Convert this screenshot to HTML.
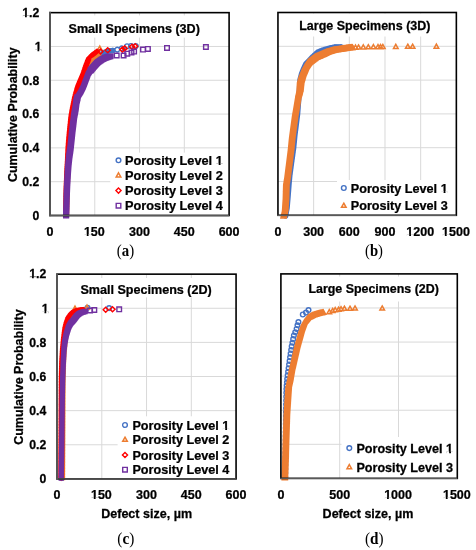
<!DOCTYPE html><html><head><meta charset="utf-8"><style>html,body{margin:0;padding:0;background:#fff;width:476px;height:550px;overflow:hidden}</style></head><body><svg width="476" height="550" viewBox="0 0 476 550" style="display:block;will-change:transform">
<rect width="476" height="550" fill="#fff"/>
<line x1="50.00" y1="181.69" x2="229.10" y2="181.69" stroke="#D9D9D9" stroke-width="1"/>
<line x1="50.00" y1="147.88" x2="229.10" y2="147.88" stroke="#D9D9D9" stroke-width="1"/>
<line x1="50.00" y1="114.08" x2="229.10" y2="114.08" stroke="#D9D9D9" stroke-width="1"/>
<line x1="50.00" y1="80.27" x2="229.10" y2="80.27" stroke="#D9D9D9" stroke-width="1"/>
<line x1="50.00" y1="46.46" x2="229.10" y2="46.46" stroke="#D9D9D9" stroke-width="1"/>
<line x1="94.78" y1="12.65" x2="94.78" y2="215.50" stroke="#D9D9D9" stroke-width="1"/>
<line x1="139.55" y1="12.65" x2="139.55" y2="215.50" stroke="#D9D9D9" stroke-width="1"/>
<line x1="184.32" y1="12.65" x2="184.32" y2="215.50" stroke="#D9D9D9" stroke-width="1"/>
<line x1="277.95" y1="181.50" x2="456.35" y2="181.50" stroke="#D9D9D9" stroke-width="1"/>
<line x1="277.95" y1="147.70" x2="456.35" y2="147.70" stroke="#D9D9D9" stroke-width="1"/>
<line x1="277.95" y1="113.90" x2="456.35" y2="113.90" stroke="#D9D9D9" stroke-width="1"/>
<line x1="277.95" y1="80.10" x2="456.35" y2="80.10" stroke="#D9D9D9" stroke-width="1"/>
<line x1="277.95" y1="46.30" x2="456.35" y2="46.30" stroke="#D9D9D9" stroke-width="1"/>
<line x1="313.63" y1="12.50" x2="313.63" y2="215.30" stroke="#D9D9D9" stroke-width="1"/>
<line x1="349.31" y1="12.50" x2="349.31" y2="215.30" stroke="#D9D9D9" stroke-width="1"/>
<line x1="384.99" y1="12.50" x2="384.99" y2="215.30" stroke="#D9D9D9" stroke-width="1"/>
<line x1="420.67" y1="12.50" x2="420.67" y2="215.30" stroke="#D9D9D9" stroke-width="1"/>
<line x1="57.05" y1="444.77" x2="236.07" y2="444.77" stroke="#D9D9D9" stroke-width="1"/>
<line x1="57.05" y1="410.65" x2="236.07" y2="410.65" stroke="#D9D9D9" stroke-width="1"/>
<line x1="57.05" y1="376.52" x2="236.07" y2="376.52" stroke="#D9D9D9" stroke-width="1"/>
<line x1="57.05" y1="342.40" x2="236.07" y2="342.40" stroke="#D9D9D9" stroke-width="1"/>
<line x1="57.05" y1="308.27" x2="236.07" y2="308.27" stroke="#D9D9D9" stroke-width="1"/>
<line x1="101.80" y1="274.15" x2="101.80" y2="478.90" stroke="#D9D9D9" stroke-width="1"/>
<line x1="146.56" y1="274.15" x2="146.56" y2="478.90" stroke="#D9D9D9" stroke-width="1"/>
<line x1="191.31" y1="274.15" x2="191.31" y2="478.90" stroke="#D9D9D9" stroke-width="1"/>
<line x1="280.90" y1="444.32" x2="457.30" y2="444.32" stroke="#D9D9D9" stroke-width="1"/>
<line x1="280.90" y1="410.23" x2="457.30" y2="410.23" stroke="#D9D9D9" stroke-width="1"/>
<line x1="280.90" y1="376.15" x2="457.30" y2="376.15" stroke="#D9D9D9" stroke-width="1"/>
<line x1="280.90" y1="342.07" x2="457.30" y2="342.07" stroke="#D9D9D9" stroke-width="1"/>
<line x1="280.90" y1="307.98" x2="457.30" y2="307.98" stroke="#D9D9D9" stroke-width="1"/>
<line x1="339.70" y1="273.90" x2="339.70" y2="478.40" stroke="#D9D9D9" stroke-width="1"/>
<line x1="398.50" y1="273.90" x2="398.50" y2="478.40" stroke="#D9D9D9" stroke-width="1"/>
<rect x="63" y="15.4" width="145" height="22.2" fill="#fff"/>
<rect x="293" y="13.5" width="143" height="23.0" fill="#fff"/>
<rect x="75" y="278.0" width="143" height="19.4" fill="#fff"/>
<rect x="303" y="276.5" width="141" height="25.0" fill="#fff"/>
<rect x="110.3" y="152.6" width="118.80" height="62.90" fill="#fff"/>
<rect x="337" y="180" width="119.35" height="35.30" fill="#fff"/>
<rect x="117.6" y="416.3" width="118.47" height="62.60" fill="#fff"/>
<rect x="341.5" y="437" width="115.80" height="41.40" fill="#fff"/>
<path d="M64.00 215.00a2.00 2.00 0 1 0 4.00 0a2.00 2.00 0 1 0 -4.00 0zM64.02 214.31a2.00 2.00 0 1 0 4.00 0a2.00 2.00 0 1 0 -4.00 0zM64.04 213.61a2.00 2.00 0 1 0 4.00 0a2.00 2.00 0 1 0 -4.00 0zM64.06 212.92a2.00 2.00 0 1 0 4.00 0a2.00 2.00 0 1 0 -4.00 0zM64.08 212.22a2.00 2.00 0 1 0 4.00 0a2.00 2.00 0 1 0 -4.00 0zM64.10 211.53a2.00 2.00 0 1 0 4.00 0a2.00 2.00 0 1 0 -4.00 0zM64.12 210.84a2.00 2.00 0 1 0 4.00 0a2.00 2.00 0 1 0 -4.00 0zM64.15 210.14a2.00 2.00 0 1 0 4.00 0a2.00 2.00 0 1 0 -4.00 0zM64.17 209.45a2.00 2.00 0 1 0 4.00 0a2.00 2.00 0 1 0 -4.00 0zM64.19 208.76a2.00 2.00 0 1 0 4.00 0a2.00 2.00 0 1 0 -4.00 0zM64.21 208.06a2.00 2.00 0 1 0 4.00 0a2.00 2.00 0 1 0 -4.00 0zM64.23 207.37a2.00 2.00 0 1 0 4.00 0a2.00 2.00 0 1 0 -4.00 0zM64.25 206.67a2.00 2.00 0 1 0 4.00 0a2.00 2.00 0 1 0 -4.00 0zM64.27 205.98a2.00 2.00 0 1 0 4.00 0a2.00 2.00 0 1 0 -4.00 0zM64.29 205.29a2.00 2.00 0 1 0 4.00 0a2.00 2.00 0 1 0 -4.00 0zM64.31 204.59a2.00 2.00 0 1 0 4.00 0a2.00 2.00 0 1 0 -4.00 0zM64.33 203.90a2.00 2.00 0 1 0 4.00 0a2.00 2.00 0 1 0 -4.00 0zM64.35 203.20a2.00 2.00 0 1 0 4.00 0a2.00 2.00 0 1 0 -4.00 0zM64.37 202.51a2.00 2.00 0 1 0 4.00 0a2.00 2.00 0 1 0 -4.00 0zM64.39 201.82a2.00 2.00 0 1 0 4.00 0a2.00 2.00 0 1 0 -4.00 0zM64.41 201.12a2.00 2.00 0 1 0 4.00 0a2.00 2.00 0 1 0 -4.00 0zM64.43 200.43a2.00 2.00 0 1 0 4.00 0a2.00 2.00 0 1 0 -4.00 0zM64.45 199.73a2.00 2.00 0 1 0 4.00 0a2.00 2.00 0 1 0 -4.00 0zM64.47 199.04a2.00 2.00 0 1 0 4.00 0a2.00 2.00 0 1 0 -4.00 0zM64.49 198.35a2.00 2.00 0 1 0 4.00 0a2.00 2.00 0 1 0 -4.00 0zM64.51 197.65a2.00 2.00 0 1 0 4.00 0a2.00 2.00 0 1 0 -4.00 0zM64.53 196.96a2.00 2.00 0 1 0 4.00 0a2.00 2.00 0 1 0 -4.00 0zM64.55 196.27a2.00 2.00 0 1 0 4.00 0a2.00 2.00 0 1 0 -4.00 0zM64.57 195.57a2.00 2.00 0 1 0 4.00 0a2.00 2.00 0 1 0 -4.00 0zM64.59 194.88a2.00 2.00 0 1 0 4.00 0a2.00 2.00 0 1 0 -4.00 0zM64.61 194.18a2.00 2.00 0 1 0 4.00 0a2.00 2.00 0 1 0 -4.00 0zM64.64 193.49a2.00 2.00 0 1 0 4.00 0a2.00 2.00 0 1 0 -4.00 0zM64.66 192.80a2.00 2.00 0 1 0 4.00 0a2.00 2.00 0 1 0 -4.00 0zM64.68 192.10a2.00 2.00 0 1 0 4.00 0a2.00 2.00 0 1 0 -4.00 0zM64.70 191.41a2.00 2.00 0 1 0 4.00 0a2.00 2.00 0 1 0 -4.00 0zM64.72 190.71a2.00 2.00 0 1 0 4.00 0a2.00 2.00 0 1 0 -4.00 0zM64.74 190.02a2.00 2.00 0 1 0 4.00 0a2.00 2.00 0 1 0 -4.00 0zM64.76 189.33a2.00 2.00 0 1 0 4.00 0a2.00 2.00 0 1 0 -4.00 0zM64.78 188.63a2.00 2.00 0 1 0 4.00 0a2.00 2.00 0 1 0 -4.00 0zM64.80 187.94a2.00 2.00 0 1 0 4.00 0a2.00 2.00 0 1 0 -4.00 0zM64.82 187.24a2.00 2.00 0 1 0 4.00 0a2.00 2.00 0 1 0 -4.00 0zM64.84 186.55a2.00 2.00 0 1 0 4.00 0a2.00 2.00 0 1 0 -4.00 0zM64.86 185.86a2.00 2.00 0 1 0 4.00 0a2.00 2.00 0 1 0 -4.00 0zM64.88 185.16a2.00 2.00 0 1 0 4.00 0a2.00 2.00 0 1 0 -4.00 0zM64.90 184.47a2.00 2.00 0 1 0 4.00 0a2.00 2.00 0 1 0 -4.00 0zM64.92 183.78a2.00 2.00 0 1 0 4.00 0a2.00 2.00 0 1 0 -4.00 0zM64.94 183.08a2.00 2.00 0 1 0 4.00 0a2.00 2.00 0 1 0 -4.00 0zM64.96 182.39a2.00 2.00 0 1 0 4.00 0a2.00 2.00 0 1 0 -4.00 0zM64.98 181.69a2.00 2.00 0 1 0 4.00 0a2.00 2.00 0 1 0 -4.00 0zM65.00 181.00a2.00 2.00 0 1 0 4.00 0a2.00 2.00 0 1 0 -4.00 0zM65.03 180.32a2.00 2.00 0 1 0 4.00 0a2.00 2.00 0 1 0 -4.00 0zM65.07 179.65a2.00 2.00 0 1 0 4.00 0a2.00 2.00 0 1 0 -4.00 0zM65.10 178.97a2.00 2.00 0 1 0 4.00 0a2.00 2.00 0 1 0 -4.00 0zM65.13 178.29a2.00 2.00 0 1 0 4.00 0a2.00 2.00 0 1 0 -4.00 0zM65.16 177.61a2.00 2.00 0 1 0 4.00 0a2.00 2.00 0 1 0 -4.00 0zM65.20 176.94a2.00 2.00 0 1 0 4.00 0a2.00 2.00 0 1 0 -4.00 0zM65.23 176.26a2.00 2.00 0 1 0 4.00 0a2.00 2.00 0 1 0 -4.00 0zM65.26 175.58a2.00 2.00 0 1 0 4.00 0a2.00 2.00 0 1 0 -4.00 0zM65.29 174.90a2.00 2.00 0 1 0 4.00 0a2.00 2.00 0 1 0 -4.00 0zM65.33 174.23a2.00 2.00 0 1 0 4.00 0a2.00 2.00 0 1 0 -4.00 0zM65.36 173.55a2.00 2.00 0 1 0 4.00 0a2.00 2.00 0 1 0 -4.00 0zM65.39 172.87a2.00 2.00 0 1 0 4.00 0a2.00 2.00 0 1 0 -4.00 0zM65.42 172.19a2.00 2.00 0 1 0 4.00 0a2.00 2.00 0 1 0 -4.00 0zM65.45 171.52a2.00 2.00 0 1 0 4.00 0a2.00 2.00 0 1 0 -4.00 0zM65.49 170.84a2.00 2.00 0 1 0 4.00 0a2.00 2.00 0 1 0 -4.00 0zM65.52 170.16a2.00 2.00 0 1 0 4.00 0a2.00 2.00 0 1 0 -4.00 0zM65.55 169.48a2.00 2.00 0 1 0 4.00 0a2.00 2.00 0 1 0 -4.00 0zM65.58 168.81a2.00 2.00 0 1 0 4.00 0a2.00 2.00 0 1 0 -4.00 0zM65.62 168.13a2.00 2.00 0 1 0 4.00 0a2.00 2.00 0 1 0 -4.00 0zM65.65 167.45a2.00 2.00 0 1 0 4.00 0a2.00 2.00 0 1 0 -4.00 0zM65.68 166.77a2.00 2.00 0 1 0 4.00 0a2.00 2.00 0 1 0 -4.00 0zM65.71 166.10a2.00 2.00 0 1 0 4.00 0a2.00 2.00 0 1 0 -4.00 0zM65.74 165.42a2.00 2.00 0 1 0 4.00 0a2.00 2.00 0 1 0 -4.00 0zM65.78 164.74a2.00 2.00 0 1 0 4.00 0a2.00 2.00 0 1 0 -4.00 0zM65.81 164.06a2.00 2.00 0 1 0 4.00 0a2.00 2.00 0 1 0 -4.00 0zM65.84 163.39a2.00 2.00 0 1 0 4.00 0a2.00 2.00 0 1 0 -4.00 0zM65.87 162.71a2.00 2.00 0 1 0 4.00 0a2.00 2.00 0 1 0 -4.00 0zM65.91 162.03a2.00 2.00 0 1 0 4.00 0a2.00 2.00 0 1 0 -4.00 0zM65.94 161.35a2.00 2.00 0 1 0 4.00 0a2.00 2.00 0 1 0 -4.00 0zM65.97 160.68a2.00 2.00 0 1 0 4.00 0a2.00 2.00 0 1 0 -4.00 0zM66.00 160.00a2.00 2.00 0 1 0 4.00 0a2.00 2.00 0 1 0 -4.00 0zM66.07 159.32a2.00 2.00 0 1 0 4.00 0a2.00 2.00 0 1 0 -4.00 0zM66.13 158.63a2.00 2.00 0 1 0 4.00 0a2.00 2.00 0 1 0 -4.00 0zM66.19 157.95a2.00 2.00 0 1 0 4.00 0a2.00 2.00 0 1 0 -4.00 0zM66.26 157.26a2.00 2.00 0 1 0 4.00 0a2.00 2.00 0 1 0 -4.00 0zM66.32 156.58a2.00 2.00 0 1 0 4.00 0a2.00 2.00 0 1 0 -4.00 0zM66.38 155.89a2.00 2.00 0 1 0 4.00 0a2.00 2.00 0 1 0 -4.00 0zM66.44 155.21a2.00 2.00 0 1 0 4.00 0a2.00 2.00 0 1 0 -4.00 0zM66.51 154.53a2.00 2.00 0 1 0 4.00 0a2.00 2.00 0 1 0 -4.00 0zM66.57 153.84a2.00 2.00 0 1 0 4.00 0a2.00 2.00 0 1 0 -4.00 0zM66.63 153.16a2.00 2.00 0 1 0 4.00 0a2.00 2.00 0 1 0 -4.00 0zM66.70 152.47a2.00 2.00 0 1 0 4.00 0a2.00 2.00 0 1 0 -4.00 0zM66.76 151.79a2.00 2.00 0 1 0 4.00 0a2.00 2.00 0 1 0 -4.00 0zM66.82 151.11a2.00 2.00 0 1 0 4.00 0a2.00 2.00 0 1 0 -4.00 0zM66.89 150.42a2.00 2.00 0 1 0 4.00 0a2.00 2.00 0 1 0 -4.00 0zM66.95 149.74a2.00 2.00 0 1 0 4.00 0a2.00 2.00 0 1 0 -4.00 0zM67.01 149.05a2.00 2.00 0 1 0 4.00 0a2.00 2.00 0 1 0 -4.00 0zM67.08 148.37a2.00 2.00 0 1 0 4.00 0a2.00 2.00 0 1 0 -4.00 0zM67.14 147.68a2.00 2.00 0 1 0 4.00 0a2.00 2.00 0 1 0 -4.00 0zM67.20 147.00a2.00 2.00 0 1 0 4.00 0a2.00 2.00 0 1 0 -4.00 0zM67.25 146.31a2.00 2.00 0 1 0 4.00 0a2.00 2.00 0 1 0 -4.00 0zM67.30 145.61a2.00 2.00 0 1 0 4.00 0a2.00 2.00 0 1 0 -4.00 0zM67.35 144.92a2.00 2.00 0 1 0 4.00 0a2.00 2.00 0 1 0 -4.00 0zM67.40 144.22a2.00 2.00 0 1 0 4.00 0a2.00 2.00 0 1 0 -4.00 0zM67.45 143.53a2.00 2.00 0 1 0 4.00 0a2.00 2.00 0 1 0 -4.00 0zM67.50 142.83a2.00 2.00 0 1 0 4.00 0a2.00 2.00 0 1 0 -4.00 0zM67.55 142.14a2.00 2.00 0 1 0 4.00 0a2.00 2.00 0 1 0 -4.00 0zM67.60 141.44a2.00 2.00 0 1 0 4.00 0a2.00 2.00 0 1 0 -4.00 0zM67.65 140.75a2.00 2.00 0 1 0 4.00 0a2.00 2.00 0 1 0 -4.00 0zM67.70 140.06a2.00 2.00 0 1 0 4.00 0a2.00 2.00 0 1 0 -4.00 0zM67.75 139.36a2.00 2.00 0 1 0 4.00 0a2.00 2.00 0 1 0 -4.00 0zM67.80 138.67a2.00 2.00 0 1 0 4.00 0a2.00 2.00 0 1 0 -4.00 0zM67.85 137.97a2.00 2.00 0 1 0 4.00 0a2.00 2.00 0 1 0 -4.00 0zM67.90 137.28a2.00 2.00 0 1 0 4.00 0a2.00 2.00 0 1 0 -4.00 0zM67.95 136.58a2.00 2.00 0 1 0 4.00 0a2.00 2.00 0 1 0 -4.00 0zM68.00 135.89a2.00 2.00 0 1 0 4.00 0a2.00 2.00 0 1 0 -4.00 0zM68.05 135.19a2.00 2.00 0 1 0 4.00 0a2.00 2.00 0 1 0 -4.00 0zM68.10 134.50a2.00 2.00 0 1 0 4.00 0a2.00 2.00 0 1 0 -4.00 0zM68.15 133.81a2.00 2.00 0 1 0 4.00 0a2.00 2.00 0 1 0 -4.00 0zM68.20 133.11a2.00 2.00 0 1 0 4.00 0a2.00 2.00 0 1 0 -4.00 0zM68.25 132.42a2.00 2.00 0 1 0 4.00 0a2.00 2.00 0 1 0 -4.00 0zM68.30 131.72a2.00 2.00 0 1 0 4.00 0a2.00 2.00 0 1 0 -4.00 0zM68.35 131.03a2.00 2.00 0 1 0 4.00 0a2.00 2.00 0 1 0 -4.00 0zM68.40 130.33a2.00 2.00 0 1 0 4.00 0a2.00 2.00 0 1 0 -4.00 0zM68.45 129.64a2.00 2.00 0 1 0 4.00 0a2.00 2.00 0 1 0 -4.00 0zM68.50 128.94a2.00 2.00 0 1 0 4.00 0a2.00 2.00 0 1 0 -4.00 0zM68.55 128.25a2.00 2.00 0 1 0 4.00 0a2.00 2.00 0 1 0 -4.00 0zM68.60 127.56a2.00 2.00 0 1 0 4.00 0a2.00 2.00 0 1 0 -4.00 0zM68.65 126.86a2.00 2.00 0 1 0 4.00 0a2.00 2.00 0 1 0 -4.00 0zM68.70 126.17a2.00 2.00 0 1 0 4.00 0a2.00 2.00 0 1 0 -4.00 0zM68.75 125.47a2.00 2.00 0 1 0 4.00 0a2.00 2.00 0 1 0 -4.00 0zM68.80 124.78a2.00 2.00 0 1 0 4.00 0a2.00 2.00 0 1 0 -4.00 0zM68.85 124.08a2.00 2.00 0 1 0 4.00 0a2.00 2.00 0 1 0 -4.00 0zM68.90 123.39a2.00 2.00 0 1 0 4.00 0a2.00 2.00 0 1 0 -4.00 0zM68.95 122.69a2.00 2.00 0 1 0 4.00 0a2.00 2.00 0 1 0 -4.00 0zM69.00 122.00a2.00 2.00 0 1 0 4.00 0a2.00 2.00 0 1 0 -4.00 0zM69.11 121.32a2.00 2.00 0 1 0 4.00 0a2.00 2.00 0 1 0 -4.00 0zM69.21 120.63a2.00 2.00 0 1 0 4.00 0a2.00 2.00 0 1 0 -4.00 0zM69.32 119.95a2.00 2.00 0 1 0 4.00 0a2.00 2.00 0 1 0 -4.00 0zM69.42 119.26a2.00 2.00 0 1 0 4.00 0a2.00 2.00 0 1 0 -4.00 0zM69.53 118.58a2.00 2.00 0 1 0 4.00 0a2.00 2.00 0 1 0 -4.00 0zM69.63 117.89a2.00 2.00 0 1 0 4.00 0a2.00 2.00 0 1 0 -4.00 0zM69.74 117.21a2.00 2.00 0 1 0 4.00 0a2.00 2.00 0 1 0 -4.00 0zM69.84 116.53a2.00 2.00 0 1 0 4.00 0a2.00 2.00 0 1 0 -4.00 0zM69.95 115.84a2.00 2.00 0 1 0 4.00 0a2.00 2.00 0 1 0 -4.00 0zM70.06 115.16a2.00 2.00 0 1 0 4.00 0a2.00 2.00 0 1 0 -4.00 0zM70.16 114.47a2.00 2.00 0 1 0 4.00 0a2.00 2.00 0 1 0 -4.00 0zM70.27 113.79a2.00 2.00 0 1 0 4.00 0a2.00 2.00 0 1 0 -4.00 0zM70.37 113.11a2.00 2.00 0 1 0 4.00 0a2.00 2.00 0 1 0 -4.00 0zM70.48 112.42a2.00 2.00 0 1 0 4.00 0a2.00 2.00 0 1 0 -4.00 0zM70.58 111.74a2.00 2.00 0 1 0 4.00 0a2.00 2.00 0 1 0 -4.00 0zM70.69 111.05a2.00 2.00 0 1 0 4.00 0a2.00 2.00 0 1 0 -4.00 0zM70.79 110.37a2.00 2.00 0 1 0 4.00 0a2.00 2.00 0 1 0 -4.00 0zM70.90 109.68a2.00 2.00 0 1 0 4.00 0a2.00 2.00 0 1 0 -4.00 0zM71.00 109.00a2.00 2.00 0 1 0 4.00 0a2.00 2.00 0 1 0 -4.00 0zM71.21 108.32a2.00 2.00 0 1 0 4.00 0a2.00 2.00 0 1 0 -4.00 0zM71.41 107.64a2.00 2.00 0 1 0 4.00 0a2.00 2.00 0 1 0 -4.00 0zM71.62 106.95a2.00 2.00 0 1 0 4.00 0a2.00 2.00 0 1 0 -4.00 0zM71.82 106.27a2.00 2.00 0 1 0 4.00 0a2.00 2.00 0 1 0 -4.00 0zM72.03 105.59a2.00 2.00 0 1 0 4.00 0a2.00 2.00 0 1 0 -4.00 0zM72.23 104.91a2.00 2.00 0 1 0 4.00 0a2.00 2.00 0 1 0 -4.00 0zM72.43 104.23a2.00 2.00 0 1 0 4.00 0a2.00 2.00 0 1 0 -4.00 0zM72.64 103.55a2.00 2.00 0 1 0 4.00 0a2.00 2.00 0 1 0 -4.00 0zM72.84 102.86a2.00 2.00 0 1 0 4.00 0a2.00 2.00 0 1 0 -4.00 0zM73.05 102.18a2.00 2.00 0 1 0 4.00 0a2.00 2.00 0 1 0 -4.00 0zM73.25 101.50a2.00 2.00 0 1 0 4.00 0a2.00 2.00 0 1 0 -4.00 0zM73.46 100.82a2.00 2.00 0 1 0 4.00 0a2.00 2.00 0 1 0 -4.00 0zM73.66 100.14a2.00 2.00 0 1 0 4.00 0a2.00 2.00 0 1 0 -4.00 0zM73.87 99.45a2.00 2.00 0 1 0 4.00 0a2.00 2.00 0 1 0 -4.00 0zM74.07 98.77a2.00 2.00 0 1 0 4.00 0a2.00 2.00 0 1 0 -4.00 0zM74.28 98.09a2.00 2.00 0 1 0 4.00 0a2.00 2.00 0 1 0 -4.00 0zM74.48 97.41a2.00 2.00 0 1 0 4.00 0a2.00 2.00 0 1 0 -4.00 0zM74.68 96.73a2.00 2.00 0 1 0 4.00 0a2.00 2.00 0 1 0 -4.00 0zM74.89 96.05a2.00 2.00 0 1 0 4.00 0a2.00 2.00 0 1 0 -4.00 0zM75.09 95.36a2.00 2.00 0 1 0 4.00 0a2.00 2.00 0 1 0 -4.00 0zM75.30 94.68a2.00 2.00 0 1 0 4.00 0a2.00 2.00 0 1 0 -4.00 0zM75.50 94.00a2.00 2.00 0 1 0 4.00 0a2.00 2.00 0 1 0 -4.00 0zM75.77 93.31a2.00 2.00 0 1 0 4.00 0a2.00 2.00 0 1 0 -4.00 0zM76.04 92.62a2.00 2.00 0 1 0 4.00 0a2.00 2.00 0 1 0 -4.00 0zM76.31 91.92a2.00 2.00 0 1 0 4.00 0a2.00 2.00 0 1 0 -4.00 0zM76.58 91.23a2.00 2.00 0 1 0 4.00 0a2.00 2.00 0 1 0 -4.00 0zM76.85 90.54a2.00 2.00 0 1 0 4.00 0a2.00 2.00 0 1 0 -4.00 0zM77.12 89.85a2.00 2.00 0 1 0 4.00 0a2.00 2.00 0 1 0 -4.00 0zM77.39 89.15a2.00 2.00 0 1 0 4.00 0a2.00 2.00 0 1 0 -4.00 0zM77.66 88.46a2.00 2.00 0 1 0 4.00 0a2.00 2.00 0 1 0 -4.00 0zM77.93 87.77a2.00 2.00 0 1 0 4.00 0a2.00 2.00 0 1 0 -4.00 0zM78.19 87.08a2.00 2.00 0 1 0 4.00 0a2.00 2.00 0 1 0 -4.00 0zM78.46 86.38a2.00 2.00 0 1 0 4.00 0a2.00 2.00 0 1 0 -4.00 0zM78.73 85.69a2.00 2.00 0 1 0 4.00 0a2.00 2.00 0 1 0 -4.00 0zM79.00 85.00a2.00 2.00 0 1 0 4.00 0a2.00 2.00 0 1 0 -4.00 0zM79.29 84.33a2.00 2.00 0 1 0 4.00 0a2.00 2.00 0 1 0 -4.00 0zM79.59 83.67a2.00 2.00 0 1 0 4.00 0a2.00 2.00 0 1 0 -4.00 0zM79.88 83.00a2.00 2.00 0 1 0 4.00 0a2.00 2.00 0 1 0 -4.00 0zM80.17 82.33a2.00 2.00 0 1 0 4.00 0a2.00 2.00 0 1 0 -4.00 0zM80.46 81.67a2.00 2.00 0 1 0 4.00 0a2.00 2.00 0 1 0 -4.00 0zM80.75 81.00a2.00 2.00 0 1 0 4.00 0a2.00 2.00 0 1 0 -4.00 0zM81.04 80.33a2.00 2.00 0 1 0 4.00 0a2.00 2.00 0 1 0 -4.00 0zM81.34 79.67a2.00 2.00 0 1 0 4.00 0a2.00 2.00 0 1 0 -4.00 0zM81.63 79.00a2.00 2.00 0 1 0 4.00 0a2.00 2.00 0 1 0 -4.00 0zM81.92 78.33a2.00 2.00 0 1 0 4.00 0a2.00 2.00 0 1 0 -4.00 0zM82.21 77.67a2.00 2.00 0 1 0 4.00 0a2.00 2.00 0 1 0 -4.00 0zM82.50 77.00a2.00 2.00 0 1 0 4.00 0a2.00 2.00 0 1 0 -4.00 0zM82.85 76.35a2.00 2.00 0 1 0 4.00 0a2.00 2.00 0 1 0 -4.00 0zM83.20 75.70a2.00 2.00 0 1 0 4.00 0a2.00 2.00 0 1 0 -4.00 0zM83.55 75.05a2.00 2.00 0 1 0 4.00 0a2.00 2.00 0 1 0 -4.00 0zM83.90 74.40a2.00 2.00 0 1 0 4.00 0a2.00 2.00 0 1 0 -4.00 0zM84.25 73.75a2.00 2.00 0 1 0 4.00 0a2.00 2.00 0 1 0 -4.00 0zM84.60 73.10a2.00 2.00 0 1 0 4.00 0a2.00 2.00 0 1 0 -4.00 0zM84.95 72.45a2.00 2.00 0 1 0 4.00 0a2.00 2.00 0 1 0 -4.00 0zM85.30 71.80a2.00 2.00 0 1 0 4.00 0a2.00 2.00 0 1 0 -4.00 0zM85.65 71.15a2.00 2.00 0 1 0 4.00 0a2.00 2.00 0 1 0 -4.00 0zM86.00 70.50a2.00 2.00 0 1 0 4.00 0a2.00 2.00 0 1 0 -4.00 0zM86.40 69.85a2.00 2.00 0 1 0 4.00 0a2.00 2.00 0 1 0 -4.00 0zM86.80 69.20a2.00 2.00 0 1 0 4.00 0a2.00 2.00 0 1 0 -4.00 0zM87.20 68.55a2.00 2.00 0 1 0 4.00 0a2.00 2.00 0 1 0 -4.00 0zM87.60 67.90a2.00 2.00 0 1 0 4.00 0a2.00 2.00 0 1 0 -4.00 0zM88.00 67.25a2.00 2.00 0 1 0 4.00 0a2.00 2.00 0 1 0 -4.00 0zM88.40 66.60a2.00 2.00 0 1 0 4.00 0a2.00 2.00 0 1 0 -4.00 0zM88.80 65.95a2.00 2.00 0 1 0 4.00 0a2.00 2.00 0 1 0 -4.00 0zM89.20 65.30a2.00 2.00 0 1 0 4.00 0a2.00 2.00 0 1 0 -4.00 0zM89.60 64.65a2.00 2.00 0 1 0 4.00 0a2.00 2.00 0 1 0 -4.00 0zM90.00 64.00a2.00 2.00 0 1 0 4.00 0a2.00 2.00 0 1 0 -4.00 0zM90.50 63.31a2.00 2.00 0 1 0 4.00 0a2.00 2.00 0 1 0 -4.00 0zM91.00 62.62a2.00 2.00 0 1 0 4.00 0a2.00 2.00 0 1 0 -4.00 0zM91.50 61.94a2.00 2.00 0 1 0 4.00 0a2.00 2.00 0 1 0 -4.00 0zM92.00 61.25a2.00 2.00 0 1 0 4.00 0a2.00 2.00 0 1 0 -4.00 0zM92.50 60.56a2.00 2.00 0 1 0 4.00 0a2.00 2.00 0 1 0 -4.00 0zM93.00 59.88a2.00 2.00 0 1 0 4.00 0a2.00 2.00 0 1 0 -4.00 0zM93.50 59.19a2.00 2.00 0 1 0 4.00 0a2.00 2.00 0 1 0 -4.00 0zM94.00 58.50a2.00 2.00 0 1 0 4.00 0a2.00 2.00 0 1 0 -4.00 0zM94.67 57.92a2.00 2.00 0 1 0 4.00 0a2.00 2.00 0 1 0 -4.00 0zM95.34 57.33a2.00 2.00 0 1 0 4.00 0a2.00 2.00 0 1 0 -4.00 0zM96.00 56.75a2.00 2.00 0 1 0 4.00 0a2.00 2.00 0 1 0 -4.00 0zM96.67 56.17a2.00 2.00 0 1 0 4.00 0a2.00 2.00 0 1 0 -4.00 0zM97.34 55.58a2.00 2.00 0 1 0 4.00 0a2.00 2.00 0 1 0 -4.00 0zM98.00 55.00a2.00 2.00 0 1 0 4.00 0a2.00 2.00 0 1 0 -4.00 0zM98.67 54.58a2.00 2.00 0 1 0 4.00 0a2.00 2.00 0 1 0 -4.00 0zM99.34 54.17a2.00 2.00 0 1 0 4.00 0a2.00 2.00 0 1 0 -4.00 0zM100.00 53.75a2.00 2.00 0 1 0 4.00 0a2.00 2.00 0 1 0 -4.00 0zM100.67 53.33a2.00 2.00 0 1 0 4.00 0a2.00 2.00 0 1 0 -4.00 0zM101.34 52.92a2.00 2.00 0 1 0 4.00 0a2.00 2.00 0 1 0 -4.00 0zM102.00 52.50a2.00 2.00 0 1 0 4.00 0a2.00 2.00 0 1 0 -4.00 0zM102.63 52.29a2.00 2.00 0 1 0 4.00 0a2.00 2.00 0 1 0 -4.00 0zM103.25 52.08a2.00 2.00 0 1 0 4.00 0a2.00 2.00 0 1 0 -4.00 0zM103.88 51.86a2.00 2.00 0 1 0 4.00 0a2.00 2.00 0 1 0 -4.00 0zM104.50 51.65a2.00 2.00 0 1 0 4.00 0a2.00 2.00 0 1 0 -4.00 0zM105.13 51.44a2.00 2.00 0 1 0 4.00 0a2.00 2.00 0 1 0 -4.00 0zM105.75 51.22a2.00 2.00 0 1 0 4.00 0a2.00 2.00 0 1 0 -4.00 0zM106.38 51.01a2.00 2.00 0 1 0 4.00 0a2.00 2.00 0 1 0 -4.00 0zM107.00 50.80a2.00 2.00 0 1 0 4.00 0a2.00 2.00 0 1 0 -4.00 0zM107.67 50.75a2.00 2.00 0 1 0 4.00 0a2.00 2.00 0 1 0 -4.00 0zM108.34 50.70a2.00 2.00 0 1 0 4.00 0a2.00 2.00 0 1 0 -4.00 0zM109.00 50.65a2.00 2.00 0 1 0 4.00 0a2.00 2.00 0 1 0 -4.00 0zM109.67 50.60a2.00 2.00 0 1 0 4.00 0a2.00 2.00 0 1 0 -4.00 0zM110.34 50.55a2.00 2.00 0 1 0 4.00 0a2.00 2.00 0 1 0 -4.00 0zM111.00 50.50a2.00 2.00 0 1 0 4.00 0a2.00 2.00 0 1 0 -4.00 0zM114.95 49.60a2.35 2.35 0 1 0 4.70 0a2.35 2.35 0 1 0 -4.70 0zM119.35 48.30a2.35 2.35 0 1 0 4.70 0a2.35 2.35 0 1 0 -4.70 0zM124.65 46.20a2.35 2.35 0 1 0 4.70 0a2.35 2.35 0 1 0 -4.70 0zM128.65 46.00a2.35 2.35 0 1 0 4.70 0a2.35 2.35 0 1 0 -4.70 0zM133.45 46.00a2.35 2.35 0 1 0 4.70 0a2.35 2.35 0 1 0 -4.70 0z" fill="none" stroke="#4472C4" stroke-width="1.4" stroke-linejoin="miter"/>
<path d="M66.00 212.89l1.95 3.52h-3.91zM66.02 212.19l1.95 3.52h-3.91zM66.04 211.50l1.95 3.52h-3.91zM66.06 210.81l1.95 3.52h-3.91zM66.08 210.11l1.95 3.52h-3.91zM66.10 209.42l1.95 3.52h-3.91zM66.12 208.73l1.95 3.52h-3.91zM66.14 208.03l1.95 3.52h-3.91zM66.16 207.34l1.95 3.52h-3.91zM66.18 206.64l1.95 3.52h-3.91zM66.20 205.95l1.95 3.52h-3.91zM66.22 205.26l1.95 3.52h-3.91zM66.24 204.56l1.95 3.52h-3.91zM66.27 203.87l1.95 3.52h-3.91zM66.29 203.17l1.95 3.52h-3.91zM66.31 202.48l1.95 3.52h-3.91zM66.33 201.79l1.95 3.52h-3.91zM66.35 201.09l1.95 3.52h-3.91zM66.37 200.40l1.95 3.52h-3.91zM66.39 199.70l1.95 3.52h-3.91zM66.41 199.01l1.95 3.52h-3.91zM66.43 198.32l1.95 3.52h-3.91zM66.45 197.62l1.95 3.52h-3.91zM66.47 196.93l1.95 3.52h-3.91zM66.49 196.24l1.95 3.52h-3.91zM66.51 195.54l1.95 3.52h-3.91zM66.53 194.85l1.95 3.52h-3.91zM66.55 194.15l1.95 3.52h-3.91zM66.57 193.46l1.95 3.52h-3.91zM66.59 192.77l1.95 3.52h-3.91zM66.61 192.07l1.95 3.52h-3.91zM66.63 191.38l1.95 3.52h-3.91zM66.65 190.68l1.95 3.52h-3.91zM66.67 189.99l1.95 3.52h-3.91zM66.69 189.30l1.95 3.52h-3.91zM66.71 188.60l1.95 3.52h-3.91zM66.73 187.91l1.95 3.52h-3.91zM66.76 187.22l1.95 3.52h-3.91zM66.78 186.52l1.95 3.52h-3.91zM66.80 185.83l1.95 3.52h-3.91zM66.82 185.13l1.95 3.52h-3.91zM66.84 184.44l1.95 3.52h-3.91zM66.86 183.75l1.95 3.52h-3.91zM66.88 183.05l1.95 3.52h-3.91zM66.90 182.36l1.95 3.52h-3.91zM66.92 181.66l1.95 3.52h-3.91zM66.94 180.97l1.95 3.52h-3.91zM66.96 180.28l1.95 3.52h-3.91zM66.98 179.58l1.95 3.52h-3.91zM67.00 178.89l1.95 3.52h-3.91zM67.03 178.21l1.95 3.52h-3.91zM67.06 177.53l1.95 3.52h-3.91zM67.10 176.86l1.95 3.52h-3.91zM67.13 176.18l1.95 3.52h-3.91zM67.16 175.50l1.95 3.52h-3.91zM67.19 174.82l1.95 3.52h-3.91zM67.23 174.15l1.95 3.52h-3.91zM67.26 173.47l1.95 3.52h-3.91zM67.29 172.79l1.95 3.52h-3.91zM67.32 172.11l1.95 3.52h-3.91zM67.35 171.44l1.95 3.52h-3.91zM67.39 170.76l1.95 3.52h-3.91zM67.42 170.08l1.95 3.52h-3.91zM67.45 169.40l1.95 3.52h-3.91zM67.48 168.73l1.95 3.52h-3.91zM67.52 168.05l1.95 3.52h-3.91zM67.55 167.37l1.95 3.52h-3.91zM67.58 166.70l1.95 3.52h-3.91zM67.61 166.02l1.95 3.52h-3.91zM67.65 165.34l1.95 3.52h-3.91zM67.68 164.66l1.95 3.52h-3.91zM67.71 163.99l1.95 3.52h-3.91zM67.74 163.31l1.95 3.52h-3.91zM67.77 162.63l1.95 3.52h-3.91zM67.81 161.95l1.95 3.52h-3.91zM67.84 161.28l1.95 3.52h-3.91zM67.87 160.60l1.95 3.52h-3.91zM67.90 159.92l1.95 3.52h-3.91zM67.94 159.24l1.95 3.52h-3.91zM67.97 158.57l1.95 3.52h-3.91zM68.00 157.89l1.95 3.52h-3.91zM68.06 157.20l1.95 3.52h-3.91zM68.13 156.52l1.95 3.52h-3.91zM68.19 155.84l1.95 3.52h-3.91zM68.25 155.15l1.95 3.52h-3.91zM68.32 154.47l1.95 3.52h-3.91zM68.38 153.78l1.95 3.52h-3.91zM68.44 153.10l1.95 3.52h-3.91zM68.51 152.41l1.95 3.52h-3.91zM68.57 151.73l1.95 3.52h-3.91zM68.63 151.05l1.95 3.52h-3.91zM68.69 150.36l1.95 3.52h-3.91zM68.76 149.68l1.95 3.52h-3.91zM68.82 148.99l1.95 3.52h-3.91zM68.88 148.31l1.95 3.52h-3.91zM68.95 147.63l1.95 3.52h-3.91zM69.01 146.94l1.95 3.52h-3.91zM69.07 146.26l1.95 3.52h-3.91zM69.14 145.57l1.95 3.52h-3.91zM69.20 144.89l1.95 3.52h-3.91zM69.25 144.19l1.95 3.52h-3.91zM69.30 143.50l1.95 3.52h-3.91zM69.35 142.81l1.95 3.52h-3.91zM69.40 142.11l1.95 3.52h-3.91zM69.45 141.42l1.95 3.52h-3.91zM69.50 140.72l1.95 3.52h-3.91zM69.55 140.03l1.95 3.52h-3.91zM69.60 139.33l1.95 3.52h-3.91zM69.65 138.64l1.95 3.52h-3.91zM69.70 137.94l1.95 3.52h-3.91zM69.75 137.25l1.95 3.52h-3.91zM69.80 136.56l1.95 3.52h-3.91zM69.85 135.86l1.95 3.52h-3.91zM69.90 135.17l1.95 3.52h-3.91zM69.95 134.47l1.95 3.52h-3.91zM70.00 133.78l1.95 3.52h-3.91zM70.05 133.08l1.95 3.52h-3.91zM70.10 132.39l1.95 3.52h-3.91zM70.15 131.69l1.95 3.52h-3.91zM70.20 131.00l1.95 3.52h-3.91zM70.25 130.31l1.95 3.52h-3.91zM70.30 129.61l1.95 3.52h-3.91zM70.35 128.92l1.95 3.52h-3.91zM70.40 128.22l1.95 3.52h-3.91zM70.45 127.53l1.95 3.52h-3.91zM70.50 126.83l1.95 3.52h-3.91zM70.55 126.14l1.95 3.52h-3.91zM70.60 125.44l1.95 3.52h-3.91zM70.65 124.75l1.95 3.52h-3.91zM70.70 124.06l1.95 3.52h-3.91zM70.75 123.36l1.95 3.52h-3.91zM70.80 122.67l1.95 3.52h-3.91zM70.85 121.97l1.95 3.52h-3.91zM70.90 121.28l1.95 3.52h-3.91zM70.95 120.58l1.95 3.52h-3.91zM71.00 119.89l1.95 3.52h-3.91zM71.11 119.20l1.95 3.52h-3.91zM71.21 118.52l1.95 3.52h-3.91zM71.32 117.84l1.95 3.52h-3.91zM71.42 117.15l1.95 3.52h-3.91zM71.53 116.47l1.95 3.52h-3.91zM71.63 115.78l1.95 3.52h-3.91zM71.74 115.10l1.95 3.52h-3.91zM71.84 114.41l1.95 3.52h-3.91zM71.95 113.73l1.95 3.52h-3.91zM72.05 113.05l1.95 3.52h-3.91zM72.16 112.36l1.95 3.52h-3.91zM72.26 111.68l1.95 3.52h-3.91zM72.37 110.99l1.95 3.52h-3.91zM72.47 110.31l1.95 3.52h-3.91zM72.58 109.63l1.95 3.52h-3.91zM72.68 108.94l1.95 3.52h-3.91zM72.79 108.26l1.95 3.52h-3.91zM72.89 107.57l1.95 3.52h-3.91zM73.00 106.89l1.95 3.52h-3.91zM73.20 106.21l1.95 3.52h-3.91zM73.41 105.52l1.95 3.52h-3.91zM73.61 104.84l1.95 3.52h-3.91zM73.82 104.16l1.95 3.52h-3.91zM74.02 103.48l1.95 3.52h-3.91zM74.23 102.80l1.95 3.52h-3.91zM74.43 102.12l1.95 3.52h-3.91zM74.64 101.43l1.95 3.52h-3.91zM74.84 100.75l1.95 3.52h-3.91zM75.05 100.07l1.95 3.52h-3.91zM75.25 99.39l1.95 3.52h-3.91zM75.45 98.71l1.95 3.52h-3.91zM75.66 98.02l1.95 3.52h-3.91zM75.86 97.34l1.95 3.52h-3.91zM76.07 96.66l1.95 3.52h-3.91zM76.27 95.98l1.95 3.52h-3.91zM76.48 95.30l1.95 3.52h-3.91zM76.68 94.62l1.95 3.52h-3.91zM76.89 93.93l1.95 3.52h-3.91zM77.09 93.25l1.95 3.52h-3.91zM77.30 92.57l1.95 3.52h-3.91zM77.50 91.89l1.95 3.52h-3.91zM77.73 91.20l1.95 3.52h-3.91zM77.96 90.50l1.95 3.52h-3.91zM78.19 89.81l1.95 3.52h-3.91zM78.42 89.12l1.95 3.52h-3.91zM78.65 88.43l1.95 3.52h-3.91zM78.88 87.73l1.95 3.52h-3.91zM79.12 87.04l1.95 3.52h-3.91zM79.35 86.35l1.95 3.52h-3.91zM79.58 85.66l1.95 3.52h-3.91zM79.81 84.97l1.95 3.52h-3.91zM80.04 84.27l1.95 3.52h-3.91zM80.27 83.58l1.95 3.52h-3.91zM80.50 82.89l1.95 3.52h-3.91zM80.75 82.22l1.95 3.52h-3.91zM81.00 81.56l1.95 3.52h-3.91zM81.25 80.89l1.95 3.52h-3.91zM81.50 80.22l1.95 3.52h-3.91zM81.75 79.56l1.95 3.52h-3.91zM82.00 78.89l1.95 3.52h-3.91zM82.25 78.22l1.95 3.52h-3.91zM82.50 77.56l1.95 3.52h-3.91zM82.75 76.89l1.95 3.52h-3.91zM83.00 76.22l1.95 3.52h-3.91zM83.25 75.56l1.95 3.52h-3.91zM83.50 74.89l1.95 3.52h-3.91zM83.83 74.22l1.95 3.52h-3.91zM84.17 73.56l1.95 3.52h-3.91zM84.50 72.89l1.95 3.52h-3.91zM84.83 72.22l1.95 3.52h-3.91zM85.17 71.56l1.95 3.52h-3.91zM85.50 70.89l1.95 3.52h-3.91zM85.83 70.22l1.95 3.52h-3.91zM86.17 69.56l1.95 3.52h-3.91zM86.50 68.89l1.95 3.52h-3.91zM86.89 68.22l1.95 3.52h-3.91zM87.28 67.56l1.95 3.52h-3.91zM87.67 66.89l1.95 3.52h-3.91zM88.06 66.22l1.95 3.52h-3.91zM88.44 65.56l1.95 3.52h-3.91zM88.83 64.89l1.95 3.52h-3.91zM89.22 64.22l1.95 3.52h-3.91zM89.61 63.56l1.95 3.52h-3.91zM90.00 62.89l1.95 3.52h-3.91zM90.44 62.26l1.95 3.52h-3.91zM90.88 61.64l1.95 3.52h-3.91zM91.31 61.01l1.95 3.52h-3.91zM91.75 60.39l1.95 3.52h-3.91zM92.19 59.76l1.95 3.52h-3.91zM92.62 59.14l1.95 3.52h-3.91zM93.06 58.51l1.95 3.52h-3.91zM93.50 57.89l1.95 3.52h-3.91zM94.08 57.22l1.95 3.52h-3.91zM94.67 56.56l1.95 3.52h-3.91zM95.25 55.89l1.95 3.52h-3.91zM95.83 55.22l1.95 3.52h-3.91zM96.42 54.56l1.95 3.52h-3.91zM97.00 53.89l1.95 3.52h-3.91zM97.50 53.26l1.95 3.52h-3.91zM98.00 52.64l1.95 3.52h-3.91zM98.50 52.01l1.95 3.52h-3.91zM99.00 51.39l1.95 3.52h-3.91zM99.80 46.12l2.30 4.14h-4.60z" fill="none" stroke="#ED7D31" stroke-width="1.5" stroke-linejoin="miter"/>
<path d="M66.10 212.83l2.17 2.17l-2.17 2.17l-2.17 -2.17zM66.11 212.24l2.17 2.17l-2.17 2.17l-2.17 -2.17zM66.12 211.66l2.17 2.17l-2.17 2.17l-2.17 -2.17zM66.13 211.07l2.17 2.17l-2.17 2.17l-2.17 -2.17zM66.14 210.48l2.17 2.17l-2.17 2.17l-2.17 -2.17zM66.14 209.89l2.17 2.17l-2.17 2.17l-2.17 -2.17zM66.15 209.30l2.17 2.17l-2.17 2.17l-2.17 -2.17zM66.16 208.71l2.17 2.17l-2.17 2.17l-2.17 -2.17zM66.17 208.13l2.17 2.17l-2.17 2.17l-2.17 -2.17zM66.18 207.54l2.17 2.17l-2.17 2.17l-2.17 -2.17zM66.19 206.95l2.17 2.17l-2.17 2.17l-2.17 -2.17zM66.20 206.36l2.17 2.17l-2.17 2.17l-2.17 -2.17zM66.21 205.77l2.17 2.17l-2.17 2.17l-2.17 -2.17zM66.21 205.19l2.17 2.17l-2.17 2.17l-2.17 -2.17zM66.22 204.60l2.17 2.17l-2.17 2.17l-2.17 -2.17zM66.23 204.01l2.17 2.17l-2.17 2.17l-2.17 -2.17zM66.24 203.42l2.17 2.17l-2.17 2.17l-2.17 -2.17zM66.25 202.83l2.17 2.17l-2.17 2.17l-2.17 -2.17zM66.26 202.24l2.17 2.17l-2.17 2.17l-2.17 -2.17zM66.27 201.66l2.17 2.17l-2.17 2.17l-2.17 -2.17zM66.28 201.07l2.17 2.17l-2.17 2.17l-2.17 -2.17zM66.29 200.48l2.17 2.17l-2.17 2.17l-2.17 -2.17zM66.29 199.89l2.17 2.17l-2.17 2.17l-2.17 -2.17zM66.30 199.30l2.17 2.17l-2.17 2.17l-2.17 -2.17zM66.31 198.71l2.17 2.17l-2.17 2.17l-2.17 -2.17zM66.32 198.13l2.17 2.17l-2.17 2.17l-2.17 -2.17zM66.33 197.54l2.17 2.17l-2.17 2.17l-2.17 -2.17zM66.34 196.95l2.17 2.17l-2.17 2.17l-2.17 -2.17zM66.35 196.36l2.17 2.17l-2.17 2.17l-2.17 -2.17zM66.36 195.77l2.17 2.17l-2.17 2.17l-2.17 -2.17zM66.36 195.19l2.17 2.17l-2.17 2.17l-2.17 -2.17zM66.37 194.60l2.17 2.17l-2.17 2.17l-2.17 -2.17zM66.38 194.01l2.17 2.17l-2.17 2.17l-2.17 -2.17zM66.39 193.42l2.17 2.17l-2.17 2.17l-2.17 -2.17zM66.40 192.83l2.17 2.17l-2.17 2.17l-2.17 -2.17zM66.42 192.24l2.17 2.17l-2.17 2.17l-2.17 -2.17zM66.44 191.65l2.17 2.17l-2.17 2.17l-2.17 -2.17zM66.45 191.06l2.17 2.17l-2.17 2.17l-2.17 -2.17zM66.47 190.47l2.17 2.17l-2.17 2.17l-2.17 -2.17zM66.49 189.88l2.17 2.17l-2.17 2.17l-2.17 -2.17zM66.51 189.29l2.17 2.17l-2.17 2.17l-2.17 -2.17zM66.53 188.70l2.17 2.17l-2.17 2.17l-2.17 -2.17zM66.55 188.11l2.17 2.17l-2.17 2.17l-2.17 -2.17zM66.56 187.51l2.17 2.17l-2.17 2.17l-2.17 -2.17zM66.58 186.92l2.17 2.17l-2.17 2.17l-2.17 -2.17zM66.60 186.33l2.17 2.17l-2.17 2.17l-2.17 -2.17zM66.62 185.74l2.17 2.17l-2.17 2.17l-2.17 -2.17zM66.64 185.15l2.17 2.17l-2.17 2.17l-2.17 -2.17zM66.65 184.56l2.17 2.17l-2.17 2.17l-2.17 -2.17zM66.67 183.97l2.17 2.17l-2.17 2.17l-2.17 -2.17zM66.69 183.38l2.17 2.17l-2.17 2.17l-2.17 -2.17zM66.71 182.79l2.17 2.17l-2.17 2.17l-2.17 -2.17zM66.73 182.20l2.17 2.17l-2.17 2.17l-2.17 -2.17zM66.75 181.61l2.17 2.17l-2.17 2.17l-2.17 -2.17zM66.76 181.01l2.17 2.17l-2.17 2.17l-2.17 -2.17zM66.78 180.42l2.17 2.17l-2.17 2.17l-2.17 -2.17zM66.80 179.83l2.17 2.17l-2.17 2.17l-2.17 -2.17zM66.83 179.23l2.17 2.17l-2.17 2.17l-2.17 -2.17zM66.86 178.63l2.17 2.17l-2.17 2.17l-2.17 -2.17zM66.89 178.03l2.17 2.17l-2.17 2.17l-2.17 -2.17zM66.92 177.43l2.17 2.17l-2.17 2.17l-2.17 -2.17zM66.95 176.83l2.17 2.17l-2.17 2.17l-2.17 -2.17zM66.98 176.23l2.17 2.17l-2.17 2.17l-2.17 -2.17zM67.01 175.63l2.17 2.17l-2.17 2.17l-2.17 -2.17zM67.04 175.03l2.17 2.17l-2.17 2.17l-2.17 -2.17zM67.07 174.43l2.17 2.17l-2.17 2.17l-2.17 -2.17zM67.10 173.83l2.17 2.17l-2.17 2.17l-2.17 -2.17zM67.13 173.23l2.17 2.17l-2.17 2.17l-2.17 -2.17zM67.16 172.63l2.17 2.17l-2.17 2.17l-2.17 -2.17zM67.19 172.03l2.17 2.17l-2.17 2.17l-2.17 -2.17zM67.22 171.43l2.17 2.17l-2.17 2.17l-2.17 -2.17zM67.25 170.83l2.17 2.17l-2.17 2.17l-2.17 -2.17zM67.28 170.23l2.17 2.17l-2.17 2.17l-2.17 -2.17zM67.31 169.63l2.17 2.17l-2.17 2.17l-2.17 -2.17zM67.34 169.03l2.17 2.17l-2.17 2.17l-2.17 -2.17zM67.37 168.43l2.17 2.17l-2.17 2.17l-2.17 -2.17zM67.40 167.83l2.17 2.17l-2.17 2.17l-2.17 -2.17zM67.43 167.25l2.17 2.17l-2.17 2.17l-2.17 -2.17zM67.46 166.67l2.17 2.17l-2.17 2.17l-2.17 -2.17zM67.49 166.08l2.17 2.17l-2.17 2.17l-2.17 -2.17zM67.52 165.50l2.17 2.17l-2.17 2.17l-2.17 -2.17zM67.55 164.92l2.17 2.17l-2.17 2.17l-2.17 -2.17zM67.57 164.33l2.17 2.17l-2.17 2.17l-2.17 -2.17zM67.60 163.75l2.17 2.17l-2.17 2.17l-2.17 -2.17zM67.63 163.17l2.17 2.17l-2.17 2.17l-2.17 -2.17zM67.66 162.58l2.17 2.17l-2.17 2.17l-2.17 -2.17zM67.69 162.00l2.17 2.17l-2.17 2.17l-2.17 -2.17zM67.72 161.42l2.17 2.17l-2.17 2.17l-2.17 -2.17zM67.75 160.83l2.17 2.17l-2.17 2.17l-2.17 -2.17zM67.78 160.25l2.17 2.17l-2.17 2.17l-2.17 -2.17zM67.81 159.67l2.17 2.17l-2.17 2.17l-2.17 -2.17zM67.84 159.08l2.17 2.17l-2.17 2.17l-2.17 -2.17zM67.87 158.50l2.17 2.17l-2.17 2.17l-2.17 -2.17zM67.90 157.92l2.17 2.17l-2.17 2.17l-2.17 -2.17zM67.92 157.33l2.17 2.17l-2.17 2.17l-2.17 -2.17zM67.95 156.75l2.17 2.17l-2.17 2.17l-2.17 -2.17zM67.98 156.17l2.17 2.17l-2.17 2.17l-2.17 -2.17zM68.01 155.58l2.17 2.17l-2.17 2.17l-2.17 -2.17zM68.04 155.00l2.17 2.17l-2.17 2.17l-2.17 -2.17zM68.07 154.42l2.17 2.17l-2.17 2.17l-2.17 -2.17zM68.10 153.83l2.17 2.17l-2.17 2.17l-2.17 -2.17zM68.12 153.26l2.17 2.17l-2.17 2.17l-2.17 -2.17zM68.14 152.69l2.17 2.17l-2.17 2.17l-2.17 -2.17zM68.16 152.12l2.17 2.17l-2.17 2.17l-2.17 -2.17zM68.19 151.55l2.17 2.17l-2.17 2.17l-2.17 -2.17zM68.21 150.98l2.17 2.17l-2.17 2.17l-2.17 -2.17zM68.23 150.40l2.17 2.17l-2.17 2.17l-2.17 -2.17zM68.25 149.83l2.17 2.17l-2.17 2.17l-2.17 -2.17zM68.27 149.26l2.17 2.17l-2.17 2.17l-2.17 -2.17zM68.29 148.69l2.17 2.17l-2.17 2.17l-2.17 -2.17zM68.31 148.12l2.17 2.17l-2.17 2.17l-2.17 -2.17zM68.34 147.55l2.17 2.17l-2.17 2.17l-2.17 -2.17zM68.36 146.98l2.17 2.17l-2.17 2.17l-2.17 -2.17zM68.38 146.40l2.17 2.17l-2.17 2.17l-2.17 -2.17zM68.40 145.83l2.17 2.17l-2.17 2.17l-2.17 -2.17zM68.45 145.23l2.17 2.17l-2.17 2.17l-2.17 -2.17zM68.49 144.63l2.17 2.17l-2.17 2.17l-2.17 -2.17zM68.54 144.03l2.17 2.17l-2.17 2.17l-2.17 -2.17zM68.59 143.43l2.17 2.17l-2.17 2.17l-2.17 -2.17zM68.64 142.83l2.17 2.17l-2.17 2.17l-2.17 -2.17zM68.68 142.23l2.17 2.17l-2.17 2.17l-2.17 -2.17zM68.73 141.63l2.17 2.17l-2.17 2.17l-2.17 -2.17zM68.78 141.03l2.17 2.17l-2.17 2.17l-2.17 -2.17zM68.82 140.43l2.17 2.17l-2.17 2.17l-2.17 -2.17zM68.87 139.83l2.17 2.17l-2.17 2.17l-2.17 -2.17zM68.92 139.23l2.17 2.17l-2.17 2.17l-2.17 -2.17zM68.96 138.63l2.17 2.17l-2.17 2.17l-2.17 -2.17zM69.01 138.03l2.17 2.17l-2.17 2.17l-2.17 -2.17zM69.06 137.43l2.17 2.17l-2.17 2.17l-2.17 -2.17zM69.11 136.83l2.17 2.17l-2.17 2.17l-2.17 -2.17zM69.15 136.23l2.17 2.17l-2.17 2.17l-2.17 -2.17zM69.20 135.63l2.17 2.17l-2.17 2.17l-2.17 -2.17zM69.25 135.08l2.17 2.17l-2.17 2.17l-2.17 -2.17zM69.31 134.52l2.17 2.17l-2.17 2.17l-2.17 -2.17zM69.36 133.97l2.17 2.17l-2.17 2.17l-2.17 -2.17zM69.42 133.42l2.17 2.17l-2.17 2.17l-2.17 -2.17zM69.47 132.86l2.17 2.17l-2.17 2.17l-2.17 -2.17zM69.52 132.31l2.17 2.17l-2.17 2.17l-2.17 -2.17zM69.58 131.76l2.17 2.17l-2.17 2.17l-2.17 -2.17zM69.63 131.20l2.17 2.17l-2.17 2.17l-2.17 -2.17zM69.68 130.65l2.17 2.17l-2.17 2.17l-2.17 -2.17zM69.74 130.09l2.17 2.17l-2.17 2.17l-2.17 -2.17zM69.79 129.54l2.17 2.17l-2.17 2.17l-2.17 -2.17zM69.85 128.99l2.17 2.17l-2.17 2.17l-2.17 -2.17zM69.90 128.43l2.17 2.17l-2.17 2.17l-2.17 -2.17zM69.96 127.85l2.17 2.17l-2.17 2.17l-2.17 -2.17zM70.02 127.26l2.17 2.17l-2.17 2.17l-2.17 -2.17zM70.08 126.68l2.17 2.17l-2.17 2.17l-2.17 -2.17zM70.14 126.10l2.17 2.17l-2.17 2.17l-2.17 -2.17zM70.20 125.51l2.17 2.17l-2.17 2.17l-2.17 -2.17zM70.26 124.93l2.17 2.17l-2.17 2.17l-2.17 -2.17zM70.32 124.34l2.17 2.17l-2.17 2.17l-2.17 -2.17zM70.38 123.76l2.17 2.17l-2.17 2.17l-2.17 -2.17zM70.44 123.18l2.17 2.17l-2.17 2.17l-2.17 -2.17zM70.50 122.59l2.17 2.17l-2.17 2.17l-2.17 -2.17zM70.56 122.01l2.17 2.17l-2.17 2.17l-2.17 -2.17zM70.62 121.42l2.17 2.17l-2.17 2.17l-2.17 -2.17zM70.68 120.84l2.17 2.17l-2.17 2.17l-2.17 -2.17zM70.74 120.26l2.17 2.17l-2.17 2.17l-2.17 -2.17zM70.80 119.67l2.17 2.17l-2.17 2.17l-2.17 -2.17zM70.86 119.09l2.17 2.17l-2.17 2.17l-2.17 -2.17zM70.92 118.50l2.17 2.17l-2.17 2.17l-2.17 -2.17zM70.98 117.92l2.17 2.17l-2.17 2.17l-2.17 -2.17zM71.04 117.34l2.17 2.17l-2.17 2.17l-2.17 -2.17zM71.10 116.75l2.17 2.17l-2.17 2.17l-2.17 -2.17zM71.16 116.17l2.17 2.17l-2.17 2.17l-2.17 -2.17zM71.22 115.58l2.17 2.17l-2.17 2.17l-2.17 -2.17zM71.28 115.00l2.17 2.17l-2.17 2.17l-2.17 -2.17zM71.34 114.42l2.17 2.17l-2.17 2.17l-2.17 -2.17zM71.40 113.83l2.17 2.17l-2.17 2.17l-2.17 -2.17zM71.50 113.26l2.17 2.17l-2.17 2.17l-2.17 -2.17zM71.60 112.69l2.17 2.17l-2.17 2.17l-2.17 -2.17zM71.70 112.12l2.17 2.17l-2.17 2.17l-2.17 -2.17zM71.80 111.55l2.17 2.17l-2.17 2.17l-2.17 -2.17zM71.90 110.98l2.17 2.17l-2.17 2.17l-2.17 -2.17zM72.00 110.40l2.17 2.17l-2.17 2.17l-2.17 -2.17zM72.10 109.83l2.17 2.17l-2.17 2.17l-2.17 -2.17zM72.20 109.26l2.17 2.17l-2.17 2.17l-2.17 -2.17zM72.30 108.69l2.17 2.17l-2.17 2.17l-2.17 -2.17zM72.40 108.12l2.17 2.17l-2.17 2.17l-2.17 -2.17zM72.50 107.55l2.17 2.17l-2.17 2.17l-2.17 -2.17zM72.60 106.98l2.17 2.17l-2.17 2.17l-2.17 -2.17zM72.70 106.40l2.17 2.17l-2.17 2.17l-2.17 -2.17zM72.80 105.83l2.17 2.17l-2.17 2.17l-2.17 -2.17zM72.92 105.27l2.17 2.17l-2.17 2.17l-2.17 -2.17zM73.04 104.71l2.17 2.17l-2.17 2.17l-2.17 -2.17zM73.15 104.14l2.17 2.17l-2.17 2.17l-2.17 -2.17zM73.27 103.58l2.17 2.17l-2.17 2.17l-2.17 -2.17zM73.39 103.01l2.17 2.17l-2.17 2.17l-2.17 -2.17zM73.51 102.45l2.17 2.17l-2.17 2.17l-2.17 -2.17zM73.63 101.89l2.17 2.17l-2.17 2.17l-2.17 -2.17zM73.75 101.32l2.17 2.17l-2.17 2.17l-2.17 -2.17zM73.86 100.76l2.17 2.17l-2.17 2.17l-2.17 -2.17zM73.98 100.20l2.17 2.17l-2.17 2.17l-2.17 -2.17zM74.10 99.63l2.17 2.17l-2.17 2.17l-2.17 -2.17zM74.21 99.07l2.17 2.17l-2.17 2.17l-2.17 -2.17zM74.32 98.51l2.17 2.17l-2.17 2.17l-2.17 -2.17zM74.44 97.94l2.17 2.17l-2.17 2.17l-2.17 -2.17zM74.55 97.38l2.17 2.17l-2.17 2.17l-2.17 -2.17zM74.66 96.82l2.17 2.17l-2.17 2.17l-2.17 -2.17zM74.78 96.26l2.17 2.17l-2.17 2.17l-2.17 -2.17zM74.89 95.69l2.17 2.17l-2.17 2.17l-2.17 -2.17zM75.00 95.13l2.17 2.17l-2.17 2.17l-2.17 -2.17zM75.14 94.58l2.17 2.17l-2.17 2.17l-2.17 -2.17zM75.29 94.02l2.17 2.17l-2.17 2.17l-2.17 -2.17zM75.43 93.47l2.17 2.17l-2.17 2.17l-2.17 -2.17zM75.58 92.91l2.17 2.17l-2.17 2.17l-2.17 -2.17zM75.72 92.35l2.17 2.17l-2.17 2.17l-2.17 -2.17zM75.87 91.80l2.17 2.17l-2.17 2.17l-2.17 -2.17zM76.01 91.24l2.17 2.17l-2.17 2.17l-2.17 -2.17zM76.16 90.69l2.17 2.17l-2.17 2.17l-2.17 -2.17zM76.30 90.13l2.17 2.17l-2.17 2.17l-2.17 -2.17zM76.46 89.56l2.17 2.17l-2.17 2.17l-2.17 -2.17zM76.63 88.99l2.17 2.17l-2.17 2.17l-2.17 -2.17zM76.79 88.41l2.17 2.17l-2.17 2.17l-2.17 -2.17zM76.95 87.84l2.17 2.17l-2.17 2.17l-2.17 -2.17zM77.12 87.27l2.17 2.17l-2.17 2.17l-2.17 -2.17zM77.28 86.70l2.17 2.17l-2.17 2.17l-2.17 -2.17zM77.45 86.12l2.17 2.17l-2.17 2.17l-2.17 -2.17zM77.61 85.55l2.17 2.17l-2.17 2.17l-2.17 -2.17zM77.77 84.98l2.17 2.17l-2.17 2.17l-2.17 -2.17zM77.94 84.41l2.17 2.17l-2.17 2.17l-2.17 -2.17zM78.10 83.83l2.17 2.17l-2.17 2.17l-2.17 -2.17zM78.35 83.23l2.17 2.17l-2.17 2.17l-2.17 -2.17zM78.60 82.63l2.17 2.17l-2.17 2.17l-2.17 -2.17zM78.85 82.03l2.17 2.17l-2.17 2.17l-2.17 -2.17zM79.10 81.43l2.17 2.17l-2.17 2.17l-2.17 -2.17zM79.35 80.83l2.17 2.17l-2.17 2.17l-2.17 -2.17zM79.60 80.23l2.17 2.17l-2.17 2.17l-2.17 -2.17zM79.85 79.63l2.17 2.17l-2.17 2.17l-2.17 -2.17zM80.10 79.03l2.17 2.17l-2.17 2.17l-2.17 -2.17zM80.35 78.43l2.17 2.17l-2.17 2.17l-2.17 -2.17zM80.60 77.83l2.17 2.17l-2.17 2.17l-2.17 -2.17zM80.85 77.27l2.17 2.17l-2.17 2.17l-2.17 -2.17zM81.09 76.71l2.17 2.17l-2.17 2.17l-2.17 -2.17zM81.34 76.14l2.17 2.17l-2.17 2.17l-2.17 -2.17zM81.58 75.58l2.17 2.17l-2.17 2.17l-2.17 -2.17zM81.83 75.01l2.17 2.17l-2.17 2.17l-2.17 -2.17zM82.07 74.45l2.17 2.17l-2.17 2.17l-2.17 -2.17zM82.32 73.89l2.17 2.17l-2.17 2.17l-2.17 -2.17zM82.56 73.32l2.17 2.17l-2.17 2.17l-2.17 -2.17zM82.81 72.76l2.17 2.17l-2.17 2.17l-2.17 -2.17zM83.05 72.20l2.17 2.17l-2.17 2.17l-2.17 -2.17zM83.30 71.63l2.17 2.17l-2.17 2.17l-2.17 -2.17zM83.50 71.04l2.17 2.17l-2.17 2.17l-2.17 -2.17zM83.70 70.44l2.17 2.17l-2.17 2.17l-2.17 -2.17zM83.90 69.85l2.17 2.17l-2.17 2.17l-2.17 -2.17zM84.10 69.26l2.17 2.17l-2.17 2.17l-2.17 -2.17zM84.30 68.66l2.17 2.17l-2.17 2.17l-2.17 -2.17zM84.50 68.07l2.17 2.17l-2.17 2.17l-2.17 -2.17zM84.70 67.48l2.17 2.17l-2.17 2.17l-2.17 -2.17zM84.90 66.88l2.17 2.17l-2.17 2.17l-2.17 -2.17zM85.10 66.29l2.17 2.17l-2.17 2.17l-2.17 -2.17zM85.30 65.69l2.17 2.17l-2.17 2.17l-2.17 -2.17zM85.50 65.10l2.17 2.17l-2.17 2.17l-2.17 -2.17zM85.70 64.51l2.17 2.17l-2.17 2.17l-2.17 -2.17zM85.90 63.91l2.17 2.17l-2.17 2.17l-2.17 -2.17zM86.10 63.32l2.17 2.17l-2.17 2.17l-2.17 -2.17zM86.30 62.73l2.17 2.17l-2.17 2.17l-2.17 -2.17zM86.50 62.13l2.17 2.17l-2.17 2.17l-2.17 -2.17zM86.73 61.56l2.17 2.17l-2.17 2.17l-2.17 -2.17zM86.95 60.99l2.17 2.17l-2.17 2.17l-2.17 -2.17zM87.18 60.41l2.17 2.17l-2.17 2.17l-2.17 -2.17zM87.41 59.84l2.17 2.17l-2.17 2.17l-2.17 -2.17zM87.64 59.27l2.17 2.17l-2.17 2.17l-2.17 -2.17zM87.86 58.70l2.17 2.17l-2.17 2.17l-2.17 -2.17zM88.09 58.12l2.17 2.17l-2.17 2.17l-2.17 -2.17zM88.32 57.55l2.17 2.17l-2.17 2.17l-2.17 -2.17zM88.55 56.98l2.17 2.17l-2.17 2.17l-2.17 -2.17zM88.77 56.41l2.17 2.17l-2.17 2.17l-2.17 -2.17zM89.00 55.83l2.17 2.17l-2.17 2.17l-2.17 -2.17zM89.52 55.33l2.17 2.17l-2.17 2.17l-2.17 -2.17zM90.04 54.83l2.17 2.17l-2.17 2.17l-2.17 -2.17zM90.56 54.33l2.17 2.17l-2.17 2.17l-2.17 -2.17zM91.08 53.83l2.17 2.17l-2.17 2.17l-2.17 -2.17zM91.60 53.33l2.17 2.17l-2.17 2.17l-2.17 -2.17zM92.10 52.97l2.17 2.17l-2.17 2.17l-2.17 -2.17zM92.60 52.61l2.17 2.17l-2.17 2.17l-2.17 -2.17zM93.10 52.25l2.17 2.17l-2.17 2.17l-2.17 -2.17zM93.60 51.89l2.17 2.17l-2.17 2.17l-2.17 -2.17zM94.10 51.53l2.17 2.17l-2.17 2.17l-2.17 -2.17zM94.70 51.07l2.17 2.17l-2.17 2.17l-2.17 -2.17zM95.30 50.61l2.17 2.17l-2.17 2.17l-2.17 -2.17zM95.90 50.15l2.17 2.17l-2.17 2.17l-2.17 -2.17zM96.50 49.69l2.17 2.17l-2.17 2.17l-2.17 -2.17zM97.10 49.23l2.17 2.17l-2.17 2.17l-2.17 -2.17zM100.50 48.95l2.55 2.55l-2.55 2.55l-2.55 -2.55zM107.70 47.65l2.55 2.55l-2.55 2.55l-2.55 -2.55zM122.40 47.05l2.55 2.55l-2.55 2.55l-2.55 -2.55zM124.70 45.85l2.55 2.55l-2.55 2.55l-2.55 -2.55zM132.00 44.25l2.55 2.55l-2.55 2.55l-2.55 -2.55zM135.20 43.75l2.55 2.55l-2.55 2.55l-2.55 -2.55z" fill="none" stroke="#FF0000" stroke-width="1.4" stroke-linejoin="miter"/>
<path d="M63.68 213.09h4.83v4.83h-4.83zM63.71 212.50h4.83v4.83h-4.83zM63.73 211.91h4.83v4.83h-4.83zM63.75 211.33h4.83v4.83h-4.83zM63.77 210.74h4.83v4.83h-4.83zM63.79 210.16h4.83v4.83h-4.83zM63.81 209.57h4.83v4.83h-4.83zM63.84 208.99h4.83v4.83h-4.83zM63.86 208.40h4.83v4.83h-4.83zM63.88 207.81h4.83v4.83h-4.83zM63.90 207.23h4.83v4.83h-4.83zM63.92 206.64h4.83v4.83h-4.83zM63.94 206.06h4.83v4.83h-4.83zM63.96 205.47h4.83v4.83h-4.83zM63.99 204.89h4.83v4.83h-4.83zM64.00 204.29h4.83v4.83h-4.83zM64.02 203.69h4.83v4.83h-4.83zM64.03 203.09h4.83v4.83h-4.83zM64.05 202.49h4.83v4.83h-4.83zM64.06 201.89h4.83v4.83h-4.83zM64.08 201.29h4.83v4.83h-4.83zM64.09 200.69h4.83v4.83h-4.83zM64.11 200.09h4.83v4.83h-4.83zM64.12 199.49h4.83v4.83h-4.83zM64.14 198.89h4.83v4.83h-4.83zM64.15 198.29h4.83v4.83h-4.83zM64.16 197.69h4.83v4.83h-4.83zM64.18 197.09h4.83v4.83h-4.83zM64.19 196.49h4.83v4.83h-4.83zM64.21 195.89h4.83v4.83h-4.83zM64.22 195.29h4.83v4.83h-4.83zM64.24 194.69h4.83v4.83h-4.83zM64.25 194.09h4.83v4.83h-4.83zM64.27 193.49h4.83v4.83h-4.83zM64.28 192.89h4.83v4.83h-4.83zM64.31 192.31h4.83v4.83h-4.83zM64.33 191.73h4.83v4.83h-4.83zM64.36 191.15h4.83v4.83h-4.83zM64.38 190.58h4.83v4.83h-4.83zM64.41 190.00h4.83v4.83h-4.83zM64.44 189.42h4.83v4.83h-4.83zM64.46 188.84h4.83v4.83h-4.83zM64.48 188.27h4.83v4.83h-4.83zM64.51 187.69h4.83v4.83h-4.83zM64.53 187.11h4.83v4.83h-4.83zM64.56 186.53h4.83v4.83h-4.83zM64.58 185.96h4.83v4.83h-4.83zM64.61 185.38h4.83v4.83h-4.83zM64.63 184.80h4.83v4.83h-4.83zM64.66 184.23h4.83v4.83h-4.83zM64.68 183.65h4.83v4.83h-4.83zM64.71 183.07h4.83v4.83h-4.83zM64.73 182.49h4.83v4.83h-4.83zM64.76 181.92h4.83v4.83h-4.83zM64.78 181.34h4.83v4.83h-4.83zM64.81 180.76h4.83v4.83h-4.83zM64.83 180.19h4.83v4.83h-4.83zM64.87 179.59h4.83v4.83h-4.83zM64.90 178.99h4.83v4.83h-4.83zM64.94 178.38h4.83v4.83h-4.83zM64.97 177.78h4.83v4.83h-4.83zM65.01 177.19h4.83v4.83h-4.83zM65.05 176.59h4.83v4.83h-4.83zM65.08 175.99h4.83v4.83h-4.83zM65.11 175.38h4.83v4.83h-4.83zM65.15 174.78h4.83v4.83h-4.83zM65.18 174.19h4.83v4.83h-4.83zM65.22 173.59h4.83v4.83h-4.83zM65.25 172.99h4.83v4.83h-4.83zM65.29 172.38h4.83v4.83h-4.83zM65.32 171.78h4.83v4.83h-4.83zM65.36 171.19h4.83v4.83h-4.83zM65.39 170.59h4.83v4.83h-4.83zM65.43 169.99h4.83v4.83h-4.83zM65.46 169.38h4.83v4.83h-4.83zM65.50 168.78h4.83v4.83h-4.83zM65.53 168.19h4.83v4.83h-4.83zM65.58 167.62h4.83v4.83h-4.83zM65.62 167.06h4.83v4.83h-4.83zM65.66 166.50h4.83v4.83h-4.83zM65.70 165.94h4.83v4.83h-4.83zM65.75 165.38h4.83v4.83h-4.83zM65.79 164.82h4.83v4.83h-4.83zM65.83 164.25h4.83v4.83h-4.83zM65.87 163.69h4.83v4.83h-4.83zM65.92 163.13h4.83v4.83h-4.83zM65.96 162.57h4.83v4.83h-4.83zM66.00 162.01h4.83v4.83h-4.83zM66.04 161.45h4.83v4.83h-4.83zM66.08 160.89h4.83v4.83h-4.83zM66.15 160.32h4.83v4.83h-4.83zM66.21 159.76h4.83v4.83h-4.83zM66.27 159.20h4.83v4.83h-4.83zM66.33 158.64h4.83v4.83h-4.83zM66.39 158.08h4.83v4.83h-4.83zM66.45 157.52h4.83v4.83h-4.83zM66.52 156.95h4.83v4.83h-4.83zM66.58 156.39h4.83v4.83h-4.83zM66.64 155.83h4.83v4.83h-4.83zM66.70 155.27h4.83v4.83h-4.83zM66.76 154.71h4.83v4.83h-4.83zM66.82 154.15h4.83v4.83h-4.83zM66.88 153.59h4.83v4.83h-4.83zM66.97 153.01h4.83v4.83h-4.83zM67.06 152.44h4.83v4.83h-4.83zM67.14 151.87h4.83v4.83h-4.83zM67.23 151.30h4.83v4.83h-4.83zM67.31 150.73h4.83v4.83h-4.83zM67.40 150.16h4.83v4.83h-4.83zM67.48 149.59h4.83v4.83h-4.83zM67.57 149.01h4.83v4.83h-4.83zM67.66 148.44h4.83v4.83h-4.83zM67.74 147.87h4.83v4.83h-4.83zM67.83 147.30h4.83v4.83h-4.83zM67.91 146.73h4.83v4.83h-4.83zM68.00 146.16h4.83v4.83h-4.83zM68.08 145.59h4.83v4.83h-4.83zM68.15 144.99h4.83v4.83h-4.83zM68.21 144.39h4.83v4.83h-4.83zM68.28 143.78h4.83v4.83h-4.83zM68.34 143.19h4.83v4.83h-4.83zM68.41 142.59h4.83v4.83h-4.83zM68.47 141.99h4.83v4.83h-4.83zM68.54 141.39h4.83v4.83h-4.83zM68.60 140.79h4.83v4.83h-4.83zM68.67 140.19h4.83v4.83h-4.83zM68.73 139.59h4.83v4.83h-4.83zM68.80 138.99h4.83v4.83h-4.83zM68.86 138.39h4.83v4.83h-4.83zM68.93 137.79h4.83v4.83h-4.83zM68.99 137.19h4.83v4.83h-4.83zM69.06 136.59h4.83v4.83h-4.83zM69.12 135.99h4.83v4.83h-4.83zM69.18 135.39h4.83v4.83h-4.83zM69.24 134.83h4.83v4.83h-4.83zM69.30 134.28h4.83v4.83h-4.83zM69.36 133.72h4.83v4.83h-4.83zM69.42 133.17h4.83v4.83h-4.83zM69.47 132.62h4.83v4.83h-4.83zM69.53 132.06h4.83v4.83h-4.83zM69.59 131.51h4.83v4.83h-4.83zM69.65 130.95h4.83v4.83h-4.83zM69.70 130.40h4.83v4.83h-4.83zM69.76 129.85h4.83v4.83h-4.83zM69.82 129.29h4.83v4.83h-4.83zM69.88 128.74h4.83v4.83h-4.83zM69.93 128.19h4.83v4.83h-4.83zM70.00 127.62h4.83v4.83h-4.83zM70.07 127.06h4.83v4.83h-4.83zM70.14 126.50h4.83v4.83h-4.83zM70.21 125.94h4.83v4.83h-4.83zM70.28 125.38h4.83v4.83h-4.83zM70.35 124.82h4.83v4.83h-4.83zM70.42 124.25h4.83v4.83h-4.83zM70.49 123.69h4.83v4.83h-4.83zM70.56 123.13h4.83v4.83h-4.83zM70.63 122.57h4.83v4.83h-4.83zM70.70 122.01h4.83v4.83h-4.83zM70.77 121.45h4.83v4.83h-4.83zM70.83 120.88h4.83v4.83h-4.83zM70.90 120.32h4.83v4.83h-4.83zM70.97 119.76h4.83v4.83h-4.83zM71.03 119.20h4.83v4.83h-4.83zM71.10 118.64h4.83v4.83h-4.83zM71.16 118.08h4.83v4.83h-4.83zM71.23 117.52h4.83v4.83h-4.83zM71.29 116.95h4.83v4.83h-4.83zM71.36 116.39h4.83v4.83h-4.83zM71.42 115.83h4.83v4.83h-4.83zM71.49 115.27h4.83v4.83h-4.83zM71.55 114.71h4.83v4.83h-4.83zM71.62 114.15h4.83v4.83h-4.83zM71.68 113.58h4.83v4.83h-4.83zM71.79 113.02h4.83v4.83h-4.83zM71.90 112.46h4.83v4.83h-4.83zM72.01 111.89h4.83v4.83h-4.83zM72.11 111.33h4.83v4.83h-4.83zM72.22 110.76h4.83v4.83h-4.83zM72.33 110.20h4.83v4.83h-4.83zM72.43 109.63h4.83v4.83h-4.83zM72.54 109.07h4.83v4.83h-4.83zM72.65 108.51h4.83v4.83h-4.83zM72.76 107.94h4.83v4.83h-4.83zM72.86 107.38h4.83v4.83h-4.83zM72.97 106.81h4.83v4.83h-4.83zM73.08 106.25h4.83v4.83h-4.83zM73.18 105.68h4.83v4.83h-4.83zM73.26 105.11h4.83v4.83h-4.83zM73.33 104.54h4.83v4.83h-4.83zM73.40 103.97h4.83v4.83h-4.83zM73.48 103.39h4.83v4.83h-4.83zM73.55 102.82h4.83v4.83h-4.83zM73.62 102.25h4.83v4.83h-4.83zM73.69 101.68h4.83v4.83h-4.83zM73.77 101.10h4.83v4.83h-4.83zM73.84 100.53h4.83v4.83h-4.83zM73.91 99.96h4.83v4.83h-4.83zM73.98 99.38h4.83v4.83h-4.83zM74.12 98.82h4.83v4.83h-4.83zM74.26 98.26h4.83v4.83h-4.83zM74.40 97.70h4.83v4.83h-4.83zM74.53 97.13h4.83v4.83h-4.83zM74.67 96.57h4.83v4.83h-4.83zM74.81 96.01h4.83v4.83h-4.83zM74.95 95.45h4.83v4.83h-4.83zM75.08 94.88h4.83v4.83h-4.83z" fill="none" stroke="#7030A0" stroke-width="1.4" stroke-linejoin="miter"/>
<path d="M75.66 95.46h3.68v3.68h-3.68zM75.98 94.96h3.68v3.68h-3.68zM76.30 94.46h3.68v3.68h-3.68zM76.62 93.96h3.68v3.68h-3.68zM76.94 93.46h3.68v3.68h-3.68zM77.26 92.96h3.68v3.68h-3.68zM77.58 92.46h3.68v3.68h-3.68zM77.90 91.96h3.68v3.68h-3.68zM78.22 91.46h3.68v3.68h-3.68zM78.54 90.96h3.68v3.68h-3.68zM78.86 90.46h3.68v3.68h-3.68zM79.11 89.96h3.68v3.68h-3.68zM79.36 89.46h3.68v3.68h-3.68zM79.61 88.96h3.68v3.68h-3.68zM79.86 88.46h3.68v3.68h-3.68zM80.11 87.96h3.68v3.68h-3.68zM80.36 87.46h3.68v3.68h-3.68zM80.61 86.96h3.68v3.68h-3.68zM80.86 86.46h3.68v3.68h-3.68zM81.11 85.96h3.68v3.68h-3.68zM81.36 85.46h3.68v3.68h-3.68zM81.55 84.97h3.68v3.68h-3.68zM81.73 84.47h3.68v3.68h-3.68zM81.92 83.98h3.68v3.68h-3.68zM82.10 83.49h3.68v3.68h-3.68zM82.29 83.00h3.68v3.68h-3.68zM82.47 82.50h3.68v3.68h-3.68zM82.66 82.01h3.68v3.68h-3.68zM82.85 81.52h3.68v3.68h-3.68zM83.03 81.02h3.68v3.68h-3.68zM83.22 80.53h3.68v3.68h-3.68zM83.40 80.04h3.68v3.68h-3.68zM83.59 79.55h3.68v3.68h-3.68zM83.77 79.05h3.68v3.68h-3.68zM83.96 78.56h3.68v3.68h-3.68zM84.14 78.09h3.68v3.68h-3.68zM84.32 77.62h3.68v3.68h-3.68zM84.50 77.15h3.68v3.68h-3.68zM84.67 76.67h3.68v3.68h-3.68zM84.85 76.20h3.68v3.68h-3.68zM85.03 75.73h3.68v3.68h-3.68zM85.21 75.26h3.68v3.68h-3.68zM85.39 74.79h3.68v3.68h-3.68zM85.57 74.32h3.68v3.68h-3.68zM85.75 73.85h3.68v3.68h-3.68zM85.92 73.37h3.68v3.68h-3.68zM86.10 72.90h3.68v3.68h-3.68zM86.28 72.43h3.68v3.68h-3.68zM86.46 71.96h3.68v3.68h-3.68zM86.77 71.50h3.68v3.68h-3.68zM87.09 71.05h3.68v3.68h-3.68zM87.40 70.59h3.68v3.68h-3.68zM87.72 70.13h3.68v3.68h-3.68zM88.03 69.67h3.68v3.68h-3.68zM88.35 69.22h3.68v3.68h-3.68zM88.66 68.76h3.68v3.68h-3.68z" fill="none" stroke="#7030A0" stroke-width="1.4" stroke-linejoin="miter"/>
<path d="M88.20 68.30h4.60v4.60h-4.60zM88.56 67.86h4.60v4.60h-4.60zM88.91 67.41h4.60v4.60h-4.60zM89.27 66.97h4.60v4.60h-4.60zM89.63 66.53h4.60v4.60h-4.60zM89.99 66.09h4.60v4.60h-4.60zM90.34 65.64h4.60v4.60h-4.60zM90.70 65.20h4.60v4.60h-4.60zM91.15 64.70h4.60v4.60h-4.60zM91.60 64.20h4.60v4.60h-4.60zM92.05 63.70h4.60v4.60h-4.60zM92.50 63.20h4.60v4.60h-4.60zM92.95 62.70h4.60v4.60h-4.60zM93.40 62.20h4.60v4.60h-4.60zM93.85 61.70h4.60v4.60h-4.60zM94.30 61.20h4.60v4.60h-4.60zM94.75 60.70h4.60v4.60h-4.60zM95.20 60.20h4.60v4.60h-4.60zM95.68 59.87h4.60v4.60h-4.60zM96.16 59.53h4.60v4.60h-4.60zM96.63 59.20h4.60v4.60h-4.60zM97.11 58.87h4.60v4.60h-4.60zM97.59 58.53h4.60v4.60h-4.60zM98.07 58.20h4.60v4.60h-4.60zM98.54 57.87h4.60v4.60h-4.60zM99.02 57.53h4.60v4.60h-4.60zM99.50 57.20h4.60v4.60h-4.60zM100.00 56.97h4.60v4.60h-4.60zM100.50 56.73h4.60v4.60h-4.60zM101.00 56.50h4.60v4.60h-4.60zM101.50 56.27h4.60v4.60h-4.60zM102.00 56.03h4.60v4.60h-4.60zM102.50 55.80h4.60v4.60h-4.60zM103.00 55.57h4.60v4.60h-4.60zM103.50 55.33h4.60v4.60h-4.60zM104.00 55.10h4.60v4.60h-4.60zM104.47 54.97h4.60v4.60h-4.60zM104.93 54.83h4.60v4.60h-4.60zM105.40 54.70h4.60v4.60h-4.60zM105.87 54.57h4.60v4.60h-4.60zM106.33 54.43h4.60v4.60h-4.60zM106.80 54.30h4.60v4.60h-4.60zM107.27 54.17h4.60v4.60h-4.60zM107.73 54.03h4.60v4.60h-4.60zM108.20 53.90h4.60v4.60h-4.60zM114.40 53.20h4.60v4.60h-4.60zM121.30 53.20h4.60v4.60h-4.60zM125.00 51.40h4.60v4.60h-4.60zM129.20 50.30h4.60v4.60h-4.60zM131.80 49.30h4.60v4.60h-4.60zM140.70 47.30h4.60v4.60h-4.60zM145.60 46.60h4.60v4.60h-4.60zM164.70 45.60h4.60v4.60h-4.60zM203.60 44.70h4.60v4.60h-4.60z" fill="none" stroke="#7030A0" stroke-width="1.4" stroke-linejoin="miter"/>
<path d="M283.60 216.00a2.00 2.00 0 1 0 4.00 0a2.00 2.00 0 1 0 -4.00 0zM283.70 215.50a2.00 2.00 0 1 0 4.00 0a2.00 2.00 0 1 0 -4.00 0zM283.79 215.00a2.00 2.00 0 1 0 4.00 0a2.00 2.00 0 1 0 -4.00 0zM283.88 214.50a2.00 2.00 0 1 0 4.00 0a2.00 2.00 0 1 0 -4.00 0zM283.98 214.00a2.00 2.00 0 1 0 4.00 0a2.00 2.00 0 1 0 -4.00 0zM284.07 213.50a2.00 2.00 0 1 0 4.00 0a2.00 2.00 0 1 0 -4.00 0zM284.17 213.00a2.00 2.00 0 1 0 4.00 0a2.00 2.00 0 1 0 -4.00 0zM284.26 212.50a2.00 2.00 0 1 0 4.00 0a2.00 2.00 0 1 0 -4.00 0zM284.35 212.00a2.00 2.00 0 1 0 4.00 0a2.00 2.00 0 1 0 -4.00 0zM284.45 211.50a2.00 2.00 0 1 0 4.00 0a2.00 2.00 0 1 0 -4.00 0zM284.54 211.00a2.00 2.00 0 1 0 4.00 0a2.00 2.00 0 1 0 -4.00 0zM284.63 210.50a2.00 2.00 0 1 0 4.00 0a2.00 2.00 0 1 0 -4.00 0zM284.73 210.00a2.00 2.00 0 1 0 4.00 0a2.00 2.00 0 1 0 -4.00 0zM284.82 209.50a2.00 2.00 0 1 0 4.00 0a2.00 2.00 0 1 0 -4.00 0zM284.92 209.00a2.00 2.00 0 1 0 4.00 0a2.00 2.00 0 1 0 -4.00 0zM285.01 208.50a2.00 2.00 0 1 0 4.00 0a2.00 2.00 0 1 0 -4.00 0zM285.10 208.00a2.00 2.00 0 1 0 4.00 0a2.00 2.00 0 1 0 -4.00 0zM285.15 207.50a2.00 2.00 0 1 0 4.00 0a2.00 2.00 0 1 0 -4.00 0zM285.19 207.00a2.00 2.00 0 1 0 4.00 0a2.00 2.00 0 1 0 -4.00 0zM285.23 206.50a2.00 2.00 0 1 0 4.00 0a2.00 2.00 0 1 0 -4.00 0zM285.28 206.00a2.00 2.00 0 1 0 4.00 0a2.00 2.00 0 1 0 -4.00 0zM285.32 205.50a2.00 2.00 0 1 0 4.00 0a2.00 2.00 0 1 0 -4.00 0zM285.36 205.00a2.00 2.00 0 1 0 4.00 0a2.00 2.00 0 1 0 -4.00 0zM285.41 204.50a2.00 2.00 0 1 0 4.00 0a2.00 2.00 0 1 0 -4.00 0zM285.45 204.00a2.00 2.00 0 1 0 4.00 0a2.00 2.00 0 1 0 -4.00 0zM285.49 203.50a2.00 2.00 0 1 0 4.00 0a2.00 2.00 0 1 0 -4.00 0zM285.54 203.00a2.00 2.00 0 1 0 4.00 0a2.00 2.00 0 1 0 -4.00 0zM285.58 202.50a2.00 2.00 0 1 0 4.00 0a2.00 2.00 0 1 0 -4.00 0zM285.62 202.00a2.00 2.00 0 1 0 4.00 0a2.00 2.00 0 1 0 -4.00 0zM285.67 201.50a2.00 2.00 0 1 0 4.00 0a2.00 2.00 0 1 0 -4.00 0zM285.71 201.00a2.00 2.00 0 1 0 4.00 0a2.00 2.00 0 1 0 -4.00 0zM285.75 200.50a2.00 2.00 0 1 0 4.00 0a2.00 2.00 0 1 0 -4.00 0zM285.80 200.00a2.00 2.00 0 1 0 4.00 0a2.00 2.00 0 1 0 -4.00 0zM285.84 199.50a2.00 2.00 0 1 0 4.00 0a2.00 2.00 0 1 0 -4.00 0zM285.89 199.00a2.00 2.00 0 1 0 4.00 0a2.00 2.00 0 1 0 -4.00 0zM285.93 198.50a2.00 2.00 0 1 0 4.00 0a2.00 2.00 0 1 0 -4.00 0zM285.97 198.00a2.00 2.00 0 1 0 4.00 0a2.00 2.00 0 1 0 -4.00 0zM286.02 197.50a2.00 2.00 0 1 0 4.00 0a2.00 2.00 0 1 0 -4.00 0zM286.06 197.00a2.00 2.00 0 1 0 4.00 0a2.00 2.00 0 1 0 -4.00 0zM286.10 196.50a2.00 2.00 0 1 0 4.00 0a2.00 2.00 0 1 0 -4.00 0zM286.14 196.01a2.00 2.00 0 1 0 4.00 0a2.00 2.00 0 1 0 -4.00 0zM286.18 195.53a2.00 2.00 0 1 0 4.00 0a2.00 2.00 0 1 0 -4.00 0zM286.22 195.04a2.00 2.00 0 1 0 4.00 0a2.00 2.00 0 1 0 -4.00 0zM286.25 194.56a2.00 2.00 0 1 0 4.00 0a2.00 2.00 0 1 0 -4.00 0zM286.29 194.07a2.00 2.00 0 1 0 4.00 0a2.00 2.00 0 1 0 -4.00 0zM286.33 193.58a2.00 2.00 0 1 0 4.00 0a2.00 2.00 0 1 0 -4.00 0zM286.37 193.10a2.00 2.00 0 1 0 4.00 0a2.00 2.00 0 1 0 -4.00 0zM286.41 192.61a2.00 2.00 0 1 0 4.00 0a2.00 2.00 0 1 0 -4.00 0zM286.44 192.12a2.00 2.00 0 1 0 4.00 0a2.00 2.00 0 1 0 -4.00 0zM286.48 191.64a2.00 2.00 0 1 0 4.00 0a2.00 2.00 0 1 0 -4.00 0zM286.52 191.15a2.00 2.00 0 1 0 4.00 0a2.00 2.00 0 1 0 -4.00 0zM286.56 190.67a2.00 2.00 0 1 0 4.00 0a2.00 2.00 0 1 0 -4.00 0zM286.60 190.18a2.00 2.00 0 1 0 4.00 0a2.00 2.00 0 1 0 -4.00 0zM286.63 189.69a2.00 2.00 0 1 0 4.00 0a2.00 2.00 0 1 0 -4.00 0zM286.67 189.21a2.00 2.00 0 1 0 4.00 0a2.00 2.00 0 1 0 -4.00 0zM286.71 188.72a2.00 2.00 0 1 0 4.00 0a2.00 2.00 0 1 0 -4.00 0zM286.75 188.23a2.00 2.00 0 1 0 4.00 0a2.00 2.00 0 1 0 -4.00 0zM286.79 187.75a2.00 2.00 0 1 0 4.00 0a2.00 2.00 0 1 0 -4.00 0zM286.82 187.26a2.00 2.00 0 1 0 4.00 0a2.00 2.00 0 1 0 -4.00 0zM286.86 186.78a2.00 2.00 0 1 0 4.00 0a2.00 2.00 0 1 0 -4.00 0zM286.90 186.29a2.00 2.00 0 1 0 4.00 0a2.00 2.00 0 1 0 -4.00 0zM286.94 185.80a2.00 2.00 0 1 0 4.00 0a2.00 2.00 0 1 0 -4.00 0zM286.97 185.32a2.00 2.00 0 1 0 4.00 0a2.00 2.00 0 1 0 -4.00 0zM287.01 184.83a2.00 2.00 0 1 0 4.00 0a2.00 2.00 0 1 0 -4.00 0zM287.05 184.34a2.00 2.00 0 1 0 4.00 0a2.00 2.00 0 1 0 -4.00 0zM287.09 183.86a2.00 2.00 0 1 0 4.00 0a2.00 2.00 0 1 0 -4.00 0zM287.13 183.37a2.00 2.00 0 1 0 4.00 0a2.00 2.00 0 1 0 -4.00 0zM287.16 182.89a2.00 2.00 0 1 0 4.00 0a2.00 2.00 0 1 0 -4.00 0zM287.20 182.40a2.00 2.00 0 1 0 4.00 0a2.00 2.00 0 1 0 -4.00 0zM287.25 181.91a2.00 2.00 0 1 0 4.00 0a2.00 2.00 0 1 0 -4.00 0zM287.29 181.42a2.00 2.00 0 1 0 4.00 0a2.00 2.00 0 1 0 -4.00 0zM287.34 180.92a2.00 2.00 0 1 0 4.00 0a2.00 2.00 0 1 0 -4.00 0zM287.39 180.43a2.00 2.00 0 1 0 4.00 0a2.00 2.00 0 1 0 -4.00 0zM287.43 179.94a2.00 2.00 0 1 0 4.00 0a2.00 2.00 0 1 0 -4.00 0zM287.48 179.45a2.00 2.00 0 1 0 4.00 0a2.00 2.00 0 1 0 -4.00 0zM287.53 178.95a2.00 2.00 0 1 0 4.00 0a2.00 2.00 0 1 0 -4.00 0zM287.57 178.46a2.00 2.00 0 1 0 4.00 0a2.00 2.00 0 1 0 -4.00 0zM287.62 177.97a2.00 2.00 0 1 0 4.00 0a2.00 2.00 0 1 0 -4.00 0zM287.66 177.48a2.00 2.00 0 1 0 4.00 0a2.00 2.00 0 1 0 -4.00 0zM287.71 176.98a2.00 2.00 0 1 0 4.00 0a2.00 2.00 0 1 0 -4.00 0zM287.76 176.49a2.00 2.00 0 1 0 4.00 0a2.00 2.00 0 1 0 -4.00 0zM287.80 176.00a2.00 2.00 0 1 0 4.00 0a2.00 2.00 0 1 0 -4.00 0zM287.87 175.50a2.00 2.00 0 1 0 4.00 0a2.00 2.00 0 1 0 -4.00 0zM287.94 175.01a2.00 2.00 0 1 0 4.00 0a2.00 2.00 0 1 0 -4.00 0zM288.01 174.51a2.00 2.00 0 1 0 4.00 0a2.00 2.00 0 1 0 -4.00 0zM288.08 174.01a2.00 2.00 0 1 0 4.00 0a2.00 2.00 0 1 0 -4.00 0zM288.14 173.52a2.00 2.00 0 1 0 4.00 0a2.00 2.00 0 1 0 -4.00 0zM288.21 173.02a2.00 2.00 0 1 0 4.00 0a2.00 2.00 0 1 0 -4.00 0zM288.28 172.52a2.00 2.00 0 1 0 4.00 0a2.00 2.00 0 1 0 -4.00 0zM288.35 172.03a2.00 2.00 0 1 0 4.00 0a2.00 2.00 0 1 0 -4.00 0zM288.42 171.53a2.00 2.00 0 1 0 4.00 0a2.00 2.00 0 1 0 -4.00 0zM288.49 171.04a2.00 2.00 0 1 0 4.00 0a2.00 2.00 0 1 0 -4.00 0zM288.56 170.54a2.00 2.00 0 1 0 4.00 0a2.00 2.00 0 1 0 -4.00 0zM288.62 170.04a2.00 2.00 0 1 0 4.00 0a2.00 2.00 0 1 0 -4.00 0zM288.69 169.55a2.00 2.00 0 1 0 4.00 0a2.00 2.00 0 1 0 -4.00 0zM288.76 169.05a2.00 2.00 0 1 0 4.00 0a2.00 2.00 0 1 0 -4.00 0zM288.83 168.55a2.00 2.00 0 1 0 4.00 0a2.00 2.00 0 1 0 -4.00 0zM288.90 168.06a2.00 2.00 0 1 0 4.00 0a2.00 2.00 0 1 0 -4.00 0zM288.97 167.56a2.00 2.00 0 1 0 4.00 0a2.00 2.00 0 1 0 -4.00 0zM289.03 167.06a2.00 2.00 0 1 0 4.00 0a2.00 2.00 0 1 0 -4.00 0zM289.10 166.57a2.00 2.00 0 1 0 4.00 0a2.00 2.00 0 1 0 -4.00 0zM289.17 166.07a2.00 2.00 0 1 0 4.00 0a2.00 2.00 0 1 0 -4.00 0zM289.24 165.57a2.00 2.00 0 1 0 4.00 0a2.00 2.00 0 1 0 -4.00 0zM289.31 165.08a2.00 2.00 0 1 0 4.00 0a2.00 2.00 0 1 0 -4.00 0zM289.38 164.58a2.00 2.00 0 1 0 4.00 0a2.00 2.00 0 1 0 -4.00 0zM289.44 164.08a2.00 2.00 0 1 0 4.00 0a2.00 2.00 0 1 0 -4.00 0zM289.51 163.59a2.00 2.00 0 1 0 4.00 0a2.00 2.00 0 1 0 -4.00 0zM289.58 163.09a2.00 2.00 0 1 0 4.00 0a2.00 2.00 0 1 0 -4.00 0zM289.65 162.59a2.00 2.00 0 1 0 4.00 0a2.00 2.00 0 1 0 -4.00 0zM289.72 162.10a2.00 2.00 0 1 0 4.00 0a2.00 2.00 0 1 0 -4.00 0zM289.79 161.60a2.00 2.00 0 1 0 4.00 0a2.00 2.00 0 1 0 -4.00 0zM289.86 161.11a2.00 2.00 0 1 0 4.00 0a2.00 2.00 0 1 0 -4.00 0zM289.92 160.61a2.00 2.00 0 1 0 4.00 0a2.00 2.00 0 1 0 -4.00 0zM289.99 160.11a2.00 2.00 0 1 0 4.00 0a2.00 2.00 0 1 0 -4.00 0zM290.06 159.62a2.00 2.00 0 1 0 4.00 0a2.00 2.00 0 1 0 -4.00 0zM290.13 159.12a2.00 2.00 0 1 0 4.00 0a2.00 2.00 0 1 0 -4.00 0zM290.20 158.62a2.00 2.00 0 1 0 4.00 0a2.00 2.00 0 1 0 -4.00 0zM290.27 158.13a2.00 2.00 0 1 0 4.00 0a2.00 2.00 0 1 0 -4.00 0zM290.33 157.63a2.00 2.00 0 1 0 4.00 0a2.00 2.00 0 1 0 -4.00 0zM290.40 157.13a2.00 2.00 0 1 0 4.00 0a2.00 2.00 0 1 0 -4.00 0zM290.47 156.64a2.00 2.00 0 1 0 4.00 0a2.00 2.00 0 1 0 -4.00 0zM290.54 156.14a2.00 2.00 0 1 0 4.00 0a2.00 2.00 0 1 0 -4.00 0zM290.61 155.64a2.00 2.00 0 1 0 4.00 0a2.00 2.00 0 1 0 -4.00 0zM290.68 155.15a2.00 2.00 0 1 0 4.00 0a2.00 2.00 0 1 0 -4.00 0zM290.74 154.65a2.00 2.00 0 1 0 4.00 0a2.00 2.00 0 1 0 -4.00 0zM290.81 154.15a2.00 2.00 0 1 0 4.00 0a2.00 2.00 0 1 0 -4.00 0zM290.88 153.66a2.00 2.00 0 1 0 4.00 0a2.00 2.00 0 1 0 -4.00 0zM290.95 153.16a2.00 2.00 0 1 0 4.00 0a2.00 2.00 0 1 0 -4.00 0zM291.02 152.66a2.00 2.00 0 1 0 4.00 0a2.00 2.00 0 1 0 -4.00 0zM291.09 152.17a2.00 2.00 0 1 0 4.00 0a2.00 2.00 0 1 0 -4.00 0zM291.16 151.67a2.00 2.00 0 1 0 4.00 0a2.00 2.00 0 1 0 -4.00 0zM291.22 151.18a2.00 2.00 0 1 0 4.00 0a2.00 2.00 0 1 0 -4.00 0zM291.29 150.68a2.00 2.00 0 1 0 4.00 0a2.00 2.00 0 1 0 -4.00 0zM291.36 150.18a2.00 2.00 0 1 0 4.00 0a2.00 2.00 0 1 0 -4.00 0zM291.43 149.69a2.00 2.00 0 1 0 4.00 0a2.00 2.00 0 1 0 -4.00 0zM291.50 149.19a2.00 2.00 0 1 0 4.00 0a2.00 2.00 0 1 0 -4.00 0zM291.57 148.69a2.00 2.00 0 1 0 4.00 0a2.00 2.00 0 1 0 -4.00 0zM291.63 148.20a2.00 2.00 0 1 0 4.00 0a2.00 2.00 0 1 0 -4.00 0zM291.70 147.70a2.00 2.00 0 1 0 4.00 0a2.00 2.00 0 1 0 -4.00 0zM291.75 147.22a2.00 2.00 0 1 0 4.00 0a2.00 2.00 0 1 0 -4.00 0zM291.80 146.73a2.00 2.00 0 1 0 4.00 0a2.00 2.00 0 1 0 -4.00 0zM291.85 146.25a2.00 2.00 0 1 0 4.00 0a2.00 2.00 0 1 0 -4.00 0zM291.89 145.76a2.00 2.00 0 1 0 4.00 0a2.00 2.00 0 1 0 -4.00 0zM291.94 145.28a2.00 2.00 0 1 0 4.00 0a2.00 2.00 0 1 0 -4.00 0zM291.99 144.80a2.00 2.00 0 1 0 4.00 0a2.00 2.00 0 1 0 -4.00 0zM292.04 144.31a2.00 2.00 0 1 0 4.00 0a2.00 2.00 0 1 0 -4.00 0zM292.09 143.83a2.00 2.00 0 1 0 4.00 0a2.00 2.00 0 1 0 -4.00 0zM292.13 143.34a2.00 2.00 0 1 0 4.00 0a2.00 2.00 0 1 0 -4.00 0zM292.18 142.86a2.00 2.00 0 1 0 4.00 0a2.00 2.00 0 1 0 -4.00 0zM292.23 142.38a2.00 2.00 0 1 0 4.00 0a2.00 2.00 0 1 0 -4.00 0zM292.28 141.89a2.00 2.00 0 1 0 4.00 0a2.00 2.00 0 1 0 -4.00 0zM292.33 141.41a2.00 2.00 0 1 0 4.00 0a2.00 2.00 0 1 0 -4.00 0zM292.37 140.92a2.00 2.00 0 1 0 4.00 0a2.00 2.00 0 1 0 -4.00 0zM292.42 140.44a2.00 2.00 0 1 0 4.00 0a2.00 2.00 0 1 0 -4.00 0zM292.47 139.96a2.00 2.00 0 1 0 4.00 0a2.00 2.00 0 1 0 -4.00 0zM292.52 139.47a2.00 2.00 0 1 0 4.00 0a2.00 2.00 0 1 0 -4.00 0zM292.57 138.99a2.00 2.00 0 1 0 4.00 0a2.00 2.00 0 1 0 -4.00 0zM292.61 138.50a2.00 2.00 0 1 0 4.00 0a2.00 2.00 0 1 0 -4.00 0zM292.66 138.02a2.00 2.00 0 1 0 4.00 0a2.00 2.00 0 1 0 -4.00 0zM292.71 137.54a2.00 2.00 0 1 0 4.00 0a2.00 2.00 0 1 0 -4.00 0zM292.76 137.05a2.00 2.00 0 1 0 4.00 0a2.00 2.00 0 1 0 -4.00 0zM292.81 136.57a2.00 2.00 0 1 0 4.00 0a2.00 2.00 0 1 0 -4.00 0zM292.85 136.08a2.00 2.00 0 1 0 4.00 0a2.00 2.00 0 1 0 -4.00 0zM292.90 135.60a2.00 2.00 0 1 0 4.00 0a2.00 2.00 0 1 0 -4.00 0zM292.97 135.10a2.00 2.00 0 1 0 4.00 0a2.00 2.00 0 1 0 -4.00 0zM293.03 134.60a2.00 2.00 0 1 0 4.00 0a2.00 2.00 0 1 0 -4.00 0zM293.09 134.11a2.00 2.00 0 1 0 4.00 0a2.00 2.00 0 1 0 -4.00 0zM293.15 133.61a2.00 2.00 0 1 0 4.00 0a2.00 2.00 0 1 0 -4.00 0zM293.22 133.11a2.00 2.00 0 1 0 4.00 0a2.00 2.00 0 1 0 -4.00 0zM293.28 132.61a2.00 2.00 0 1 0 4.00 0a2.00 2.00 0 1 0 -4.00 0zM293.34 132.12a2.00 2.00 0 1 0 4.00 0a2.00 2.00 0 1 0 -4.00 0zM293.40 131.62a2.00 2.00 0 1 0 4.00 0a2.00 2.00 0 1 0 -4.00 0zM293.47 131.12a2.00 2.00 0 1 0 4.00 0a2.00 2.00 0 1 0 -4.00 0zM293.53 130.62a2.00 2.00 0 1 0 4.00 0a2.00 2.00 0 1 0 -4.00 0zM293.59 130.13a2.00 2.00 0 1 0 4.00 0a2.00 2.00 0 1 0 -4.00 0zM293.66 129.63a2.00 2.00 0 1 0 4.00 0a2.00 2.00 0 1 0 -4.00 0zM293.72 129.13a2.00 2.00 0 1 0 4.00 0a2.00 2.00 0 1 0 -4.00 0zM293.78 128.63a2.00 2.00 0 1 0 4.00 0a2.00 2.00 0 1 0 -4.00 0zM293.84 128.13a2.00 2.00 0 1 0 4.00 0a2.00 2.00 0 1 0 -4.00 0zM293.91 127.64a2.00 2.00 0 1 0 4.00 0a2.00 2.00 0 1 0 -4.00 0zM293.97 127.14a2.00 2.00 0 1 0 4.00 0a2.00 2.00 0 1 0 -4.00 0zM294.03 126.64a2.00 2.00 0 1 0 4.00 0a2.00 2.00 0 1 0 -4.00 0zM294.10 126.14a2.00 2.00 0 1 0 4.00 0a2.00 2.00 0 1 0 -4.00 0zM294.16 125.65a2.00 2.00 0 1 0 4.00 0a2.00 2.00 0 1 0 -4.00 0zM294.22 125.15a2.00 2.00 0 1 0 4.00 0a2.00 2.00 0 1 0 -4.00 0zM294.28 124.65a2.00 2.00 0 1 0 4.00 0a2.00 2.00 0 1 0 -4.00 0zM294.35 124.15a2.00 2.00 0 1 0 4.00 0a2.00 2.00 0 1 0 -4.00 0zM294.41 123.66a2.00 2.00 0 1 0 4.00 0a2.00 2.00 0 1 0 -4.00 0zM294.47 123.16a2.00 2.00 0 1 0 4.00 0a2.00 2.00 0 1 0 -4.00 0zM294.54 122.66a2.00 2.00 0 1 0 4.00 0a2.00 2.00 0 1 0 -4.00 0zM294.60 122.16a2.00 2.00 0 1 0 4.00 0a2.00 2.00 0 1 0 -4.00 0zM294.66 121.67a2.00 2.00 0 1 0 4.00 0a2.00 2.00 0 1 0 -4.00 0zM294.72 121.17a2.00 2.00 0 1 0 4.00 0a2.00 2.00 0 1 0 -4.00 0zM294.79 120.67a2.00 2.00 0 1 0 4.00 0a2.00 2.00 0 1 0 -4.00 0zM294.85 120.17a2.00 2.00 0 1 0 4.00 0a2.00 2.00 0 1 0 -4.00 0zM294.91 119.67a2.00 2.00 0 1 0 4.00 0a2.00 2.00 0 1 0 -4.00 0zM294.97 119.18a2.00 2.00 0 1 0 4.00 0a2.00 2.00 0 1 0 -4.00 0zM295.04 118.68a2.00 2.00 0 1 0 4.00 0a2.00 2.00 0 1 0 -4.00 0zM295.10 118.18a2.00 2.00 0 1 0 4.00 0a2.00 2.00 0 1 0 -4.00 0zM295.16 117.68a2.00 2.00 0 1 0 4.00 0a2.00 2.00 0 1 0 -4.00 0zM295.23 117.19a2.00 2.00 0 1 0 4.00 0a2.00 2.00 0 1 0 -4.00 0zM295.29 116.69a2.00 2.00 0 1 0 4.00 0a2.00 2.00 0 1 0 -4.00 0zM295.35 116.19a2.00 2.00 0 1 0 4.00 0a2.00 2.00 0 1 0 -4.00 0zM295.41 115.69a2.00 2.00 0 1 0 4.00 0a2.00 2.00 0 1 0 -4.00 0zM295.48 115.20a2.00 2.00 0 1 0 4.00 0a2.00 2.00 0 1 0 -4.00 0zM295.54 114.70a2.00 2.00 0 1 0 4.00 0a2.00 2.00 0 1 0 -4.00 0zM295.60 114.20a2.00 2.00 0 1 0 4.00 0a2.00 2.00 0 1 0 -4.00 0zM295.64 113.71a2.00 2.00 0 1 0 4.00 0a2.00 2.00 0 1 0 -4.00 0zM295.68 113.22a2.00 2.00 0 1 0 4.00 0a2.00 2.00 0 1 0 -4.00 0zM295.72 112.72a2.00 2.00 0 1 0 4.00 0a2.00 2.00 0 1 0 -4.00 0zM295.75 112.23a2.00 2.00 0 1 0 4.00 0a2.00 2.00 0 1 0 -4.00 0zM295.79 111.74a2.00 2.00 0 1 0 4.00 0a2.00 2.00 0 1 0 -4.00 0zM295.83 111.25a2.00 2.00 0 1 0 4.00 0a2.00 2.00 0 1 0 -4.00 0zM295.87 110.76a2.00 2.00 0 1 0 4.00 0a2.00 2.00 0 1 0 -4.00 0zM295.91 110.26a2.00 2.00 0 1 0 4.00 0a2.00 2.00 0 1 0 -4.00 0zM295.94 109.77a2.00 2.00 0 1 0 4.00 0a2.00 2.00 0 1 0 -4.00 0zM295.98 109.28a2.00 2.00 0 1 0 4.00 0a2.00 2.00 0 1 0 -4.00 0zM296.02 108.79a2.00 2.00 0 1 0 4.00 0a2.00 2.00 0 1 0 -4.00 0zM296.06 108.30a2.00 2.00 0 1 0 4.00 0a2.00 2.00 0 1 0 -4.00 0zM296.09 107.81a2.00 2.00 0 1 0 4.00 0a2.00 2.00 0 1 0 -4.00 0zM296.13 107.31a2.00 2.00 0 1 0 4.00 0a2.00 2.00 0 1 0 -4.00 0zM296.17 106.82a2.00 2.00 0 1 0 4.00 0a2.00 2.00 0 1 0 -4.00 0zM296.21 106.33a2.00 2.00 0 1 0 4.00 0a2.00 2.00 0 1 0 -4.00 0zM296.25 105.84a2.00 2.00 0 1 0 4.00 0a2.00 2.00 0 1 0 -4.00 0zM296.28 105.35a2.00 2.00 0 1 0 4.00 0a2.00 2.00 0 1 0 -4.00 0zM296.32 104.85a2.00 2.00 0 1 0 4.00 0a2.00 2.00 0 1 0 -4.00 0zM296.36 104.36a2.00 2.00 0 1 0 4.00 0a2.00 2.00 0 1 0 -4.00 0zM296.40 103.87a2.00 2.00 0 1 0 4.00 0a2.00 2.00 0 1 0 -4.00 0zM296.43 103.38a2.00 2.00 0 1 0 4.00 0a2.00 2.00 0 1 0 -4.00 0zM296.47 102.89a2.00 2.00 0 1 0 4.00 0a2.00 2.00 0 1 0 -4.00 0zM296.51 102.39a2.00 2.00 0 1 0 4.00 0a2.00 2.00 0 1 0 -4.00 0zM296.55 101.90a2.00 2.00 0 1 0 4.00 0a2.00 2.00 0 1 0 -4.00 0zM296.59 101.41a2.00 2.00 0 1 0 4.00 0a2.00 2.00 0 1 0 -4.00 0zM296.62 100.92a2.00 2.00 0 1 0 4.00 0a2.00 2.00 0 1 0 -4.00 0zM296.66 100.43a2.00 2.00 0 1 0 4.00 0a2.00 2.00 0 1 0 -4.00 0zM296.70 99.94a2.00 2.00 0 1 0 4.00 0a2.00 2.00 0 1 0 -4.00 0zM296.74 99.44a2.00 2.00 0 1 0 4.00 0a2.00 2.00 0 1 0 -4.00 0zM296.78 98.95a2.00 2.00 0 1 0 4.00 0a2.00 2.00 0 1 0 -4.00 0zM296.81 98.46a2.00 2.00 0 1 0 4.00 0a2.00 2.00 0 1 0 -4.00 0zM296.85 97.97a2.00 2.00 0 1 0 4.00 0a2.00 2.00 0 1 0 -4.00 0zM296.89 97.48a2.00 2.00 0 1 0 4.00 0a2.00 2.00 0 1 0 -4.00 0zM296.93 96.98a2.00 2.00 0 1 0 4.00 0a2.00 2.00 0 1 0 -4.00 0zM296.96 96.49a2.00 2.00 0 1 0 4.00 0a2.00 2.00 0 1 0 -4.00 0zM297.00 96.00a2.00 2.00 0 1 0 4.00 0a2.00 2.00 0 1 0 -4.00 0zM297.03 95.53a2.00 2.00 0 1 0 4.00 0a2.00 2.00 0 1 0 -4.00 0zM297.07 95.05a2.00 2.00 0 1 0 4.00 0a2.00 2.00 0 1 0 -4.00 0zM297.10 94.58a2.00 2.00 0 1 0 4.00 0a2.00 2.00 0 1 0 -4.00 0zM297.13 94.11a2.00 2.00 0 1 0 4.00 0a2.00 2.00 0 1 0 -4.00 0zM297.16 93.64a2.00 2.00 0 1 0 4.00 0a2.00 2.00 0 1 0 -4.00 0zM297.19 93.16a2.00 2.00 0 1 0 4.00 0a2.00 2.00 0 1 0 -4.00 0zM297.22 92.69a2.00 2.00 0 1 0 4.00 0a2.00 2.00 0 1 0 -4.00 0zM297.26 92.22a2.00 2.00 0 1 0 4.00 0a2.00 2.00 0 1 0 -4.00 0zM297.29 91.74a2.00 2.00 0 1 0 4.00 0a2.00 2.00 0 1 0 -4.00 0zM297.32 91.27a2.00 2.00 0 1 0 4.00 0a2.00 2.00 0 1 0 -4.00 0zM297.35 90.80a2.00 2.00 0 1 0 4.00 0a2.00 2.00 0 1 0 -4.00 0zM297.38 90.32a2.00 2.00 0 1 0 4.00 0a2.00 2.00 0 1 0 -4.00 0zM297.42 89.85a2.00 2.00 0 1 0 4.00 0a2.00 2.00 0 1 0 -4.00 0zM297.45 89.38a2.00 2.00 0 1 0 4.00 0a2.00 2.00 0 1 0 -4.00 0zM297.48 88.91a2.00 2.00 0 1 0 4.00 0a2.00 2.00 0 1 0 -4.00 0zM297.51 88.43a2.00 2.00 0 1 0 4.00 0a2.00 2.00 0 1 0 -4.00 0zM297.54 87.96a2.00 2.00 0 1 0 4.00 0a2.00 2.00 0 1 0 -4.00 0zM297.57 87.48a2.00 2.00 0 1 0 4.00 0a2.00 2.00 0 1 0 -4.00 0zM297.59 86.99a2.00 2.00 0 1 0 4.00 0a2.00 2.00 0 1 0 -4.00 0zM297.61 86.51a2.00 2.00 0 1 0 4.00 0a2.00 2.00 0 1 0 -4.00 0zM297.64 86.02a2.00 2.00 0 1 0 4.00 0a2.00 2.00 0 1 0 -4.00 0zM297.66 85.54a2.00 2.00 0 1 0 4.00 0a2.00 2.00 0 1 0 -4.00 0zM297.68 85.05a2.00 2.00 0 1 0 4.00 0a2.00 2.00 0 1 0 -4.00 0zM297.71 84.57a2.00 2.00 0 1 0 4.00 0a2.00 2.00 0 1 0 -4.00 0zM297.73 84.08a2.00 2.00 0 1 0 4.00 0a2.00 2.00 0 1 0 -4.00 0zM297.75 83.60a2.00 2.00 0 1 0 4.00 0a2.00 2.00 0 1 0 -4.00 0zM297.77 83.12a2.00 2.00 0 1 0 4.00 0a2.00 2.00 0 1 0 -4.00 0zM297.80 82.63a2.00 2.00 0 1 0 4.00 0a2.00 2.00 0 1 0 -4.00 0zM297.82 82.15a2.00 2.00 0 1 0 4.00 0a2.00 2.00 0 1 0 -4.00 0zM297.84 81.66a2.00 2.00 0 1 0 4.00 0a2.00 2.00 0 1 0 -4.00 0zM297.87 81.18a2.00 2.00 0 1 0 4.00 0a2.00 2.00 0 1 0 -4.00 0zM297.89 80.69a2.00 2.00 0 1 0 4.00 0a2.00 2.00 0 1 0 -4.00 0zM297.91 80.21a2.00 2.00 0 1 0 4.00 0a2.00 2.00 0 1 0 -4.00 0zM298.04 79.73a2.00 2.00 0 1 0 4.00 0a2.00 2.00 0 1 0 -4.00 0zM298.16 79.25a2.00 2.00 0 1 0 4.00 0a2.00 2.00 0 1 0 -4.00 0zM298.28 78.78a2.00 2.00 0 1 0 4.00 0a2.00 2.00 0 1 0 -4.00 0zM298.40 78.30a2.00 2.00 0 1 0 4.00 0a2.00 2.00 0 1 0 -4.00 0zM298.53 77.82a2.00 2.00 0 1 0 4.00 0a2.00 2.00 0 1 0 -4.00 0zM298.65 77.34a2.00 2.00 0 1 0 4.00 0a2.00 2.00 0 1 0 -4.00 0zM298.77 76.87a2.00 2.00 0 1 0 4.00 0a2.00 2.00 0 1 0 -4.00 0zM298.89 76.39a2.00 2.00 0 1 0 4.00 0a2.00 2.00 0 1 0 -4.00 0zM299.01 75.91a2.00 2.00 0 1 0 4.00 0a2.00 2.00 0 1 0 -4.00 0zM299.14 75.43a2.00 2.00 0 1 0 4.00 0a2.00 2.00 0 1 0 -4.00 0zM299.26 74.96a2.00 2.00 0 1 0 4.00 0a2.00 2.00 0 1 0 -4.00 0zM299.38 74.48a2.00 2.00 0 1 0 4.00 0a2.00 2.00 0 1 0 -4.00 0zM299.50 74.00a2.00 2.00 0 1 0 4.00 0a2.00 2.00 0 1 0 -4.00 0zM299.70 73.51a2.00 2.00 0 1 0 4.00 0a2.00 2.00 0 1 0 -4.00 0zM299.90 73.01a2.00 2.00 0 1 0 4.00 0a2.00 2.00 0 1 0 -4.00 0zM300.10 72.52a2.00 2.00 0 1 0 4.00 0a2.00 2.00 0 1 0 -4.00 0zM300.30 72.03a2.00 2.00 0 1 0 4.00 0a2.00 2.00 0 1 0 -4.00 0zM300.50 71.54a2.00 2.00 0 1 0 4.00 0a2.00 2.00 0 1 0 -4.00 0zM300.70 71.04a2.00 2.00 0 1 0 4.00 0a2.00 2.00 0 1 0 -4.00 0zM300.90 70.55a2.00 2.00 0 1 0 4.00 0a2.00 2.00 0 1 0 -4.00 0zM301.10 70.06a2.00 2.00 0 1 0 4.00 0a2.00 2.00 0 1 0 -4.00 0zM301.30 69.56a2.00 2.00 0 1 0 4.00 0a2.00 2.00 0 1 0 -4.00 0zM301.50 69.07a2.00 2.00 0 1 0 4.00 0a2.00 2.00 0 1 0 -4.00 0zM301.70 68.58a2.00 2.00 0 1 0 4.00 0a2.00 2.00 0 1 0 -4.00 0zM301.90 68.09a2.00 2.00 0 1 0 4.00 0a2.00 2.00 0 1 0 -4.00 0zM302.10 67.59a2.00 2.00 0 1 0 4.00 0a2.00 2.00 0 1 0 -4.00 0zM302.30 67.10a2.00 2.00 0 1 0 4.00 0a2.00 2.00 0 1 0 -4.00 0zM302.55 66.60a2.00 2.00 0 1 0 4.00 0a2.00 2.00 0 1 0 -4.00 0zM302.79 66.10a2.00 2.00 0 1 0 4.00 0a2.00 2.00 0 1 0 -4.00 0zM303.03 65.60a2.00 2.00 0 1 0 4.00 0a2.00 2.00 0 1 0 -4.00 0zM303.27 65.10a2.00 2.00 0 1 0 4.00 0a2.00 2.00 0 1 0 -4.00 0zM303.52 64.60a2.00 2.00 0 1 0 4.00 0a2.00 2.00 0 1 0 -4.00 0zM303.76 64.10a2.00 2.00 0 1 0 4.00 0a2.00 2.00 0 1 0 -4.00 0zM304.00 63.60a2.00 2.00 0 1 0 4.00 0a2.00 2.00 0 1 0 -4.00 0zM304.50 63.13a2.00 2.00 0 1 0 4.00 0a2.00 2.00 0 1 0 -4.00 0zM305.00 62.66a2.00 2.00 0 1 0 4.00 0a2.00 2.00 0 1 0 -4.00 0zM305.50 62.19a2.00 2.00 0 1 0 4.00 0a2.00 2.00 0 1 0 -4.00 0zM306.00 61.71a2.00 2.00 0 1 0 4.00 0a2.00 2.00 0 1 0 -4.00 0zM306.50 61.24a2.00 2.00 0 1 0 4.00 0a2.00 2.00 0 1 0 -4.00 0zM307.00 60.77a2.00 2.00 0 1 0 4.00 0a2.00 2.00 0 1 0 -4.00 0zM307.50 60.30a2.00 2.00 0 1 0 4.00 0a2.00 2.00 0 1 0 -4.00 0zM307.96 59.80a2.00 2.00 0 1 0 4.00 0a2.00 2.00 0 1 0 -4.00 0zM308.42 59.30a2.00 2.00 0 1 0 4.00 0a2.00 2.00 0 1 0 -4.00 0zM308.87 58.80a2.00 2.00 0 1 0 4.00 0a2.00 2.00 0 1 0 -4.00 0zM309.33 58.30a2.00 2.00 0 1 0 4.00 0a2.00 2.00 0 1 0 -4.00 0zM309.79 57.80a2.00 2.00 0 1 0 4.00 0a2.00 2.00 0 1 0 -4.00 0zM310.25 57.30a2.00 2.00 0 1 0 4.00 0a2.00 2.00 0 1 0 -4.00 0zM310.70 56.80a2.00 2.00 0 1 0 4.00 0a2.00 2.00 0 1 0 -4.00 0zM311.18 56.36a2.00 2.00 0 1 0 4.00 0a2.00 2.00 0 1 0 -4.00 0zM311.65 55.93a2.00 2.00 0 1 0 4.00 0a2.00 2.00 0 1 0 -4.00 0zM312.12 55.49a2.00 2.00 0 1 0 4.00 0a2.00 2.00 0 1 0 -4.00 0zM312.59 55.05a2.00 2.00 0 1 0 4.00 0a2.00 2.00 0 1 0 -4.00 0zM313.07 54.62a2.00 2.00 0 1 0 4.00 0a2.00 2.00 0 1 0 -4.00 0zM313.54 54.18a2.00 2.00 0 1 0 4.00 0a2.00 2.00 0 1 0 -4.00 0zM314.01 53.75a2.00 2.00 0 1 0 4.00 0a2.00 2.00 0 1 0 -4.00 0zM314.48 53.31a2.00 2.00 0 1 0 4.00 0a2.00 2.00 0 1 0 -4.00 0zM314.96 52.87a2.00 2.00 0 1 0 4.00 0a2.00 2.00 0 1 0 -4.00 0zM315.43 52.44a2.00 2.00 0 1 0 4.00 0a2.00 2.00 0 1 0 -4.00 0zM315.90 52.00a2.00 2.00 0 1 0 4.00 0a2.00 2.00 0 1 0 -4.00 0zM316.38 51.80a2.00 2.00 0 1 0 4.00 0a2.00 2.00 0 1 0 -4.00 0zM316.86 51.60a2.00 2.00 0 1 0 4.00 0a2.00 2.00 0 1 0 -4.00 0zM317.34 51.40a2.00 2.00 0 1 0 4.00 0a2.00 2.00 0 1 0 -4.00 0zM317.82 51.20a2.00 2.00 0 1 0 4.00 0a2.00 2.00 0 1 0 -4.00 0zM318.30 51.00a2.00 2.00 0 1 0 4.00 0a2.00 2.00 0 1 0 -4.00 0zM318.78 50.80a2.00 2.00 0 1 0 4.00 0a2.00 2.00 0 1 0 -4.00 0zM319.26 50.60a2.00 2.00 0 1 0 4.00 0a2.00 2.00 0 1 0 -4.00 0zM319.74 50.40a2.00 2.00 0 1 0 4.00 0a2.00 2.00 0 1 0 -4.00 0zM320.22 50.20a2.00 2.00 0 1 0 4.00 0a2.00 2.00 0 1 0 -4.00 0zM320.70 50.00a2.00 2.00 0 1 0 4.00 0a2.00 2.00 0 1 0 -4.00 0zM321.18 49.86a2.00 2.00 0 1 0 4.00 0a2.00 2.00 0 1 0 -4.00 0zM321.65 49.73a2.00 2.00 0 1 0 4.00 0a2.00 2.00 0 1 0 -4.00 0zM322.12 49.59a2.00 2.00 0 1 0 4.00 0a2.00 2.00 0 1 0 -4.00 0zM322.60 49.45a2.00 2.00 0 1 0 4.00 0a2.00 2.00 0 1 0 -4.00 0zM323.07 49.32a2.00 2.00 0 1 0 4.00 0a2.00 2.00 0 1 0 -4.00 0zM323.55 49.18a2.00 2.00 0 1 0 4.00 0a2.00 2.00 0 1 0 -4.00 0zM324.02 49.05a2.00 2.00 0 1 0 4.00 0a2.00 2.00 0 1 0 -4.00 0zM324.49 48.91a2.00 2.00 0 1 0 4.00 0a2.00 2.00 0 1 0 -4.00 0zM324.97 48.77a2.00 2.00 0 1 0 4.00 0a2.00 2.00 0 1 0 -4.00 0zM325.44 48.64a2.00 2.00 0 1 0 4.00 0a2.00 2.00 0 1 0 -4.00 0zM325.92 48.50a2.00 2.00 0 1 0 4.00 0a2.00 2.00 0 1 0 -4.00 0zM326.39 48.36a2.00 2.00 0 1 0 4.00 0a2.00 2.00 0 1 0 -4.00 0zM326.86 48.23a2.00 2.00 0 1 0 4.00 0a2.00 2.00 0 1 0 -4.00 0zM327.34 48.09a2.00 2.00 0 1 0 4.00 0a2.00 2.00 0 1 0 -4.00 0zM327.80 48.01a2.00 2.00 0 1 0 4.00 0a2.00 2.00 0 1 0 -4.00 0zM328.26 47.93a2.00 2.00 0 1 0 4.00 0a2.00 2.00 0 1 0 -4.00 0zM328.72 47.86a2.00 2.00 0 1 0 4.00 0a2.00 2.00 0 1 0 -4.00 0zM329.18 47.78a2.00 2.00 0 1 0 4.00 0a2.00 2.00 0 1 0 -4.00 0zM329.64 47.70a2.00 2.00 0 1 0 4.00 0a2.00 2.00 0 1 0 -4.00 0zM330.10 47.62a2.00 2.00 0 1 0 4.00 0a2.00 2.00 0 1 0 -4.00 0zM330.56 47.55a2.00 2.00 0 1 0 4.00 0a2.00 2.00 0 1 0 -4.00 0zM331.02 47.47a2.00 2.00 0 1 0 4.00 0a2.00 2.00 0 1 0 -4.00 0zM331.48 47.39a2.00 2.00 0 1 0 4.00 0a2.00 2.00 0 1 0 -4.00 0zM331.94 47.31a2.00 2.00 0 1 0 4.00 0a2.00 2.00 0 1 0 -4.00 0zM332.40 47.23a2.00 2.00 0 1 0 4.00 0a2.00 2.00 0 1 0 -4.00 0zM332.89 47.23a2.00 2.00 0 1 0 4.00 0a2.00 2.00 0 1 0 -4.00 0zM333.37 47.23a2.00 2.00 0 1 0 4.00 0a2.00 2.00 0 1 0 -4.00 0zM333.85 47.23a2.00 2.00 0 1 0 4.00 0a2.00 2.00 0 1 0 -4.00 0zM334.34 47.23a2.00 2.00 0 1 0 4.00 0a2.00 2.00 0 1 0 -4.00 0zM334.82 47.23a2.00 2.00 0 1 0 4.00 0a2.00 2.00 0 1 0 -4.00 0zM335.31 47.23a2.00 2.00 0 1 0 4.00 0a2.00 2.00 0 1 0 -4.00 0zM335.79 47.23a2.00 2.00 0 1 0 4.00 0a2.00 2.00 0 1 0 -4.00 0zM336.27 47.23a2.00 2.00 0 1 0 4.00 0a2.00 2.00 0 1 0 -4.00 0zM336.75 47.23a2.00 2.00 0 1 0 4.00 0a2.00 2.00 0 1 0 -4.00 0zM337.24 47.23a2.00 2.00 0 1 0 4.00 0a2.00 2.00 0 1 0 -4.00 0zM337.72 47.23a2.00 2.00 0 1 0 4.00 0a2.00 2.00 0 1 0 -4.00 0zM338.20 47.23a2.00 2.00 0 1 0 4.00 0a2.00 2.00 0 1 0 -4.00 0zM338.63 47.23a2.00 2.00 0 1 0 4.00 0a2.00 2.00 0 1 0 -4.00 0zM339.06 47.23a2.00 2.00 0 1 0 4.00 0a2.00 2.00 0 1 0 -4.00 0zM339.48 47.23a2.00 2.00 0 1 0 4.00 0a2.00 2.00 0 1 0 -4.00 0zM339.90 47.23a2.00 2.00 0 1 0 4.00 0a2.00 2.00 0 1 0 -4.00 0z" fill="none" stroke="#4472C4" stroke-width="1.4" stroke-linejoin="miter"/>
<path d="M298.52 92.90l2.30 4.14h-4.60zM298.66 92.43l2.30 4.14h-4.60zM298.79 91.95l2.30 4.14h-4.60zM298.93 91.48l2.30 4.14h-4.60zM299.06 91.00l2.30 4.14h-4.60zM299.20 90.53l2.30 4.14h-4.60zM299.34 90.05l2.30 4.14h-4.60zM299.47 89.58l2.30 4.14h-4.60zM299.61 89.10l2.30 4.14h-4.60zM299.74 88.63l2.30 4.14h-4.60zM299.88 88.15l2.30 4.14h-4.60zM300.01 87.68l2.30 4.14h-4.60zM300.15 87.20l2.30 4.14h-4.60zM300.29 86.73l2.30 4.14h-4.60zM300.34 86.25l2.30 4.14h-4.60zM300.39 85.77l2.30 4.14h-4.60zM300.45 85.29l2.30 4.14h-4.60zM300.50 84.82l2.30 4.14h-4.60zM300.55 84.34l2.30 4.14h-4.60zM300.61 83.86l2.30 4.14h-4.60zM300.66 83.39l2.30 4.14h-4.60zM300.72 82.91l2.30 4.14h-4.60zM300.77 82.43l2.30 4.14h-4.60zM300.82 81.96l2.30 4.14h-4.60zM300.88 81.48l2.30 4.14h-4.60zM300.93 81.00l2.30 4.14h-4.60zM300.98 80.52l2.30 4.14h-4.60zM301.04 80.05l2.30 4.14h-4.60zM301.09 79.57l2.30 4.14h-4.60zM301.15 79.09l2.30 4.14h-4.60zM301.20 78.62l2.30 4.14h-4.60zM301.34 78.14l2.30 4.14h-4.60zM301.48 77.66l2.30 4.14h-4.60zM301.62 77.19l2.30 4.14h-4.60zM301.75 76.71l2.30 4.14h-4.60zM301.89 76.23l2.30 4.14h-4.60zM302.03 75.75l2.30 4.14h-4.60zM302.17 75.28l2.30 4.14h-4.60zM302.31 74.80l2.30 4.14h-4.60zM302.45 74.32l2.30 4.14h-4.60zM302.58 73.85l2.30 4.14h-4.60zM302.72 73.37l2.30 4.14h-4.60zM302.86 72.89l2.30 4.14h-4.60zM303.00 72.42l2.30 4.14h-4.60zM303.20 71.93l2.30 4.14h-4.60zM303.40 71.44l2.30 4.14h-4.60zM303.60 70.96l2.30 4.14h-4.60zM303.80 70.47l2.30 4.14h-4.60zM304.00 69.98l2.30 4.14h-4.60zM304.20 69.50l2.30 4.14h-4.60zM304.40 69.01l2.30 4.14h-4.60zM304.60 68.52l2.30 4.14h-4.60zM304.80 68.04l2.30 4.14h-4.60zM305.00 67.55l2.30 4.14h-4.60zM305.20 67.06l2.30 4.14h-4.60zM305.40 66.58l2.30 4.14h-4.60zM305.60 66.09l2.30 4.14h-4.60zM305.80 65.60l2.30 4.14h-4.60zM306.00 65.12l2.30 4.14h-4.60zM306.33 64.63l2.30 4.14h-4.60zM306.67 64.14l2.30 4.14h-4.60zM307.00 63.65l2.30 4.14h-4.60zM307.33 63.16l2.30 4.14h-4.60zM307.67 62.67l2.30 4.14h-4.60zM308.00 62.18l2.30 4.14h-4.60zM308.33 61.69l2.30 4.14h-4.60zM308.67 61.20l2.30 4.14h-4.60zM309.00 60.72l2.30 4.14h-4.60zM309.49 60.33l2.30 4.14h-4.60zM309.97 59.94l2.30 4.14h-4.60zM310.46 59.56l2.30 4.14h-4.60zM310.94 59.17l2.30 4.14h-4.60zM311.43 58.79l2.30 4.14h-4.60zM311.91 58.40l2.30 4.14h-4.60zM312.40 58.02l2.30 4.14h-4.60zM312.88 57.67l2.30 4.14h-4.60zM313.35 57.32l2.30 4.14h-4.60zM313.82 56.97l2.30 4.14h-4.60zM314.30 56.62l2.30 4.14h-4.60zM314.77 56.27l2.30 4.14h-4.60zM315.25 55.92l2.30 4.14h-4.60zM315.72 55.57l2.30 4.14h-4.60zM316.20 55.22l2.30 4.14h-4.60zM316.68 55.02l2.30 4.14h-4.60zM317.16 54.82l2.30 4.14h-4.60zM317.64 54.62l2.30 4.14h-4.60zM318.12 54.42l2.30 4.14h-4.60zM318.60 54.22l2.30 4.14h-4.60zM319.08 54.02l2.30 4.14h-4.60zM319.56 53.82l2.30 4.14h-4.60zM320.04 53.62l2.30 4.14h-4.60zM320.52 53.42l2.30 4.14h-4.60zM321.00 53.22l2.30 4.14h-4.60zM321.50 52.97l2.30 4.14h-4.60zM321.99 52.73l2.30 4.14h-4.60zM322.49 52.49l2.30 4.14h-4.60zM322.98 52.25l2.30 4.14h-4.60zM323.48 52.00l2.30 4.14h-4.60zM323.97 51.76l2.30 4.14h-4.60zM324.47 51.52l2.30 4.14h-4.60zM324.96 51.28l2.30 4.14h-4.60zM325.46 51.03l2.30 4.14h-4.60zM325.95 50.79l2.30 4.14h-4.60zM326.45 50.55l2.30 4.14h-4.60zM326.94 50.30l2.30 4.14h-4.60zM327.44 50.06l2.30 4.14h-4.60zM327.91 49.91l2.30 4.14h-4.60zM328.38 49.77l2.30 4.14h-4.60zM328.84 49.62l2.30 4.14h-4.60zM329.31 49.47l2.30 4.14h-4.60zM329.78 49.32l2.30 4.14h-4.60zM330.25 49.18l2.30 4.14h-4.60zM330.72 49.03l2.30 4.14h-4.60zM331.19 48.88l2.30 4.14h-4.60zM331.66 48.73l2.30 4.14h-4.60zM332.12 48.59l2.30 4.14h-4.60zM332.59 48.44l2.30 4.14h-4.60zM333.06 48.29l2.30 4.14h-4.60zM333.53 48.14l2.30 4.14h-4.60zM334.00 48.00l2.30 4.14h-4.60zM334.47 47.93l2.30 4.14h-4.60zM334.94 47.86l2.30 4.14h-4.60zM335.41 47.79l2.30 4.14h-4.60zM335.88 47.72l2.30 4.14h-4.60zM336.35 47.65l2.30 4.14h-4.60zM336.82 47.58l2.30 4.14h-4.60zM337.29 47.51l2.30 4.14h-4.60zM337.76 47.44l2.30 4.14h-4.60zM338.23 47.37l2.30 4.14h-4.60zM338.71 47.30l2.30 4.14h-4.60zM339.18 47.23l2.30 4.14h-4.60zM339.65 47.16l2.30 4.14h-4.60zM340.12 47.09l2.30 4.14h-4.60zM340.59 47.02l2.30 4.14h-4.60zM341.05 46.94l2.30 4.14h-4.60zM341.51 46.86l2.30 4.14h-4.60zM341.97 46.79l2.30 4.14h-4.60zM342.43 46.71l2.30 4.14h-4.60zM342.89 46.64l2.30 4.14h-4.60zM343.36 46.56l2.30 4.14h-4.60zM343.82 46.48l2.30 4.14h-4.60zM344.28 46.41l2.30 4.14h-4.60zM344.74 46.33l2.30 4.14h-4.60zM345.20 46.26l2.30 4.14h-4.60zM345.69 46.18l2.30 4.14h-4.60zM346.18 46.10l2.30 4.14h-4.60zM346.67 46.03l2.30 4.14h-4.60zM347.17 45.95l2.30 4.14h-4.60zM347.66 45.88l2.30 4.14h-4.60zM348.15 45.80l2.30 4.14h-4.60zM348.64 45.72l2.30 4.14h-4.60zM349.13 45.65l2.30 4.14h-4.60zM349.62 45.57l2.30 4.14h-4.60zM350.11 45.49l2.30 4.14h-4.60zM350.61 45.45l2.30 4.14h-4.60zM351.10 45.41l2.30 4.14h-4.60zM351.60 45.36l2.30 4.14h-4.60zM352.09 45.32l2.30 4.14h-4.60zM352.59 45.28l2.30 4.14h-4.60z" fill="none" stroke="#ED7D31" stroke-width="1.5" stroke-linejoin="miter"/>
<path d="M283.50 213.82l2.30 4.14h-4.60zM283.61 213.34l2.30 4.14h-4.60zM283.71 212.87l2.30 4.14h-4.60zM283.82 212.39l2.30 4.14h-4.60zM283.93 211.92l2.30 4.14h-4.60zM284.03 211.44l2.30 4.14h-4.60zM284.14 210.97l2.30 4.14h-4.60zM284.24 210.49l2.30 4.14h-4.60zM284.35 210.02l2.30 4.14h-4.60zM284.46 209.54l2.30 4.14h-4.60zM284.56 209.07l2.30 4.14h-4.60zM284.67 208.59l2.30 4.14h-4.60zM284.77 208.12l2.30 4.14h-4.60zM284.88 207.64l2.30 4.14h-4.60zM284.99 207.17l2.30 4.14h-4.60zM285.09 206.69l2.30 4.14h-4.60zM285.20 206.22l2.30 4.14h-4.60zM285.23 205.73l2.30 4.14h-4.60zM285.26 205.24l2.30 4.14h-4.60zM285.30 204.75l2.30 4.14h-4.60zM285.33 204.26l2.30 4.14h-4.60zM285.36 203.78l2.30 4.14h-4.60zM285.39 203.29l2.30 4.14h-4.60zM285.42 202.80l2.30 4.14h-4.60zM285.46 202.31l2.30 4.14h-4.60zM285.49 201.82l2.30 4.14h-4.60zM285.52 201.34l2.30 4.14h-4.60zM285.55 200.85l2.30 4.14h-4.60zM285.58 200.36l2.30 4.14h-4.60zM285.62 199.87l2.30 4.14h-4.60zM285.65 199.38l2.30 4.14h-4.60zM285.68 198.90l2.30 4.14h-4.60zM285.71 198.41l2.30 4.14h-4.60zM285.74 197.92l2.30 4.14h-4.60zM285.78 197.43l2.30 4.14h-4.60zM285.81 196.94l2.30 4.14h-4.60zM285.84 196.46l2.30 4.14h-4.60zM285.87 195.97l2.30 4.14h-4.60zM285.90 195.48l2.30 4.14h-4.60zM285.94 194.99l2.30 4.14h-4.60zM285.97 194.50l2.30 4.14h-4.60zM286.00 194.02l2.30 4.14h-4.60zM286.01 193.53l2.30 4.14h-4.60zM286.03 193.04l2.30 4.14h-4.60zM286.04 192.56l2.30 4.14h-4.60zM286.06 192.07l2.30 4.14h-4.60zM286.07 191.58l2.30 4.14h-4.60zM286.08 191.10l2.30 4.14h-4.60zM286.10 190.61l2.30 4.14h-4.60zM286.11 190.13l2.30 4.14h-4.60zM286.12 189.64l2.30 4.14h-4.60zM286.14 189.15l2.30 4.14h-4.60zM286.15 188.67l2.30 4.14h-4.60zM286.17 188.18l2.30 4.14h-4.60zM286.18 187.70l2.30 4.14h-4.60zM286.19 187.21l2.30 4.14h-4.60zM286.21 186.72l2.30 4.14h-4.60zM286.22 186.24l2.30 4.14h-4.60zM286.23 185.75l2.30 4.14h-4.60zM286.25 185.26l2.30 4.14h-4.60zM286.26 184.78l2.30 4.14h-4.60zM286.28 184.29l2.30 4.14h-4.60zM286.29 183.81l2.30 4.14h-4.60zM286.30 183.32l2.30 4.14h-4.60zM286.32 182.83l2.30 4.14h-4.60zM286.33 182.35l2.30 4.14h-4.60zM286.34 181.86l2.30 4.14h-4.60zM286.36 181.37l2.30 4.14h-4.60zM286.37 180.89l2.30 4.14h-4.60zM286.39 180.40l2.30 4.14h-4.60zM286.40 179.92l2.30 4.14h-4.60zM286.48 179.44l2.30 4.14h-4.60zM286.56 178.97l2.30 4.14h-4.60zM286.64 178.50l2.30 4.14h-4.60zM286.72 178.02l2.30 4.14h-4.60zM286.80 177.55l2.30 4.14h-4.60zM286.88 177.08l2.30 4.14h-4.60zM286.96 176.60l2.30 4.14h-4.60zM287.04 176.13l2.30 4.14h-4.60zM287.12 175.66l2.30 4.14h-4.60zM287.20 175.18l2.30 4.14h-4.60zM287.28 174.71l2.30 4.14h-4.60zM287.36 174.24l2.30 4.14h-4.60zM287.44 173.76l2.30 4.14h-4.60zM287.52 173.29l2.30 4.14h-4.60zM287.60 172.82l2.30 4.14h-4.60zM287.66 172.32l2.30 4.14h-4.60zM287.73 171.83l2.30 4.14h-4.60zM287.79 171.34l2.30 4.14h-4.60zM287.85 170.84l2.30 4.14h-4.60zM287.91 170.35l2.30 4.14h-4.60zM287.98 169.86l2.30 4.14h-4.60zM288.04 169.37l2.30 4.14h-4.60zM288.10 168.87l2.30 4.14h-4.60zM288.16 168.38l2.30 4.14h-4.60zM288.23 167.89l2.30 4.14h-4.60zM288.29 167.39l2.30 4.14h-4.60zM288.35 166.90l2.30 4.14h-4.60zM288.41 166.41l2.30 4.14h-4.60zM288.48 165.92l2.30 4.14h-4.60zM288.54 165.42l2.30 4.14h-4.60zM288.60 164.93l2.30 4.14h-4.60zM288.66 164.44l2.30 4.14h-4.60zM288.73 163.94l2.30 4.14h-4.60zM288.79 163.45l2.30 4.14h-4.60zM288.85 162.96l2.30 4.14h-4.60zM288.91 162.47l2.30 4.14h-4.60zM288.98 161.97l2.30 4.14h-4.60zM289.04 161.48l2.30 4.14h-4.60zM289.10 160.99l2.30 4.14h-4.60zM289.16 160.49l2.30 4.14h-4.60zM289.23 160.00l2.30 4.14h-4.60zM289.29 159.51l2.30 4.14h-4.60zM289.35 159.02l2.30 4.14h-4.60zM289.41 158.52l2.30 4.14h-4.60zM289.48 158.03l2.30 4.14h-4.60zM289.54 157.54l2.30 4.14h-4.60zM289.60 157.04l2.30 4.14h-4.60zM289.66 156.55l2.30 4.14h-4.60zM289.73 156.06l2.30 4.14h-4.60zM289.79 155.57l2.30 4.14h-4.60zM289.85 155.07l2.30 4.14h-4.60zM289.91 154.58l2.30 4.14h-4.60zM289.98 154.09l2.30 4.14h-4.60zM290.04 153.59l2.30 4.14h-4.60zM290.10 153.10l2.30 4.14h-4.60zM290.16 152.61l2.30 4.14h-4.60zM290.23 152.12l2.30 4.14h-4.60zM290.29 151.62l2.30 4.14h-4.60zM290.35 151.13l2.30 4.14h-4.60zM290.41 150.64l2.30 4.14h-4.60zM290.48 150.14l2.30 4.14h-4.60zM290.54 149.65l2.30 4.14h-4.60zM290.60 149.16l2.30 4.14h-4.60zM290.66 148.67l2.30 4.14h-4.60zM290.73 148.17l2.30 4.14h-4.60zM290.79 147.68l2.30 4.14h-4.60zM290.85 147.19l2.30 4.14h-4.60zM290.91 146.69l2.30 4.14h-4.60zM290.98 146.20l2.30 4.14h-4.60zM291.04 145.71l2.30 4.14h-4.60zM291.10 145.22l2.30 4.14h-4.60zM291.15 144.73l2.30 4.14h-4.60zM291.20 144.24l2.30 4.14h-4.60zM291.24 143.75l2.30 4.14h-4.60zM291.29 143.26l2.30 4.14h-4.60zM291.34 142.78l2.30 4.14h-4.60zM291.39 142.29l2.30 4.14h-4.60zM291.44 141.80l2.30 4.14h-4.60zM291.48 141.31l2.30 4.14h-4.60zM291.53 140.82l2.30 4.14h-4.60zM291.58 140.34l2.30 4.14h-4.60zM291.63 139.85l2.30 4.14h-4.60zM291.68 139.36l2.30 4.14h-4.60zM291.72 138.87l2.30 4.14h-4.60zM291.77 138.38l2.30 4.14h-4.60zM291.82 137.90l2.30 4.14h-4.60zM291.87 137.41l2.30 4.14h-4.60zM291.92 136.92l2.30 4.14h-4.60zM291.96 136.43l2.30 4.14h-4.60zM292.01 135.94l2.30 4.14h-4.60zM292.06 135.46l2.30 4.14h-4.60zM292.11 134.97l2.30 4.14h-4.60zM292.16 134.48l2.30 4.14h-4.60zM292.20 133.99l2.30 4.14h-4.60zM292.25 133.50l2.30 4.14h-4.60zM292.30 133.02l2.30 4.14h-4.60zM292.37 132.52l2.30 4.14h-4.60zM292.43 132.03l2.30 4.14h-4.60zM292.50 131.53l2.30 4.14h-4.60zM292.57 131.03l2.30 4.14h-4.60zM292.64 130.54l2.30 4.14h-4.60zM292.70 130.04l2.30 4.14h-4.60zM292.77 129.55l2.30 4.14h-4.60zM292.84 129.05l2.30 4.14h-4.60zM292.91 128.56l2.30 4.14h-4.60zM292.97 128.06l2.30 4.14h-4.60zM293.04 127.57l2.30 4.14h-4.60zM293.11 127.07l2.30 4.14h-4.60zM293.18 126.58l2.30 4.14h-4.60zM293.24 126.08l2.30 4.14h-4.60zM293.31 125.59l2.30 4.14h-4.60zM293.38 125.09l2.30 4.14h-4.60zM293.45 124.60l2.30 4.14h-4.60zM293.51 124.10l2.30 4.14h-4.60zM293.58 123.60l2.30 4.14h-4.60zM293.65 123.11l2.30 4.14h-4.60zM293.72 122.61l2.30 4.14h-4.60zM293.78 122.12l2.30 4.14h-4.60zM293.85 121.62l2.30 4.14h-4.60zM293.92 121.13l2.30 4.14h-4.60zM293.99 120.63l2.30 4.14h-4.60zM294.05 120.14l2.30 4.14h-4.60zM294.12 119.64l2.30 4.14h-4.60zM294.19 119.15l2.30 4.14h-4.60zM294.26 118.65l2.30 4.14h-4.60zM294.32 118.16l2.30 4.14h-4.60zM294.39 117.66l2.30 4.14h-4.60zM294.46 117.16l2.30 4.14h-4.60zM294.53 116.67l2.30 4.14h-4.60zM294.59 116.17l2.30 4.14h-4.60zM294.66 115.68l2.30 4.14h-4.60zM294.73 115.18l2.30 4.14h-4.60zM294.80 114.69l2.30 4.14h-4.60zM294.86 114.19l2.30 4.14h-4.60zM294.93 113.70l2.30 4.14h-4.60zM295.00 113.20l2.30 4.14h-4.60zM295.07 112.71l2.30 4.14h-4.60zM295.13 112.21l2.30 4.14h-4.60zM295.20 111.72l2.30 4.14h-4.60zM295.28 111.22l2.30 4.14h-4.60zM295.37 110.72l2.30 4.14h-4.60zM295.45 110.22l2.30 4.14h-4.60zM295.54 109.73l2.30 4.14h-4.60zM295.62 109.23l2.30 4.14h-4.60zM295.71 108.73l2.30 4.14h-4.60zM295.79 108.23l2.30 4.14h-4.60zM295.87 107.74l2.30 4.14h-4.60zM295.96 107.24l2.30 4.14h-4.60zM296.04 106.74l2.30 4.14h-4.60zM296.13 106.24l2.30 4.14h-4.60zM296.21 105.75l2.30 4.14h-4.60zM296.29 105.25l2.30 4.14h-4.60zM296.38 104.75l2.30 4.14h-4.60zM296.46 104.26l2.30 4.14h-4.60zM296.55 103.76l2.30 4.14h-4.60zM296.63 103.26l2.30 4.14h-4.60zM296.72 102.76l2.30 4.14h-4.60zM296.80 102.27l2.30 4.14h-4.60zM296.88 101.77l2.30 4.14h-4.60zM296.97 101.27l2.30 4.14h-4.60zM297.05 100.77l2.30 4.14h-4.60zM297.14 100.28l2.30 4.14h-4.60zM297.22 99.78l2.30 4.14h-4.60zM297.31 99.28l2.30 4.14h-4.60zM297.39 98.78l2.30 4.14h-4.60zM297.47 98.29l2.30 4.14h-4.60zM297.56 97.79l2.30 4.14h-4.60zM297.64 97.29l2.30 4.14h-4.60zM297.73 96.79l2.30 4.14h-4.60zM297.81 96.30l2.30 4.14h-4.60zM297.89 95.80l2.30 4.14h-4.60zM297.98 95.30l2.30 4.14h-4.60zM298.06 94.81l2.30 4.14h-4.60zM298.15 94.31l2.30 4.14h-4.60zM298.23 93.81l2.30 4.14h-4.60zM298.32 93.31l2.30 4.14h-4.60zM298.40 92.82l2.30 4.14h-4.60zM298.50 92.32l2.30 4.14h-4.60zM298.60 91.82l2.30 4.14h-4.60zM298.70 91.32l2.30 4.14h-4.60zM298.80 90.82l2.30 4.14h-4.60zM298.90 90.32l2.30 4.14h-4.60zM299.00 89.82l2.30 4.14h-4.60zM299.10 89.32l2.30 4.14h-4.60zM299.20 88.82l2.30 4.14h-4.60zM299.30 88.32l2.30 4.14h-4.60zM299.40 87.82l2.30 4.14h-4.60zM299.50 87.32l2.30 4.14h-4.60zM299.60 86.82l2.30 4.14h-4.60zM299.70 86.32l2.30 4.14h-4.60zM299.73 85.82l2.30 4.14h-4.60zM299.76 85.33l2.30 4.14h-4.60zM299.79 84.83l2.30 4.14h-4.60zM299.82 84.34l2.30 4.14h-4.60zM299.85 83.85l2.30 4.14h-4.60zM299.88 83.35l2.30 4.14h-4.60zM299.91 82.86l2.30 4.14h-4.60zM299.94 82.36l2.30 4.14h-4.60zM299.96 81.87l2.30 4.14h-4.60zM299.99 81.37l2.30 4.14h-4.60zM300.02 80.88l2.30 4.14h-4.60zM300.05 80.39l2.30 4.14h-4.60zM300.08 79.89l2.30 4.14h-4.60zM300.11 79.40l2.30 4.14h-4.60zM300.14 78.90l2.30 4.14h-4.60zM300.17 78.41l2.30 4.14h-4.60zM300.20 77.92l2.30 4.14h-4.60zM300.34 77.44l2.30 4.14h-4.60zM300.48 76.96l2.30 4.14h-4.60zM300.62 76.49l2.30 4.14h-4.60zM300.75 76.01l2.30 4.14h-4.60zM300.89 75.53l2.30 4.14h-4.60zM301.03 75.05l2.30 4.14h-4.60zM301.17 74.58l2.30 4.14h-4.60zM301.31 74.10l2.30 4.14h-4.60zM301.45 73.62l2.30 4.14h-4.60zM301.58 73.15l2.30 4.14h-4.60zM301.72 72.67l2.30 4.14h-4.60zM301.86 72.19l2.30 4.14h-4.60zM302.00 71.72l2.30 4.14h-4.60zM302.20 71.23l2.30 4.14h-4.60zM302.40 70.74l2.30 4.14h-4.60zM302.60 70.26l2.30 4.14h-4.60zM302.80 69.77l2.30 4.14h-4.60zM303.00 69.28l2.30 4.14h-4.60zM303.20 68.80l2.30 4.14h-4.60zM303.40 68.31l2.30 4.14h-4.60zM303.60 67.82l2.30 4.14h-4.60zM303.80 67.34l2.30 4.14h-4.60zM304.00 66.85l2.30 4.14h-4.60zM304.20 66.36l2.30 4.14h-4.60zM304.40 65.88l2.30 4.14h-4.60zM304.60 65.39l2.30 4.14h-4.60zM304.80 64.90l2.30 4.14h-4.60zM305.00 64.42l2.30 4.14h-4.60zM305.33 63.93l2.30 4.14h-4.60zM305.67 63.44l2.30 4.14h-4.60zM306.00 62.95l2.30 4.14h-4.60zM306.33 62.46l2.30 4.14h-4.60zM306.67 61.97l2.30 4.14h-4.60zM307.00 61.48l2.30 4.14h-4.60zM307.33 60.99l2.30 4.14h-4.60zM307.67 60.50l2.30 4.14h-4.60zM308.00 60.02l2.30 4.14h-4.60zM308.49 59.63l2.30 4.14h-4.60zM308.97 59.24l2.30 4.14h-4.60zM309.46 58.86l2.30 4.14h-4.60zM309.94 58.47l2.30 4.14h-4.60zM310.43 58.09l2.30 4.14h-4.60zM310.91 57.70l2.30 4.14h-4.60zM311.40 57.32l2.30 4.14h-4.60zM311.88 56.97l2.30 4.14h-4.60zM312.35 56.62l2.30 4.14h-4.60zM312.82 56.27l2.30 4.14h-4.60zM313.30 55.92l2.30 4.14h-4.60zM313.77 55.57l2.30 4.14h-4.60zM314.25 55.22l2.30 4.14h-4.60zM314.72 54.87l2.30 4.14h-4.60zM315.20 54.52l2.30 4.14h-4.60zM315.68 54.32l2.30 4.14h-4.60zM316.16 54.12l2.30 4.14h-4.60zM316.64 53.92l2.30 4.14h-4.60zM317.12 53.72l2.30 4.14h-4.60zM317.60 53.52l2.30 4.14h-4.60zM318.08 53.32l2.30 4.14h-4.60zM318.56 53.12l2.30 4.14h-4.60zM319.04 52.92l2.30 4.14h-4.60zM319.52 52.72l2.30 4.14h-4.60zM320.00 52.52l2.30 4.14h-4.60zM320.49 52.31l2.30 4.14h-4.60zM320.97 52.10l2.30 4.14h-4.60zM321.46 51.89l2.30 4.14h-4.60zM321.94 51.69l2.30 4.14h-4.60zM322.43 51.48l2.30 4.14h-4.60zM322.91 51.27l2.30 4.14h-4.60zM323.40 51.07l2.30 4.14h-4.60zM323.89 50.86l2.30 4.14h-4.60zM324.37 50.65l2.30 4.14h-4.60zM324.86 50.44l2.30 4.14h-4.60zM325.34 50.24l2.30 4.14h-4.60zM325.83 50.03l2.30 4.14h-4.60zM326.31 49.82l2.30 4.14h-4.60zM326.80 49.62l2.30 4.14h-4.60zM327.29 49.48l2.30 4.14h-4.60zM327.77 49.34l2.30 4.14h-4.60zM328.26 49.21l2.30 4.14h-4.60zM328.74 49.07l2.30 4.14h-4.60zM329.23 48.94l2.30 4.14h-4.60zM329.71 48.80l2.30 4.14h-4.60zM330.20 48.67l2.30 4.14h-4.60zM330.69 48.53l2.30 4.14h-4.60zM331.17 48.39l2.30 4.14h-4.60zM331.66 48.26l2.30 4.14h-4.60zM332.14 48.12l2.30 4.14h-4.60zM332.63 47.99l2.30 4.14h-4.60zM333.11 47.85l2.30 4.14h-4.60zM333.60 47.72l2.30 4.14h-4.60zM334.08 47.65l2.30 4.14h-4.60zM334.56 47.59l2.30 4.14h-4.60zM335.04 47.52l2.30 4.14h-4.60zM335.51 47.46l2.30 4.14h-4.60zM335.99 47.39l2.30 4.14h-4.60zM336.47 47.33l2.30 4.14h-4.60zM336.95 47.27l2.30 4.14h-4.60zM337.43 47.20l2.30 4.14h-4.60zM337.91 47.14l2.30 4.14h-4.60zM338.39 47.07l2.30 4.14h-4.60zM338.86 47.01l2.30 4.14h-4.60zM339.34 46.94l2.30 4.14h-4.60zM339.82 46.88l2.30 4.14h-4.60zM340.30 46.82l2.30 4.14h-4.60zM340.77 46.75l2.30 4.14h-4.60zM341.24 46.68l2.30 4.14h-4.60zM341.71 46.61l2.30 4.14h-4.60zM342.18 46.54l2.30 4.14h-4.60zM342.65 46.47l2.30 4.14h-4.60zM343.12 46.40l2.30 4.14h-4.60zM343.59 46.33l2.30 4.14h-4.60zM344.06 46.26l2.30 4.14h-4.60zM344.53 46.19l2.30 4.14h-4.60zM345.00 46.12l2.30 4.14h-4.60zM345.50 46.05l2.30 4.14h-4.60zM346.00 45.98l2.30 4.14h-4.60zM346.50 45.91l2.30 4.14h-4.60zM347.00 45.84l2.30 4.14h-4.60zM347.50 45.77l2.30 4.14h-4.60zM348.00 45.70l2.30 4.14h-4.60zM348.50 45.63l2.30 4.14h-4.60zM349.00 45.56l2.30 4.14h-4.60zM349.50 45.49l2.30 4.14h-4.60zM350.00 45.42l2.30 4.14h-4.60zM350.50 45.38l2.30 4.14h-4.60zM351.00 45.34l2.30 4.14h-4.60zM351.50 45.30l2.30 4.14h-4.60zM352.00 45.26l2.30 4.14h-4.60zM352.50 45.22l2.30 4.14h-4.60zM355.50 45.02l2.30 4.14h-4.60zM358.50 44.92l2.30 4.14h-4.60zM363.30 44.82l2.30 4.14h-4.60zM368.30 44.72l2.30 4.14h-4.60zM373.40 44.62l2.30 4.14h-4.60zM378.00 44.52l2.30 4.14h-4.60zM380.50 44.52l2.30 4.14h-4.60zM382.80 44.42l2.30 4.14h-4.60zM395.80 44.32l2.30 4.14h-4.60zM407.80 44.22l2.30 4.14h-4.60zM412.60 44.22l2.30 4.14h-4.60zM436.40 44.12l2.30 4.14h-4.60z" fill="none" stroke="#ED7D31" stroke-width="1.5" stroke-linejoin="miter"/>
<path d="M59.80 478.30a2.00 2.00 0 1 0 4.00 0a2.00 2.00 0 1 0 -4.00 0zM59.81 477.70a2.00 2.00 0 1 0 4.00 0a2.00 2.00 0 1 0 -4.00 0zM59.81 477.10a2.00 2.00 0 1 0 4.00 0a2.00 2.00 0 1 0 -4.00 0zM59.81 476.51a2.00 2.00 0 1 0 4.00 0a2.00 2.00 0 1 0 -4.00 0zM59.81 475.91a2.00 2.00 0 1 0 4.00 0a2.00 2.00 0 1 0 -4.00 0zM59.82 475.31a2.00 2.00 0 1 0 4.00 0a2.00 2.00 0 1 0 -4.00 0zM59.82 474.71a2.00 2.00 0 1 0 4.00 0a2.00 2.00 0 1 0 -4.00 0zM59.82 474.11a2.00 2.00 0 1 0 4.00 0a2.00 2.00 0 1 0 -4.00 0zM59.83 473.52a2.00 2.00 0 1 0 4.00 0a2.00 2.00 0 1 0 -4.00 0zM59.83 472.92a2.00 2.00 0 1 0 4.00 0a2.00 2.00 0 1 0 -4.00 0zM59.83 472.32a2.00 2.00 0 1 0 4.00 0a2.00 2.00 0 1 0 -4.00 0zM59.84 471.72a2.00 2.00 0 1 0 4.00 0a2.00 2.00 0 1 0 -4.00 0zM59.84 471.12a2.00 2.00 0 1 0 4.00 0a2.00 2.00 0 1 0 -4.00 0zM59.84 470.53a2.00 2.00 0 1 0 4.00 0a2.00 2.00 0 1 0 -4.00 0zM59.85 469.93a2.00 2.00 0 1 0 4.00 0a2.00 2.00 0 1 0 -4.00 0zM59.85 469.33a2.00 2.00 0 1 0 4.00 0a2.00 2.00 0 1 0 -4.00 0zM59.85 468.73a2.00 2.00 0 1 0 4.00 0a2.00 2.00 0 1 0 -4.00 0zM59.86 468.14a2.00 2.00 0 1 0 4.00 0a2.00 2.00 0 1 0 -4.00 0zM59.86 467.54a2.00 2.00 0 1 0 4.00 0a2.00 2.00 0 1 0 -4.00 0zM59.86 466.94a2.00 2.00 0 1 0 4.00 0a2.00 2.00 0 1 0 -4.00 0zM59.86 466.34a2.00 2.00 0 1 0 4.00 0a2.00 2.00 0 1 0 -4.00 0zM59.87 465.74a2.00 2.00 0 1 0 4.00 0a2.00 2.00 0 1 0 -4.00 0zM59.87 465.15a2.00 2.00 0 1 0 4.00 0a2.00 2.00 0 1 0 -4.00 0zM59.87 464.55a2.00 2.00 0 1 0 4.00 0a2.00 2.00 0 1 0 -4.00 0zM59.88 463.95a2.00 2.00 0 1 0 4.00 0a2.00 2.00 0 1 0 -4.00 0zM59.88 463.35a2.00 2.00 0 1 0 4.00 0a2.00 2.00 0 1 0 -4.00 0zM59.88 462.75a2.00 2.00 0 1 0 4.00 0a2.00 2.00 0 1 0 -4.00 0zM59.89 462.16a2.00 2.00 0 1 0 4.00 0a2.00 2.00 0 1 0 -4.00 0zM59.89 461.56a2.00 2.00 0 1 0 4.00 0a2.00 2.00 0 1 0 -4.00 0zM59.89 460.96a2.00 2.00 0 1 0 4.00 0a2.00 2.00 0 1 0 -4.00 0zM59.90 460.36a2.00 2.00 0 1 0 4.00 0a2.00 2.00 0 1 0 -4.00 0zM59.90 459.76a2.00 2.00 0 1 0 4.00 0a2.00 2.00 0 1 0 -4.00 0zM59.90 459.17a2.00 2.00 0 1 0 4.00 0a2.00 2.00 0 1 0 -4.00 0zM59.90 458.57a2.00 2.00 0 1 0 4.00 0a2.00 2.00 0 1 0 -4.00 0zM59.91 457.97a2.00 2.00 0 1 0 4.00 0a2.00 2.00 0 1 0 -4.00 0zM59.91 457.37a2.00 2.00 0 1 0 4.00 0a2.00 2.00 0 1 0 -4.00 0zM59.91 456.77a2.00 2.00 0 1 0 4.00 0a2.00 2.00 0 1 0 -4.00 0zM59.92 456.18a2.00 2.00 0 1 0 4.00 0a2.00 2.00 0 1 0 -4.00 0zM59.92 455.58a2.00 2.00 0 1 0 4.00 0a2.00 2.00 0 1 0 -4.00 0zM59.92 454.98a2.00 2.00 0 1 0 4.00 0a2.00 2.00 0 1 0 -4.00 0zM59.93 454.38a2.00 2.00 0 1 0 4.00 0a2.00 2.00 0 1 0 -4.00 0zM59.93 453.78a2.00 2.00 0 1 0 4.00 0a2.00 2.00 0 1 0 -4.00 0zM59.93 453.19a2.00 2.00 0 1 0 4.00 0a2.00 2.00 0 1 0 -4.00 0zM59.94 452.59a2.00 2.00 0 1 0 4.00 0a2.00 2.00 0 1 0 -4.00 0zM59.94 451.99a2.00 2.00 0 1 0 4.00 0a2.00 2.00 0 1 0 -4.00 0zM59.94 451.39a2.00 2.00 0 1 0 4.00 0a2.00 2.00 0 1 0 -4.00 0zM59.94 450.79a2.00 2.00 0 1 0 4.00 0a2.00 2.00 0 1 0 -4.00 0zM59.95 450.20a2.00 2.00 0 1 0 4.00 0a2.00 2.00 0 1 0 -4.00 0zM59.95 449.60a2.00 2.00 0 1 0 4.00 0a2.00 2.00 0 1 0 -4.00 0zM59.95 449.00a2.00 2.00 0 1 0 4.00 0a2.00 2.00 0 1 0 -4.00 0zM59.96 448.40a2.00 2.00 0 1 0 4.00 0a2.00 2.00 0 1 0 -4.00 0zM59.96 447.81a2.00 2.00 0 1 0 4.00 0a2.00 2.00 0 1 0 -4.00 0zM59.96 447.21a2.00 2.00 0 1 0 4.00 0a2.00 2.00 0 1 0 -4.00 0zM59.97 446.61a2.00 2.00 0 1 0 4.00 0a2.00 2.00 0 1 0 -4.00 0zM59.97 446.01a2.00 2.00 0 1 0 4.00 0a2.00 2.00 0 1 0 -4.00 0zM59.97 445.41a2.00 2.00 0 1 0 4.00 0a2.00 2.00 0 1 0 -4.00 0zM59.98 444.82a2.00 2.00 0 1 0 4.00 0a2.00 2.00 0 1 0 -4.00 0zM59.98 444.22a2.00 2.00 0 1 0 4.00 0a2.00 2.00 0 1 0 -4.00 0zM59.98 443.62a2.00 2.00 0 1 0 4.00 0a2.00 2.00 0 1 0 -4.00 0zM59.98 443.02a2.00 2.00 0 1 0 4.00 0a2.00 2.00 0 1 0 -4.00 0zM59.99 442.42a2.00 2.00 0 1 0 4.00 0a2.00 2.00 0 1 0 -4.00 0zM59.99 441.83a2.00 2.00 0 1 0 4.00 0a2.00 2.00 0 1 0 -4.00 0zM59.99 441.23a2.00 2.00 0 1 0 4.00 0a2.00 2.00 0 1 0 -4.00 0zM60.00 440.63a2.00 2.00 0 1 0 4.00 0a2.00 2.00 0 1 0 -4.00 0zM60.00 440.03a2.00 2.00 0 1 0 4.00 0a2.00 2.00 0 1 0 -4.00 0zM60.00 439.43a2.00 2.00 0 1 0 4.00 0a2.00 2.00 0 1 0 -4.00 0zM60.01 438.84a2.00 2.00 0 1 0 4.00 0a2.00 2.00 0 1 0 -4.00 0zM60.01 438.24a2.00 2.00 0 1 0 4.00 0a2.00 2.00 0 1 0 -4.00 0zM60.01 437.64a2.00 2.00 0 1 0 4.00 0a2.00 2.00 0 1 0 -4.00 0zM60.02 437.04a2.00 2.00 0 1 0 4.00 0a2.00 2.00 0 1 0 -4.00 0zM60.02 436.44a2.00 2.00 0 1 0 4.00 0a2.00 2.00 0 1 0 -4.00 0zM60.02 435.85a2.00 2.00 0 1 0 4.00 0a2.00 2.00 0 1 0 -4.00 0zM60.03 435.25a2.00 2.00 0 1 0 4.00 0a2.00 2.00 0 1 0 -4.00 0zM60.03 434.65a2.00 2.00 0 1 0 4.00 0a2.00 2.00 0 1 0 -4.00 0zM60.03 434.05a2.00 2.00 0 1 0 4.00 0a2.00 2.00 0 1 0 -4.00 0zM60.03 433.45a2.00 2.00 0 1 0 4.00 0a2.00 2.00 0 1 0 -4.00 0zM60.04 432.86a2.00 2.00 0 1 0 4.00 0a2.00 2.00 0 1 0 -4.00 0zM60.04 432.26a2.00 2.00 0 1 0 4.00 0a2.00 2.00 0 1 0 -4.00 0zM60.04 431.66a2.00 2.00 0 1 0 4.00 0a2.00 2.00 0 1 0 -4.00 0zM60.05 431.06a2.00 2.00 0 1 0 4.00 0a2.00 2.00 0 1 0 -4.00 0zM60.05 430.46a2.00 2.00 0 1 0 4.00 0a2.00 2.00 0 1 0 -4.00 0zM60.05 429.87a2.00 2.00 0 1 0 4.00 0a2.00 2.00 0 1 0 -4.00 0zM60.06 429.27a2.00 2.00 0 1 0 4.00 0a2.00 2.00 0 1 0 -4.00 0zM60.06 428.67a2.00 2.00 0 1 0 4.00 0a2.00 2.00 0 1 0 -4.00 0zM60.06 428.07a2.00 2.00 0 1 0 4.00 0a2.00 2.00 0 1 0 -4.00 0zM60.07 427.48a2.00 2.00 0 1 0 4.00 0a2.00 2.00 0 1 0 -4.00 0zM60.07 426.88a2.00 2.00 0 1 0 4.00 0a2.00 2.00 0 1 0 -4.00 0zM60.07 426.28a2.00 2.00 0 1 0 4.00 0a2.00 2.00 0 1 0 -4.00 0zM60.07 425.68a2.00 2.00 0 1 0 4.00 0a2.00 2.00 0 1 0 -4.00 0zM60.08 425.08a2.00 2.00 0 1 0 4.00 0a2.00 2.00 0 1 0 -4.00 0zM60.08 424.49a2.00 2.00 0 1 0 4.00 0a2.00 2.00 0 1 0 -4.00 0zM60.08 423.89a2.00 2.00 0 1 0 4.00 0a2.00 2.00 0 1 0 -4.00 0zM60.09 423.29a2.00 2.00 0 1 0 4.00 0a2.00 2.00 0 1 0 -4.00 0zM60.09 422.69a2.00 2.00 0 1 0 4.00 0a2.00 2.00 0 1 0 -4.00 0zM60.09 422.09a2.00 2.00 0 1 0 4.00 0a2.00 2.00 0 1 0 -4.00 0zM60.10 421.50a2.00 2.00 0 1 0 4.00 0a2.00 2.00 0 1 0 -4.00 0zM60.10 420.90a2.00 2.00 0 1 0 4.00 0a2.00 2.00 0 1 0 -4.00 0zM60.10 420.30a2.00 2.00 0 1 0 4.00 0a2.00 2.00 0 1 0 -4.00 0zM60.11 419.70a2.00 2.00 0 1 0 4.00 0a2.00 2.00 0 1 0 -4.00 0zM60.11 419.11a2.00 2.00 0 1 0 4.00 0a2.00 2.00 0 1 0 -4.00 0zM60.11 418.51a2.00 2.00 0 1 0 4.00 0a2.00 2.00 0 1 0 -4.00 0zM60.11 417.91a2.00 2.00 0 1 0 4.00 0a2.00 2.00 0 1 0 -4.00 0zM60.12 417.31a2.00 2.00 0 1 0 4.00 0a2.00 2.00 0 1 0 -4.00 0zM60.12 416.72a2.00 2.00 0 1 0 4.00 0a2.00 2.00 0 1 0 -4.00 0zM60.12 416.12a2.00 2.00 0 1 0 4.00 0a2.00 2.00 0 1 0 -4.00 0zM60.13 415.52a2.00 2.00 0 1 0 4.00 0a2.00 2.00 0 1 0 -4.00 0zM60.13 414.93a2.00 2.00 0 1 0 4.00 0a2.00 2.00 0 1 0 -4.00 0zM60.13 414.33a2.00 2.00 0 1 0 4.00 0a2.00 2.00 0 1 0 -4.00 0zM60.14 413.73a2.00 2.00 0 1 0 4.00 0a2.00 2.00 0 1 0 -4.00 0zM60.14 413.14a2.00 2.00 0 1 0 4.00 0a2.00 2.00 0 1 0 -4.00 0zM60.14 412.54a2.00 2.00 0 1 0 4.00 0a2.00 2.00 0 1 0 -4.00 0zM60.14 411.94a2.00 2.00 0 1 0 4.00 0a2.00 2.00 0 1 0 -4.00 0zM60.15 411.34a2.00 2.00 0 1 0 4.00 0a2.00 2.00 0 1 0 -4.00 0zM60.15 410.75a2.00 2.00 0 1 0 4.00 0a2.00 2.00 0 1 0 -4.00 0zM60.15 410.15a2.00 2.00 0 1 0 4.00 0a2.00 2.00 0 1 0 -4.00 0zM60.16 409.55a2.00 2.00 0 1 0 4.00 0a2.00 2.00 0 1 0 -4.00 0zM60.16 408.96a2.00 2.00 0 1 0 4.00 0a2.00 2.00 0 1 0 -4.00 0zM60.16 408.36a2.00 2.00 0 1 0 4.00 0a2.00 2.00 0 1 0 -4.00 0zM60.17 407.76a2.00 2.00 0 1 0 4.00 0a2.00 2.00 0 1 0 -4.00 0zM60.17 407.17a2.00 2.00 0 1 0 4.00 0a2.00 2.00 0 1 0 -4.00 0zM60.17 406.57a2.00 2.00 0 1 0 4.00 0a2.00 2.00 0 1 0 -4.00 0zM60.17 405.97a2.00 2.00 0 1 0 4.00 0a2.00 2.00 0 1 0 -4.00 0zM60.18 405.37a2.00 2.00 0 1 0 4.00 0a2.00 2.00 0 1 0 -4.00 0zM60.18 404.78a2.00 2.00 0 1 0 4.00 0a2.00 2.00 0 1 0 -4.00 0zM60.18 404.18a2.00 2.00 0 1 0 4.00 0a2.00 2.00 0 1 0 -4.00 0zM60.19 403.58a2.00 2.00 0 1 0 4.00 0a2.00 2.00 0 1 0 -4.00 0zM60.19 402.99a2.00 2.00 0 1 0 4.00 0a2.00 2.00 0 1 0 -4.00 0zM60.19 402.39a2.00 2.00 0 1 0 4.00 0a2.00 2.00 0 1 0 -4.00 0zM60.20 401.79a2.00 2.00 0 1 0 4.00 0a2.00 2.00 0 1 0 -4.00 0zM60.20 401.20a2.00 2.00 0 1 0 4.00 0a2.00 2.00 0 1 0 -4.00 0zM60.20 400.60a2.00 2.00 0 1 0 4.00 0a2.00 2.00 0 1 0 -4.00 0zM60.20 400.00a2.00 2.00 0 1 0 4.00 0a2.00 2.00 0 1 0 -4.00 0zM60.21 399.40a2.00 2.00 0 1 0 4.00 0a2.00 2.00 0 1 0 -4.00 0zM60.21 398.81a2.00 2.00 0 1 0 4.00 0a2.00 2.00 0 1 0 -4.00 0zM60.21 398.21a2.00 2.00 0 1 0 4.00 0a2.00 2.00 0 1 0 -4.00 0zM60.22 397.61a2.00 2.00 0 1 0 4.00 0a2.00 2.00 0 1 0 -4.00 0zM60.22 397.02a2.00 2.00 0 1 0 4.00 0a2.00 2.00 0 1 0 -4.00 0zM60.22 396.42a2.00 2.00 0 1 0 4.00 0a2.00 2.00 0 1 0 -4.00 0zM60.22 395.82a2.00 2.00 0 1 0 4.00 0a2.00 2.00 0 1 0 -4.00 0zM60.23 395.23a2.00 2.00 0 1 0 4.00 0a2.00 2.00 0 1 0 -4.00 0zM60.23 394.63a2.00 2.00 0 1 0 4.00 0a2.00 2.00 0 1 0 -4.00 0zM60.23 394.03a2.00 2.00 0 1 0 4.00 0a2.00 2.00 0 1 0 -4.00 0zM60.24 393.43a2.00 2.00 0 1 0 4.00 0a2.00 2.00 0 1 0 -4.00 0zM60.24 392.84a2.00 2.00 0 1 0 4.00 0a2.00 2.00 0 1 0 -4.00 0zM60.24 392.24a2.00 2.00 0 1 0 4.00 0a2.00 2.00 0 1 0 -4.00 0zM60.25 391.64a2.00 2.00 0 1 0 4.00 0a2.00 2.00 0 1 0 -4.00 0zM60.25 391.05a2.00 2.00 0 1 0 4.00 0a2.00 2.00 0 1 0 -4.00 0zM60.25 390.45a2.00 2.00 0 1 0 4.00 0a2.00 2.00 0 1 0 -4.00 0zM60.25 389.85a2.00 2.00 0 1 0 4.00 0a2.00 2.00 0 1 0 -4.00 0zM60.26 389.26a2.00 2.00 0 1 0 4.00 0a2.00 2.00 0 1 0 -4.00 0zM60.26 388.66a2.00 2.00 0 1 0 4.00 0a2.00 2.00 0 1 0 -4.00 0zM60.26 388.06a2.00 2.00 0 1 0 4.00 0a2.00 2.00 0 1 0 -4.00 0zM60.27 387.46a2.00 2.00 0 1 0 4.00 0a2.00 2.00 0 1 0 -4.00 0zM60.27 386.87a2.00 2.00 0 1 0 4.00 0a2.00 2.00 0 1 0 -4.00 0zM60.27 386.27a2.00 2.00 0 1 0 4.00 0a2.00 2.00 0 1 0 -4.00 0zM60.28 385.67a2.00 2.00 0 1 0 4.00 0a2.00 2.00 0 1 0 -4.00 0zM60.28 385.08a2.00 2.00 0 1 0 4.00 0a2.00 2.00 0 1 0 -4.00 0zM60.28 384.48a2.00 2.00 0 1 0 4.00 0a2.00 2.00 0 1 0 -4.00 0zM60.28 383.88a2.00 2.00 0 1 0 4.00 0a2.00 2.00 0 1 0 -4.00 0zM60.29 383.29a2.00 2.00 0 1 0 4.00 0a2.00 2.00 0 1 0 -4.00 0zM60.29 382.69a2.00 2.00 0 1 0 4.00 0a2.00 2.00 0 1 0 -4.00 0zM60.29 382.09a2.00 2.00 0 1 0 4.00 0a2.00 2.00 0 1 0 -4.00 0zM60.30 381.49a2.00 2.00 0 1 0 4.00 0a2.00 2.00 0 1 0 -4.00 0zM60.30 380.90a2.00 2.00 0 1 0 4.00 0a2.00 2.00 0 1 0 -4.00 0zM60.30 380.30a2.00 2.00 0 1 0 4.00 0a2.00 2.00 0 1 0 -4.00 0zM60.32 379.71a2.00 2.00 0 1 0 4.00 0a2.00 2.00 0 1 0 -4.00 0zM60.33 379.12a2.00 2.00 0 1 0 4.00 0a2.00 2.00 0 1 0 -4.00 0zM60.35 378.54a2.00 2.00 0 1 0 4.00 0a2.00 2.00 0 1 0 -4.00 0zM60.36 377.95a2.00 2.00 0 1 0 4.00 0a2.00 2.00 0 1 0 -4.00 0zM60.38 377.36a2.00 2.00 0 1 0 4.00 0a2.00 2.00 0 1 0 -4.00 0zM60.39 376.77a2.00 2.00 0 1 0 4.00 0a2.00 2.00 0 1 0 -4.00 0zM60.41 376.18a2.00 2.00 0 1 0 4.00 0a2.00 2.00 0 1 0 -4.00 0zM60.42 375.59a2.00 2.00 0 1 0 4.00 0a2.00 2.00 0 1 0 -4.00 0zM60.43 375.01a2.00 2.00 0 1 0 4.00 0a2.00 2.00 0 1 0 -4.00 0zM60.45 374.42a2.00 2.00 0 1 0 4.00 0a2.00 2.00 0 1 0 -4.00 0zM60.46 373.83a2.00 2.00 0 1 0 4.00 0a2.00 2.00 0 1 0 -4.00 0zM60.48 373.24a2.00 2.00 0 1 0 4.00 0a2.00 2.00 0 1 0 -4.00 0zM60.49 372.65a2.00 2.00 0 1 0 4.00 0a2.00 2.00 0 1 0 -4.00 0zM60.51 372.06a2.00 2.00 0 1 0 4.00 0a2.00 2.00 0 1 0 -4.00 0zM60.52 371.48a2.00 2.00 0 1 0 4.00 0a2.00 2.00 0 1 0 -4.00 0zM60.54 370.89a2.00 2.00 0 1 0 4.00 0a2.00 2.00 0 1 0 -4.00 0zM60.55 370.30a2.00 2.00 0 1 0 4.00 0a2.00 2.00 0 1 0 -4.00 0zM60.57 369.71a2.00 2.00 0 1 0 4.00 0a2.00 2.00 0 1 0 -4.00 0zM60.58 369.12a2.00 2.00 0 1 0 4.00 0a2.00 2.00 0 1 0 -4.00 0zM60.60 368.54a2.00 2.00 0 1 0 4.00 0a2.00 2.00 0 1 0 -4.00 0zM60.61 367.95a2.00 2.00 0 1 0 4.00 0a2.00 2.00 0 1 0 -4.00 0zM60.63 367.36a2.00 2.00 0 1 0 4.00 0a2.00 2.00 0 1 0 -4.00 0zM60.64 366.77a2.00 2.00 0 1 0 4.00 0a2.00 2.00 0 1 0 -4.00 0zM60.66 366.18a2.00 2.00 0 1 0 4.00 0a2.00 2.00 0 1 0 -4.00 0zM60.67 365.59a2.00 2.00 0 1 0 4.00 0a2.00 2.00 0 1 0 -4.00 0zM60.68 365.01a2.00 2.00 0 1 0 4.00 0a2.00 2.00 0 1 0 -4.00 0zM60.70 364.42a2.00 2.00 0 1 0 4.00 0a2.00 2.00 0 1 0 -4.00 0zM60.71 363.83a2.00 2.00 0 1 0 4.00 0a2.00 2.00 0 1 0 -4.00 0zM60.73 363.24a2.00 2.00 0 1 0 4.00 0a2.00 2.00 0 1 0 -4.00 0zM60.74 362.65a2.00 2.00 0 1 0 4.00 0a2.00 2.00 0 1 0 -4.00 0zM60.76 362.06a2.00 2.00 0 1 0 4.00 0a2.00 2.00 0 1 0 -4.00 0zM60.77 361.48a2.00 2.00 0 1 0 4.00 0a2.00 2.00 0 1 0 -4.00 0zM60.79 360.89a2.00 2.00 0 1 0 4.00 0a2.00 2.00 0 1 0 -4.00 0zM60.80 360.30a2.00 2.00 0 1 0 4.00 0a2.00 2.00 0 1 0 -4.00 0zM60.84 359.71a2.00 2.00 0 1 0 4.00 0a2.00 2.00 0 1 0 -4.00 0zM60.88 359.12a2.00 2.00 0 1 0 4.00 0a2.00 2.00 0 1 0 -4.00 0zM60.92 358.53a2.00 2.00 0 1 0 4.00 0a2.00 2.00 0 1 0 -4.00 0zM60.96 357.94a2.00 2.00 0 1 0 4.00 0a2.00 2.00 0 1 0 -4.00 0zM61.00 357.36a2.00 2.00 0 1 0 4.00 0a2.00 2.00 0 1 0 -4.00 0zM61.04 356.77a2.00 2.00 0 1 0 4.00 0a2.00 2.00 0 1 0 -4.00 0zM61.07 356.18a2.00 2.00 0 1 0 4.00 0a2.00 2.00 0 1 0 -4.00 0zM61.11 355.59a2.00 2.00 0 1 0 4.00 0a2.00 2.00 0 1 0 -4.00 0zM61.15 355.00a2.00 2.00 0 1 0 4.00 0a2.00 2.00 0 1 0 -4.00 0zM61.19 354.41a2.00 2.00 0 1 0 4.00 0a2.00 2.00 0 1 0 -4.00 0zM61.23 353.82a2.00 2.00 0 1 0 4.00 0a2.00 2.00 0 1 0 -4.00 0zM61.27 353.23a2.00 2.00 0 1 0 4.00 0a2.00 2.00 0 1 0 -4.00 0zM61.31 352.64a2.00 2.00 0 1 0 4.00 0a2.00 2.00 0 1 0 -4.00 0zM61.35 352.06a2.00 2.00 0 1 0 4.00 0a2.00 2.00 0 1 0 -4.00 0zM61.39 351.47a2.00 2.00 0 1 0 4.00 0a2.00 2.00 0 1 0 -4.00 0zM61.42 350.88a2.00 2.00 0 1 0 4.00 0a2.00 2.00 0 1 0 -4.00 0zM61.46 350.29a2.00 2.00 0 1 0 4.00 0a2.00 2.00 0 1 0 -4.00 0zM61.50 349.70a2.00 2.00 0 1 0 4.00 0a2.00 2.00 0 1 0 -4.00 0zM61.56 349.12a2.00 2.00 0 1 0 4.00 0a2.00 2.00 0 1 0 -4.00 0zM61.61 348.54a2.00 2.00 0 1 0 4.00 0a2.00 2.00 0 1 0 -4.00 0zM61.67 347.96a2.00 2.00 0 1 0 4.00 0a2.00 2.00 0 1 0 -4.00 0zM61.72 347.38a2.00 2.00 0 1 0 4.00 0a2.00 2.00 0 1 0 -4.00 0zM61.78 346.80a2.00 2.00 0 1 0 4.00 0a2.00 2.00 0 1 0 -4.00 0zM61.83 346.22a2.00 2.00 0 1 0 4.00 0a2.00 2.00 0 1 0 -4.00 0zM61.89 345.64a2.00 2.00 0 1 0 4.00 0a2.00 2.00 0 1 0 -4.00 0zM61.94 345.06a2.00 2.00 0 1 0 4.00 0a2.00 2.00 0 1 0 -4.00 0zM62.00 344.48a2.00 2.00 0 1 0 4.00 0a2.00 2.00 0 1 0 -4.00 0zM62.05 343.90a2.00 2.00 0 1 0 4.00 0a2.00 2.00 0 1 0 -4.00 0zM62.11 343.32a2.00 2.00 0 1 0 4.00 0a2.00 2.00 0 1 0 -4.00 0zM62.16 342.74a2.00 2.00 0 1 0 4.00 0a2.00 2.00 0 1 0 -4.00 0zM62.22 342.16a2.00 2.00 0 1 0 4.00 0a2.00 2.00 0 1 0 -4.00 0zM62.27 341.58a2.00 2.00 0 1 0 4.00 0a2.00 2.00 0 1 0 -4.00 0zM62.33 341.00a2.00 2.00 0 1 0 4.00 0a2.00 2.00 0 1 0 -4.00 0zM62.38 340.42a2.00 2.00 0 1 0 4.00 0a2.00 2.00 0 1 0 -4.00 0zM62.44 339.84a2.00 2.00 0 1 0 4.00 0a2.00 2.00 0 1 0 -4.00 0zM62.49 339.26a2.00 2.00 0 1 0 4.00 0a2.00 2.00 0 1 0 -4.00 0zM62.55 338.68a2.00 2.00 0 1 0 4.00 0a2.00 2.00 0 1 0 -4.00 0zM62.60 338.10a2.00 2.00 0 1 0 4.00 0a2.00 2.00 0 1 0 -4.00 0zM62.68 337.51a2.00 2.00 0 1 0 4.00 0a2.00 2.00 0 1 0 -4.00 0zM62.76 336.92a2.00 2.00 0 1 0 4.00 0a2.00 2.00 0 1 0 -4.00 0zM62.83 336.34a2.00 2.00 0 1 0 4.00 0a2.00 2.00 0 1 0 -4.00 0zM62.91 335.75a2.00 2.00 0 1 0 4.00 0a2.00 2.00 0 1 0 -4.00 0zM62.98 335.16a2.00 2.00 0 1 0 4.00 0a2.00 2.00 0 1 0 -4.00 0zM63.06 334.57a2.00 2.00 0 1 0 4.00 0a2.00 2.00 0 1 0 -4.00 0zM63.14 333.98a2.00 2.00 0 1 0 4.00 0a2.00 2.00 0 1 0 -4.00 0zM63.21 333.39a2.00 2.00 0 1 0 4.00 0a2.00 2.00 0 1 0 -4.00 0zM63.29 332.81a2.00 2.00 0 1 0 4.00 0a2.00 2.00 0 1 0 -4.00 0zM63.37 332.22a2.00 2.00 0 1 0 4.00 0a2.00 2.00 0 1 0 -4.00 0zM63.44 331.63a2.00 2.00 0 1 0 4.00 0a2.00 2.00 0 1 0 -4.00 0zM63.52 331.04a2.00 2.00 0 1 0 4.00 0a2.00 2.00 0 1 0 -4.00 0zM63.60 330.45a2.00 2.00 0 1 0 4.00 0a2.00 2.00 0 1 0 -4.00 0zM63.67 329.86a2.00 2.00 0 1 0 4.00 0a2.00 2.00 0 1 0 -4.00 0zM63.75 329.28a2.00 2.00 0 1 0 4.00 0a2.00 2.00 0 1 0 -4.00 0zM63.83 328.69a2.00 2.00 0 1 0 4.00 0a2.00 2.00 0 1 0 -4.00 0zM63.90 328.10a2.00 2.00 0 1 0 4.00 0a2.00 2.00 0 1 0 -4.00 0zM64.05 327.51a2.00 2.00 0 1 0 4.00 0a2.00 2.00 0 1 0 -4.00 0zM64.19 326.92a2.00 2.00 0 1 0 4.00 0a2.00 2.00 0 1 0 -4.00 0zM64.34 326.33a2.00 2.00 0 1 0 4.00 0a2.00 2.00 0 1 0 -4.00 0zM64.48 325.74a2.00 2.00 0 1 0 4.00 0a2.00 2.00 0 1 0 -4.00 0zM64.62 325.16a2.00 2.00 0 1 0 4.00 0a2.00 2.00 0 1 0 -4.00 0zM64.77 324.57a2.00 2.00 0 1 0 4.00 0a2.00 2.00 0 1 0 -4.00 0zM64.91 323.98a2.00 2.00 0 1 0 4.00 0a2.00 2.00 0 1 0 -4.00 0zM65.06 323.39a2.00 2.00 0 1 0 4.00 0a2.00 2.00 0 1 0 -4.00 0zM65.20 322.80a2.00 2.00 0 1 0 4.00 0a2.00 2.00 0 1 0 -4.00 0zM65.40 322.21a2.00 2.00 0 1 0 4.00 0a2.00 2.00 0 1 0 -4.00 0zM65.60 321.62a2.00 2.00 0 1 0 4.00 0a2.00 2.00 0 1 0 -4.00 0zM65.80 321.03a2.00 2.00 0 1 0 4.00 0a2.00 2.00 0 1 0 -4.00 0zM66.00 320.44a2.00 2.00 0 1 0 4.00 0a2.00 2.00 0 1 0 -4.00 0zM66.20 319.86a2.00 2.00 0 1 0 4.00 0a2.00 2.00 0 1 0 -4.00 0zM66.40 319.27a2.00 2.00 0 1 0 4.00 0a2.00 2.00 0 1 0 -4.00 0zM66.60 318.68a2.00 2.00 0 1 0 4.00 0a2.00 2.00 0 1 0 -4.00 0zM66.80 318.09a2.00 2.00 0 1 0 4.00 0a2.00 2.00 0 1 0 -4.00 0zM67.00 317.50a2.00 2.00 0 1 0 4.00 0a2.00 2.00 0 1 0 -4.00 0zM67.40 316.94a2.00 2.00 0 1 0 4.00 0a2.00 2.00 0 1 0 -4.00 0zM67.80 316.39a2.00 2.00 0 1 0 4.00 0a2.00 2.00 0 1 0 -4.00 0zM68.20 315.83a2.00 2.00 0 1 0 4.00 0a2.00 2.00 0 1 0 -4.00 0zM68.60 315.27a2.00 2.00 0 1 0 4.00 0a2.00 2.00 0 1 0 -4.00 0zM69.00 314.71a2.00 2.00 0 1 0 4.00 0a2.00 2.00 0 1 0 -4.00 0zM69.40 314.16a2.00 2.00 0 1 0 4.00 0a2.00 2.00 0 1 0 -4.00 0zM69.80 313.60a2.00 2.00 0 1 0 4.00 0a2.00 2.00 0 1 0 -4.00 0zM70.37 313.28a2.00 2.00 0 1 0 4.00 0a2.00 2.00 0 1 0 -4.00 0zM70.94 312.97a2.00 2.00 0 1 0 4.00 0a2.00 2.00 0 1 0 -4.00 0zM71.50 312.65a2.00 2.00 0 1 0 4.00 0a2.00 2.00 0 1 0 -4.00 0zM72.07 312.33a2.00 2.00 0 1 0 4.00 0a2.00 2.00 0 1 0 -4.00 0zM72.64 312.02a2.00 2.00 0 1 0 4.00 0a2.00 2.00 0 1 0 -4.00 0zM73.20 311.70a2.00 2.00 0 1 0 4.00 0a2.00 2.00 0 1 0 -4.00 0zM73.80 311.56a2.00 2.00 0 1 0 4.00 0a2.00 2.00 0 1 0 -4.00 0zM74.40 311.41a2.00 2.00 0 1 0 4.00 0a2.00 2.00 0 1 0 -4.00 0zM75.00 311.27a2.00 2.00 0 1 0 4.00 0a2.00 2.00 0 1 0 -4.00 0zM75.60 311.13a2.00 2.00 0 1 0 4.00 0a2.00 2.00 0 1 0 -4.00 0zM76.20 310.99a2.00 2.00 0 1 0 4.00 0a2.00 2.00 0 1 0 -4.00 0zM76.80 310.84a2.00 2.00 0 1 0 4.00 0a2.00 2.00 0 1 0 -4.00 0zM77.40 310.70a2.00 2.00 0 1 0 4.00 0a2.00 2.00 0 1 0 -4.00 0zM77.95 310.62a2.00 2.00 0 1 0 4.00 0a2.00 2.00 0 1 0 -4.00 0zM78.50 310.55a2.00 2.00 0 1 0 4.00 0a2.00 2.00 0 1 0 -4.00 0zM79.05 310.48a2.00 2.00 0 1 0 4.00 0a2.00 2.00 0 1 0 -4.00 0zM79.60 310.40a2.00 2.00 0 1 0 4.00 0a2.00 2.00 0 1 0 -4.00 0zM80.15 310.32a2.00 2.00 0 1 0 4.00 0a2.00 2.00 0 1 0 -4.00 0zM80.70 310.25a2.00 2.00 0 1 0 4.00 0a2.00 2.00 0 1 0 -4.00 0zM81.25 310.18a2.00 2.00 0 1 0 4.00 0a2.00 2.00 0 1 0 -4.00 0zM81.80 310.10a2.00 2.00 0 1 0 4.00 0a2.00 2.00 0 1 0 -4.00 0zM82.35 310.02a2.00 2.00 0 1 0 4.00 0a2.00 2.00 0 1 0 -4.00 0zM82.90 309.95a2.00 2.00 0 1 0 4.00 0a2.00 2.00 0 1 0 -4.00 0zM83.45 309.88a2.00 2.00 0 1 0 4.00 0a2.00 2.00 0 1 0 -4.00 0zM84.00 309.80a2.00 2.00 0 1 0 4.00 0a2.00 2.00 0 1 0 -4.00 0zM85.15 307.80a2.35 2.35 0 1 0 4.70 0a2.35 2.35 0 1 0 -4.70 0zM106.75 308.10a2.35 2.35 0 1 0 4.70 0a2.35 2.35 0 1 0 -4.70 0z" fill="none" stroke="#4472C4" stroke-width="1.4" stroke-linejoin="miter"/>
<path d="M62.10 476.09l1.95 3.52h-3.91zM62.10 475.49l1.95 3.52h-3.91zM62.11 474.89l1.95 3.52h-3.91zM62.11 474.29l1.95 3.52h-3.91zM62.11 473.70l1.95 3.52h-3.91zM62.12 473.10l1.95 3.52h-3.91zM62.12 472.50l1.95 3.52h-3.91zM62.12 471.90l1.95 3.52h-3.91zM62.12 471.31l1.95 3.52h-3.91zM62.13 470.71l1.95 3.52h-3.91zM62.13 470.11l1.95 3.52h-3.91zM62.13 469.51l1.95 3.52h-3.91zM62.14 468.91l1.95 3.52h-3.91zM62.14 468.32l1.95 3.52h-3.91zM62.14 467.72l1.95 3.52h-3.91zM62.15 467.12l1.95 3.52h-3.91zM62.15 466.52l1.95 3.52h-3.91zM62.15 465.92l1.95 3.52h-3.91zM62.16 465.33l1.95 3.52h-3.91zM62.16 464.73l1.95 3.52h-3.91zM62.16 464.13l1.95 3.52h-3.91zM62.16 463.53l1.95 3.52h-3.91zM62.17 462.93l1.95 3.52h-3.91zM62.17 462.34l1.95 3.52h-3.91zM62.17 461.74l1.95 3.52h-3.91zM62.18 461.14l1.95 3.52h-3.91zM62.18 460.54l1.95 3.52h-3.91zM62.18 459.94l1.95 3.52h-3.91zM62.19 459.35l1.95 3.52h-3.91zM62.19 458.75l1.95 3.52h-3.91zM62.19 458.15l1.95 3.52h-3.91zM62.20 457.55l1.95 3.52h-3.91zM62.20 456.95l1.95 3.52h-3.91zM62.20 456.36l1.95 3.52h-3.91zM62.21 455.76l1.95 3.52h-3.91zM62.21 455.16l1.95 3.52h-3.91zM62.21 454.56l1.95 3.52h-3.91zM62.21 453.96l1.95 3.52h-3.91zM62.22 453.37l1.95 3.52h-3.91zM62.22 452.77l1.95 3.52h-3.91zM62.22 452.17l1.95 3.52h-3.91zM62.23 451.57l1.95 3.52h-3.91zM62.23 450.98l1.95 3.52h-3.91zM62.23 450.38l1.95 3.52h-3.91zM62.24 449.78l1.95 3.52h-3.91zM62.24 449.18l1.95 3.52h-3.91zM62.24 448.58l1.95 3.52h-3.91zM62.25 447.99l1.95 3.52h-3.91zM62.25 447.39l1.95 3.52h-3.91zM62.25 446.79l1.95 3.52h-3.91zM62.25 446.19l1.95 3.52h-3.91zM62.26 445.59l1.95 3.52h-3.91zM62.26 445.00l1.95 3.52h-3.91zM62.26 444.40l1.95 3.52h-3.91zM62.27 443.80l1.95 3.52h-3.91zM62.27 443.20l1.95 3.52h-3.91zM62.27 442.60l1.95 3.52h-3.91zM62.28 442.01l1.95 3.52h-3.91zM62.28 441.41l1.95 3.52h-3.91zM62.28 440.81l1.95 3.52h-3.91zM62.29 440.21l1.95 3.52h-3.91zM62.29 439.61l1.95 3.52h-3.91zM62.29 439.02l1.95 3.52h-3.91zM62.29 438.42l1.95 3.52h-3.91zM62.30 437.82l1.95 3.52h-3.91zM62.30 437.22l1.95 3.52h-3.91zM62.30 436.62l1.95 3.52h-3.91zM62.31 436.03l1.95 3.52h-3.91zM62.31 435.43l1.95 3.52h-3.91zM62.31 434.83l1.95 3.52h-3.91zM62.32 434.23l1.95 3.52h-3.91zM62.32 433.63l1.95 3.52h-3.91zM62.32 433.04l1.95 3.52h-3.91zM62.33 432.44l1.95 3.52h-3.91zM62.33 431.84l1.95 3.52h-3.91zM62.33 431.24l1.95 3.52h-3.91zM62.34 430.65l1.95 3.52h-3.91zM62.34 430.05l1.95 3.52h-3.91zM62.34 429.45l1.95 3.52h-3.91zM62.34 428.85l1.95 3.52h-3.91zM62.35 428.25l1.95 3.52h-3.91zM62.35 427.66l1.95 3.52h-3.91zM62.35 427.06l1.95 3.52h-3.91zM62.36 426.46l1.95 3.52h-3.91zM62.36 425.86l1.95 3.52h-3.91zM62.36 425.26l1.95 3.52h-3.91zM62.37 424.67l1.95 3.52h-3.91zM62.37 424.07l1.95 3.52h-3.91zM62.37 423.47l1.95 3.52h-3.91zM62.38 422.87l1.95 3.52h-3.91zM62.38 422.27l1.95 3.52h-3.91zM62.38 421.68l1.95 3.52h-3.91zM62.38 421.08l1.95 3.52h-3.91zM62.39 420.48l1.95 3.52h-3.91zM62.39 419.88l1.95 3.52h-3.91zM62.39 419.28l1.95 3.52h-3.91zM62.40 418.69l1.95 3.52h-3.91zM62.40 418.09l1.95 3.52h-3.91zM62.40 417.49l1.95 3.52h-3.91zM62.41 416.89l1.95 3.52h-3.91zM62.41 416.30l1.95 3.52h-3.91zM62.41 415.70l1.95 3.52h-3.91zM62.41 415.10l1.95 3.52h-3.91zM62.42 414.51l1.95 3.52h-3.91zM62.42 413.91l1.95 3.52h-3.91zM62.42 413.31l1.95 3.52h-3.91zM62.43 412.72l1.95 3.52h-3.91zM62.43 412.12l1.95 3.52h-3.91zM62.43 411.52l1.95 3.52h-3.91zM62.44 410.92l1.95 3.52h-3.91zM62.44 410.33l1.95 3.52h-3.91zM62.44 409.73l1.95 3.52h-3.91zM62.44 409.13l1.95 3.52h-3.91zM62.45 408.54l1.95 3.52h-3.91zM62.45 407.94l1.95 3.52h-3.91zM62.45 407.34l1.95 3.52h-3.91zM62.46 406.75l1.95 3.52h-3.91zM62.46 406.15l1.95 3.52h-3.91zM62.46 405.55l1.95 3.52h-3.91zM62.47 404.95l1.95 3.52h-3.91zM62.47 404.36l1.95 3.52h-3.91zM62.47 403.76l1.95 3.52h-3.91zM62.47 403.16l1.95 3.52h-3.91zM62.48 402.57l1.95 3.52h-3.91zM62.48 401.97l1.95 3.52h-3.91zM62.48 401.37l1.95 3.52h-3.91zM62.49 400.78l1.95 3.52h-3.91zM62.49 400.18l1.95 3.52h-3.91zM62.49 399.58l1.95 3.52h-3.91zM62.50 398.98l1.95 3.52h-3.91zM62.50 398.39l1.95 3.52h-3.91zM62.50 397.79l1.95 3.52h-3.91zM62.50 397.19l1.95 3.52h-3.91zM62.51 396.60l1.95 3.52h-3.91zM62.51 396.00l1.95 3.52h-3.91zM62.51 395.40l1.95 3.52h-3.91zM62.52 394.81l1.95 3.52h-3.91zM62.52 394.21l1.95 3.52h-3.91zM62.52 393.61l1.95 3.52h-3.91zM62.53 393.01l1.95 3.52h-3.91zM62.53 392.42l1.95 3.52h-3.91zM62.53 391.82l1.95 3.52h-3.91zM62.53 391.22l1.95 3.52h-3.91zM62.54 390.63l1.95 3.52h-3.91zM62.54 390.03l1.95 3.52h-3.91zM62.54 389.43l1.95 3.52h-3.91zM62.55 388.83l1.95 3.52h-3.91zM62.55 388.24l1.95 3.52h-3.91zM62.55 387.64l1.95 3.52h-3.91zM62.56 387.04l1.95 3.52h-3.91zM62.56 386.45l1.95 3.52h-3.91zM62.56 385.85l1.95 3.52h-3.91zM62.56 385.25l1.95 3.52h-3.91zM62.57 384.66l1.95 3.52h-3.91zM62.57 384.06l1.95 3.52h-3.91zM62.57 383.46l1.95 3.52h-3.91zM62.58 382.86l1.95 3.52h-3.91zM62.58 382.27l1.95 3.52h-3.91zM62.58 381.67l1.95 3.52h-3.91zM62.59 381.07l1.95 3.52h-3.91zM62.59 380.48l1.95 3.52h-3.91zM62.59 379.88l1.95 3.52h-3.91zM62.59 379.28l1.95 3.52h-3.91zM62.60 378.69l1.95 3.52h-3.91zM62.60 378.09l1.95 3.52h-3.91zM62.61 377.50l1.95 3.52h-3.91zM62.63 376.91l1.95 3.52h-3.91zM62.64 376.32l1.95 3.52h-3.91zM62.66 375.74l1.95 3.52h-3.91zM62.67 375.15l1.95 3.52h-3.91zM62.69 374.56l1.95 3.52h-3.91zM62.70 373.97l1.95 3.52h-3.91zM62.72 373.38l1.95 3.52h-3.91zM62.73 372.79l1.95 3.52h-3.91zM62.75 372.21l1.95 3.52h-3.91zM62.76 371.62l1.95 3.52h-3.91zM62.78 371.03l1.95 3.52h-3.91zM62.79 370.44l1.95 3.52h-3.91zM62.81 369.85l1.95 3.52h-3.91zM62.82 369.27l1.95 3.52h-3.91zM62.84 368.68l1.95 3.52h-3.91zM62.85 368.09l1.95 3.52h-3.91zM62.86 367.50l1.95 3.52h-3.91zM62.88 366.91l1.95 3.52h-3.91zM62.89 366.32l1.95 3.52h-3.91zM62.91 365.74l1.95 3.52h-3.91zM62.92 365.15l1.95 3.52h-3.91zM62.94 364.56l1.95 3.52h-3.91zM62.95 363.97l1.95 3.52h-3.91zM62.97 363.38l1.95 3.52h-3.91zM62.98 362.79l1.95 3.52h-3.91zM63.00 362.21l1.95 3.52h-3.91zM63.01 361.62l1.95 3.52h-3.91zM63.03 361.03l1.95 3.52h-3.91zM63.04 360.44l1.95 3.52h-3.91zM63.06 359.85l1.95 3.52h-3.91zM63.07 359.27l1.95 3.52h-3.91zM63.09 358.68l1.95 3.52h-3.91zM63.10 358.09l1.95 3.52h-3.91zM63.14 357.50l1.95 3.52h-3.91zM63.18 356.91l1.95 3.52h-3.91zM63.22 356.32l1.95 3.52h-3.91zM63.26 355.73l1.95 3.52h-3.91zM63.29 355.14l1.95 3.52h-3.91zM63.33 354.56l1.95 3.52h-3.91zM63.37 353.97l1.95 3.52h-3.91zM63.41 353.38l1.95 3.52h-3.91zM63.45 352.79l1.95 3.52h-3.91zM63.49 352.20l1.95 3.52h-3.91zM63.53 351.61l1.95 3.52h-3.91zM63.57 351.02l1.95 3.52h-3.91zM63.61 350.43l1.95 3.52h-3.91zM63.64 349.84l1.95 3.52h-3.91zM63.68 349.26l1.95 3.52h-3.91zM63.72 348.67l1.95 3.52h-3.91zM63.76 348.08l1.95 3.52h-3.91zM63.80 347.49l1.95 3.52h-3.91zM63.86 346.91l1.95 3.52h-3.91zM63.91 346.33l1.95 3.52h-3.91zM63.97 345.75l1.95 3.52h-3.91zM64.02 345.17l1.95 3.52h-3.91zM64.08 344.59l1.95 3.52h-3.91zM64.13 344.01l1.95 3.52h-3.91zM64.19 343.43l1.95 3.52h-3.91zM64.24 342.85l1.95 3.52h-3.91zM64.30 342.27l1.95 3.52h-3.91zM64.35 341.69l1.95 3.52h-3.91zM64.41 341.11l1.95 3.52h-3.91zM64.46 340.53l1.95 3.52h-3.91zM64.52 339.95l1.95 3.52h-3.91zM64.57 339.37l1.95 3.52h-3.91zM64.62 338.79l1.95 3.52h-3.91zM64.68 338.21l1.95 3.52h-3.91zM64.73 337.63l1.95 3.52h-3.91zM64.79 337.05l1.95 3.52h-3.91zM64.84 336.47l1.95 3.52h-3.91zM64.90 335.89l1.95 3.52h-3.91zM64.98 335.30l1.95 3.52h-3.91zM65.05 334.71l1.95 3.52h-3.91zM65.13 334.12l1.95 3.52h-3.91zM65.21 333.54l1.95 3.52h-3.91zM65.28 332.95l1.95 3.52h-3.91zM65.36 332.36l1.95 3.52h-3.91zM65.44 331.77l1.95 3.52h-3.91zM65.51 331.18l1.95 3.52h-3.91zM65.59 330.59l1.95 3.52h-3.91zM65.66 330.01l1.95 3.52h-3.91zM65.74 329.42l1.95 3.52h-3.91zM65.82 328.83l1.95 3.52h-3.91zM65.89 328.24l1.95 3.52h-3.91zM65.97 327.65l1.95 3.52h-3.91zM66.05 327.07l1.95 3.52h-3.91zM66.12 326.48l1.95 3.52h-3.91zM66.20 325.89l1.95 3.52h-3.91zM66.34 325.30l1.95 3.52h-3.91zM66.49 324.71l1.95 3.52h-3.91zM66.63 324.12l1.95 3.52h-3.91zM66.78 323.53l1.95 3.52h-3.91zM66.92 322.94l1.95 3.52h-3.91zM67.07 322.36l1.95 3.52h-3.91zM67.21 321.77l1.95 3.52h-3.91zM67.36 321.18l1.95 3.52h-3.91zM67.50 320.59l1.95 3.52h-3.91zM67.70 320.00l1.95 3.52h-3.91zM67.90 319.41l1.95 3.52h-3.91zM68.10 318.82l1.95 3.52h-3.91zM68.30 318.23l1.95 3.52h-3.91zM68.50 317.64l1.95 3.52h-3.91zM68.70 317.06l1.95 3.52h-3.91zM68.90 316.47l1.95 3.52h-3.91zM69.10 315.88l1.95 3.52h-3.91zM69.30 315.29l1.95 3.52h-3.91zM69.70 314.73l1.95 3.52h-3.91zM70.10 314.17l1.95 3.52h-3.91zM70.50 313.62l1.95 3.52h-3.91zM70.90 313.06l1.95 3.52h-3.91zM71.30 312.50l1.95 3.52h-3.91zM71.70 311.95l1.95 3.52h-3.91zM72.10 311.39l1.95 3.52h-3.91zM72.67 311.07l1.95 3.52h-3.91zM73.23 310.76l1.95 3.52h-3.91zM73.80 310.44l1.95 3.52h-3.91zM74.37 310.12l1.95 3.52h-3.91zM74.93 309.81l1.95 3.52h-3.91zM75.50 309.49l1.95 3.52h-3.91zM75.00 306.02l2.30 4.14h-4.60zM87.00 305.12l2.30 4.14h-4.60z" fill="none" stroke="#ED7D31" stroke-width="1.5" stroke-linejoin="miter"/>
<path d="M61.20 475.83l2.17 2.17l-2.17 2.17l-2.17 -2.17zM61.20 475.23l2.17 2.17l-2.17 2.17l-2.17 -2.17zM61.21 474.64l2.17 2.17l-2.17 2.17l-2.17 -2.17zM61.21 474.04l2.17 2.17l-2.17 2.17l-2.17 -2.17zM61.21 473.44l2.17 2.17l-2.17 2.17l-2.17 -2.17zM61.22 472.84l2.17 2.17l-2.17 2.17l-2.17 -2.17zM61.22 472.24l2.17 2.17l-2.17 2.17l-2.17 -2.17zM61.22 471.65l2.17 2.17l-2.17 2.17l-2.17 -2.17zM61.22 471.05l2.17 2.17l-2.17 2.17l-2.17 -2.17zM61.23 470.45l2.17 2.17l-2.17 2.17l-2.17 -2.17zM61.23 469.85l2.17 2.17l-2.17 2.17l-2.17 -2.17zM61.23 469.26l2.17 2.17l-2.17 2.17l-2.17 -2.17zM61.24 468.66l2.17 2.17l-2.17 2.17l-2.17 -2.17zM61.24 468.06l2.17 2.17l-2.17 2.17l-2.17 -2.17zM61.24 467.46l2.17 2.17l-2.17 2.17l-2.17 -2.17zM61.25 466.86l2.17 2.17l-2.17 2.17l-2.17 -2.17zM61.25 466.27l2.17 2.17l-2.17 2.17l-2.17 -2.17zM61.25 465.67l2.17 2.17l-2.17 2.17l-2.17 -2.17zM61.26 465.07l2.17 2.17l-2.17 2.17l-2.17 -2.17zM61.26 464.47l2.17 2.17l-2.17 2.17l-2.17 -2.17zM61.26 463.87l2.17 2.17l-2.17 2.17l-2.17 -2.17zM61.26 463.28l2.17 2.17l-2.17 2.17l-2.17 -2.17zM61.27 462.68l2.17 2.17l-2.17 2.17l-2.17 -2.17zM61.27 462.08l2.17 2.17l-2.17 2.17l-2.17 -2.17zM61.27 461.48l2.17 2.17l-2.17 2.17l-2.17 -2.17zM61.28 460.88l2.17 2.17l-2.17 2.17l-2.17 -2.17zM61.28 460.29l2.17 2.17l-2.17 2.17l-2.17 -2.17zM61.28 459.69l2.17 2.17l-2.17 2.17l-2.17 -2.17zM61.29 459.09l2.17 2.17l-2.17 2.17l-2.17 -2.17zM61.29 458.49l2.17 2.17l-2.17 2.17l-2.17 -2.17zM61.29 457.89l2.17 2.17l-2.17 2.17l-2.17 -2.17zM61.30 457.30l2.17 2.17l-2.17 2.17l-2.17 -2.17zM61.30 456.70l2.17 2.17l-2.17 2.17l-2.17 -2.17zM61.30 456.10l2.17 2.17l-2.17 2.17l-2.17 -2.17zM61.31 455.50l2.17 2.17l-2.17 2.17l-2.17 -2.17zM61.31 454.90l2.17 2.17l-2.17 2.17l-2.17 -2.17zM61.31 454.31l2.17 2.17l-2.17 2.17l-2.17 -2.17zM61.31 453.71l2.17 2.17l-2.17 2.17l-2.17 -2.17zM61.32 453.11l2.17 2.17l-2.17 2.17l-2.17 -2.17zM61.32 452.51l2.17 2.17l-2.17 2.17l-2.17 -2.17zM61.32 451.91l2.17 2.17l-2.17 2.17l-2.17 -2.17zM61.33 451.32l2.17 2.17l-2.17 2.17l-2.17 -2.17zM61.33 450.72l2.17 2.17l-2.17 2.17l-2.17 -2.17zM61.33 450.12l2.17 2.17l-2.17 2.17l-2.17 -2.17zM61.34 449.52l2.17 2.17l-2.17 2.17l-2.17 -2.17zM61.34 448.93l2.17 2.17l-2.17 2.17l-2.17 -2.17zM61.34 448.33l2.17 2.17l-2.17 2.17l-2.17 -2.17zM61.35 447.73l2.17 2.17l-2.17 2.17l-2.17 -2.17zM61.35 447.13l2.17 2.17l-2.17 2.17l-2.17 -2.17zM61.35 446.53l2.17 2.17l-2.17 2.17l-2.17 -2.17zM61.35 445.94l2.17 2.17l-2.17 2.17l-2.17 -2.17zM61.36 445.34l2.17 2.17l-2.17 2.17l-2.17 -2.17zM61.36 444.74l2.17 2.17l-2.17 2.17l-2.17 -2.17zM61.36 444.14l2.17 2.17l-2.17 2.17l-2.17 -2.17zM61.37 443.54l2.17 2.17l-2.17 2.17l-2.17 -2.17zM61.37 442.95l2.17 2.17l-2.17 2.17l-2.17 -2.17zM61.37 442.35l2.17 2.17l-2.17 2.17l-2.17 -2.17zM61.38 441.75l2.17 2.17l-2.17 2.17l-2.17 -2.17zM61.38 441.15l2.17 2.17l-2.17 2.17l-2.17 -2.17zM61.38 440.55l2.17 2.17l-2.17 2.17l-2.17 -2.17zM61.39 439.96l2.17 2.17l-2.17 2.17l-2.17 -2.17zM61.39 439.36l2.17 2.17l-2.17 2.17l-2.17 -2.17zM61.39 438.76l2.17 2.17l-2.17 2.17l-2.17 -2.17zM61.39 438.16l2.17 2.17l-2.17 2.17l-2.17 -2.17zM61.40 437.56l2.17 2.17l-2.17 2.17l-2.17 -2.17zM61.40 436.97l2.17 2.17l-2.17 2.17l-2.17 -2.17zM61.40 436.37l2.17 2.17l-2.17 2.17l-2.17 -2.17zM61.41 435.77l2.17 2.17l-2.17 2.17l-2.17 -2.17zM61.41 435.17l2.17 2.17l-2.17 2.17l-2.17 -2.17zM61.41 434.57l2.17 2.17l-2.17 2.17l-2.17 -2.17zM61.42 433.98l2.17 2.17l-2.17 2.17l-2.17 -2.17zM61.42 433.38l2.17 2.17l-2.17 2.17l-2.17 -2.17zM61.42 432.78l2.17 2.17l-2.17 2.17l-2.17 -2.17zM61.43 432.18l2.17 2.17l-2.17 2.17l-2.17 -2.17zM61.43 431.59l2.17 2.17l-2.17 2.17l-2.17 -2.17zM61.43 430.99l2.17 2.17l-2.17 2.17l-2.17 -2.17zM61.44 430.39l2.17 2.17l-2.17 2.17l-2.17 -2.17zM61.44 429.79l2.17 2.17l-2.17 2.17l-2.17 -2.17zM61.44 429.19l2.17 2.17l-2.17 2.17l-2.17 -2.17zM61.44 428.60l2.17 2.17l-2.17 2.17l-2.17 -2.17zM61.45 428.00l2.17 2.17l-2.17 2.17l-2.17 -2.17zM61.45 427.40l2.17 2.17l-2.17 2.17l-2.17 -2.17zM61.45 426.80l2.17 2.17l-2.17 2.17l-2.17 -2.17zM61.46 426.20l2.17 2.17l-2.17 2.17l-2.17 -2.17zM61.46 425.61l2.17 2.17l-2.17 2.17l-2.17 -2.17zM61.46 425.01l2.17 2.17l-2.17 2.17l-2.17 -2.17zM61.47 424.41l2.17 2.17l-2.17 2.17l-2.17 -2.17zM61.47 423.81l2.17 2.17l-2.17 2.17l-2.17 -2.17zM61.47 423.21l2.17 2.17l-2.17 2.17l-2.17 -2.17zM61.48 422.62l2.17 2.17l-2.17 2.17l-2.17 -2.17zM61.48 422.02l2.17 2.17l-2.17 2.17l-2.17 -2.17zM61.48 421.42l2.17 2.17l-2.17 2.17l-2.17 -2.17zM61.48 420.82l2.17 2.17l-2.17 2.17l-2.17 -2.17zM61.49 420.22l2.17 2.17l-2.17 2.17l-2.17 -2.17zM61.49 419.63l2.17 2.17l-2.17 2.17l-2.17 -2.17zM61.49 419.03l2.17 2.17l-2.17 2.17l-2.17 -2.17zM61.50 418.43l2.17 2.17l-2.17 2.17l-2.17 -2.17zM61.50 417.83l2.17 2.17l-2.17 2.17l-2.17 -2.17zM61.50 417.24l2.17 2.17l-2.17 2.17l-2.17 -2.17zM61.51 416.64l2.17 2.17l-2.17 2.17l-2.17 -2.17zM61.51 416.04l2.17 2.17l-2.17 2.17l-2.17 -2.17zM61.51 415.44l2.17 2.17l-2.17 2.17l-2.17 -2.17zM61.51 414.85l2.17 2.17l-2.17 2.17l-2.17 -2.17zM61.52 414.25l2.17 2.17l-2.17 2.17l-2.17 -2.17zM61.52 413.65l2.17 2.17l-2.17 2.17l-2.17 -2.17zM61.52 413.06l2.17 2.17l-2.17 2.17l-2.17 -2.17zM61.53 412.46l2.17 2.17l-2.17 2.17l-2.17 -2.17zM61.53 411.86l2.17 2.17l-2.17 2.17l-2.17 -2.17zM61.53 411.27l2.17 2.17l-2.17 2.17l-2.17 -2.17zM61.54 410.67l2.17 2.17l-2.17 2.17l-2.17 -2.17zM61.54 410.07l2.17 2.17l-2.17 2.17l-2.17 -2.17zM61.54 409.47l2.17 2.17l-2.17 2.17l-2.17 -2.17zM61.54 408.88l2.17 2.17l-2.17 2.17l-2.17 -2.17zM61.55 408.28l2.17 2.17l-2.17 2.17l-2.17 -2.17zM61.55 407.68l2.17 2.17l-2.17 2.17l-2.17 -2.17zM61.55 407.09l2.17 2.17l-2.17 2.17l-2.17 -2.17zM61.56 406.49l2.17 2.17l-2.17 2.17l-2.17 -2.17zM61.56 405.89l2.17 2.17l-2.17 2.17l-2.17 -2.17zM61.56 405.30l2.17 2.17l-2.17 2.17l-2.17 -2.17zM61.57 404.70l2.17 2.17l-2.17 2.17l-2.17 -2.17zM61.57 404.10l2.17 2.17l-2.17 2.17l-2.17 -2.17zM61.57 403.50l2.17 2.17l-2.17 2.17l-2.17 -2.17zM61.57 402.91l2.17 2.17l-2.17 2.17l-2.17 -2.17zM61.58 402.31l2.17 2.17l-2.17 2.17l-2.17 -2.17zM61.58 401.71l2.17 2.17l-2.17 2.17l-2.17 -2.17zM61.58 401.12l2.17 2.17l-2.17 2.17l-2.17 -2.17zM61.59 400.52l2.17 2.17l-2.17 2.17l-2.17 -2.17zM61.59 399.92l2.17 2.17l-2.17 2.17l-2.17 -2.17zM61.59 399.33l2.17 2.17l-2.17 2.17l-2.17 -2.17zM61.60 398.73l2.17 2.17l-2.17 2.17l-2.17 -2.17zM61.60 398.13l2.17 2.17l-2.17 2.17l-2.17 -2.17zM61.60 397.53l2.17 2.17l-2.17 2.17l-2.17 -2.17zM61.60 396.94l2.17 2.17l-2.17 2.17l-2.17 -2.17zM61.61 396.34l2.17 2.17l-2.17 2.17l-2.17 -2.17zM61.61 395.74l2.17 2.17l-2.17 2.17l-2.17 -2.17zM61.61 395.15l2.17 2.17l-2.17 2.17l-2.17 -2.17zM61.62 394.55l2.17 2.17l-2.17 2.17l-2.17 -2.17zM61.62 393.95l2.17 2.17l-2.17 2.17l-2.17 -2.17zM61.62 393.35l2.17 2.17l-2.17 2.17l-2.17 -2.17zM61.63 392.76l2.17 2.17l-2.17 2.17l-2.17 -2.17zM61.63 392.16l2.17 2.17l-2.17 2.17l-2.17 -2.17zM61.63 391.56l2.17 2.17l-2.17 2.17l-2.17 -2.17zM61.63 390.97l2.17 2.17l-2.17 2.17l-2.17 -2.17zM61.64 390.37l2.17 2.17l-2.17 2.17l-2.17 -2.17zM61.64 389.77l2.17 2.17l-2.17 2.17l-2.17 -2.17zM61.64 389.18l2.17 2.17l-2.17 2.17l-2.17 -2.17zM61.65 388.58l2.17 2.17l-2.17 2.17l-2.17 -2.17zM61.65 387.98l2.17 2.17l-2.17 2.17l-2.17 -2.17zM61.65 387.38l2.17 2.17l-2.17 2.17l-2.17 -2.17zM61.66 386.79l2.17 2.17l-2.17 2.17l-2.17 -2.17zM61.66 386.19l2.17 2.17l-2.17 2.17l-2.17 -2.17zM61.66 385.59l2.17 2.17l-2.17 2.17l-2.17 -2.17zM61.66 385.00l2.17 2.17l-2.17 2.17l-2.17 -2.17zM61.67 384.40l2.17 2.17l-2.17 2.17l-2.17 -2.17zM61.67 383.80l2.17 2.17l-2.17 2.17l-2.17 -2.17zM61.67 383.21l2.17 2.17l-2.17 2.17l-2.17 -2.17zM61.68 382.61l2.17 2.17l-2.17 2.17l-2.17 -2.17zM61.68 382.01l2.17 2.17l-2.17 2.17l-2.17 -2.17zM61.68 381.41l2.17 2.17l-2.17 2.17l-2.17 -2.17zM61.69 380.82l2.17 2.17l-2.17 2.17l-2.17 -2.17zM61.69 380.22l2.17 2.17l-2.17 2.17l-2.17 -2.17zM61.69 379.62l2.17 2.17l-2.17 2.17l-2.17 -2.17zM61.69 379.03l2.17 2.17l-2.17 2.17l-2.17 -2.17zM61.70 378.43l2.17 2.17l-2.17 2.17l-2.17 -2.17zM61.70 377.83l2.17 2.17l-2.17 2.17l-2.17 -2.17zM61.71 377.24l2.17 2.17l-2.17 2.17l-2.17 -2.17zM61.73 376.66l2.17 2.17l-2.17 2.17l-2.17 -2.17zM61.74 376.07l2.17 2.17l-2.17 2.17l-2.17 -2.17zM61.76 375.48l2.17 2.17l-2.17 2.17l-2.17 -2.17zM61.77 374.89l2.17 2.17l-2.17 2.17l-2.17 -2.17zM61.79 374.30l2.17 2.17l-2.17 2.17l-2.17 -2.17zM61.80 373.71l2.17 2.17l-2.17 2.17l-2.17 -2.17zM61.82 373.13l2.17 2.17l-2.17 2.17l-2.17 -2.17zM61.83 372.54l2.17 2.17l-2.17 2.17l-2.17 -2.17zM61.85 371.95l2.17 2.17l-2.17 2.17l-2.17 -2.17zM61.86 371.36l2.17 2.17l-2.17 2.17l-2.17 -2.17zM61.88 370.77l2.17 2.17l-2.17 2.17l-2.17 -2.17zM61.89 370.19l2.17 2.17l-2.17 2.17l-2.17 -2.17zM61.91 369.60l2.17 2.17l-2.17 2.17l-2.17 -2.17zM61.92 369.01l2.17 2.17l-2.17 2.17l-2.17 -2.17zM61.94 368.42l2.17 2.17l-2.17 2.17l-2.17 -2.17zM61.95 367.83l2.17 2.17l-2.17 2.17l-2.17 -2.17zM61.96 367.24l2.17 2.17l-2.17 2.17l-2.17 -2.17zM61.98 366.66l2.17 2.17l-2.17 2.17l-2.17 -2.17zM61.99 366.07l2.17 2.17l-2.17 2.17l-2.17 -2.17zM62.01 365.48l2.17 2.17l-2.17 2.17l-2.17 -2.17zM62.02 364.89l2.17 2.17l-2.17 2.17l-2.17 -2.17zM62.04 364.30l2.17 2.17l-2.17 2.17l-2.17 -2.17zM62.05 363.71l2.17 2.17l-2.17 2.17l-2.17 -2.17zM62.07 363.13l2.17 2.17l-2.17 2.17l-2.17 -2.17zM62.08 362.54l2.17 2.17l-2.17 2.17l-2.17 -2.17zM62.10 361.95l2.17 2.17l-2.17 2.17l-2.17 -2.17zM62.11 361.36l2.17 2.17l-2.17 2.17l-2.17 -2.17zM62.13 360.77l2.17 2.17l-2.17 2.17l-2.17 -2.17zM62.14 360.19l2.17 2.17l-2.17 2.17l-2.17 -2.17zM62.16 359.60l2.17 2.17l-2.17 2.17l-2.17 -2.17zM62.17 359.01l2.17 2.17l-2.17 2.17l-2.17 -2.17zM62.19 358.42l2.17 2.17l-2.17 2.17l-2.17 -2.17zM62.20 357.83l2.17 2.17l-2.17 2.17l-2.17 -2.17zM62.24 357.24l2.17 2.17l-2.17 2.17l-2.17 -2.17zM62.28 356.65l2.17 2.17l-2.17 2.17l-2.17 -2.17zM62.32 356.07l2.17 2.17l-2.17 2.17l-2.17 -2.17zM62.36 355.48l2.17 2.17l-2.17 2.17l-2.17 -2.17zM62.39 354.89l2.17 2.17l-2.17 2.17l-2.17 -2.17zM62.43 354.30l2.17 2.17l-2.17 2.17l-2.17 -2.17zM62.47 353.71l2.17 2.17l-2.17 2.17l-2.17 -2.17zM62.51 353.12l2.17 2.17l-2.17 2.17l-2.17 -2.17zM62.55 352.53l2.17 2.17l-2.17 2.17l-2.17 -2.17zM62.59 351.94l2.17 2.17l-2.17 2.17l-2.17 -2.17zM62.63 351.35l2.17 2.17l-2.17 2.17l-2.17 -2.17zM62.67 350.77l2.17 2.17l-2.17 2.17l-2.17 -2.17zM62.71 350.18l2.17 2.17l-2.17 2.17l-2.17 -2.17zM62.74 349.59l2.17 2.17l-2.17 2.17l-2.17 -2.17zM62.78 349.00l2.17 2.17l-2.17 2.17l-2.17 -2.17zM62.82 348.41l2.17 2.17l-2.17 2.17l-2.17 -2.17zM62.86 347.82l2.17 2.17l-2.17 2.17l-2.17 -2.17zM62.90 347.23l2.17 2.17l-2.17 2.17l-2.17 -2.17zM62.96 346.65l2.17 2.17l-2.17 2.17l-2.17 -2.17zM63.01 346.07l2.17 2.17l-2.17 2.17l-2.17 -2.17zM63.07 345.49l2.17 2.17l-2.17 2.17l-2.17 -2.17zM63.12 344.91l2.17 2.17l-2.17 2.17l-2.17 -2.17zM63.18 344.33l2.17 2.17l-2.17 2.17l-2.17 -2.17zM63.23 343.75l2.17 2.17l-2.17 2.17l-2.17 -2.17zM63.29 343.17l2.17 2.17l-2.17 2.17l-2.17 -2.17zM63.34 342.59l2.17 2.17l-2.17 2.17l-2.17 -2.17zM63.40 342.01l2.17 2.17l-2.17 2.17l-2.17 -2.17zM63.45 341.43l2.17 2.17l-2.17 2.17l-2.17 -2.17zM63.51 340.85l2.17 2.17l-2.17 2.17l-2.17 -2.17zM63.56 340.27l2.17 2.17l-2.17 2.17l-2.17 -2.17zM63.62 339.69l2.17 2.17l-2.17 2.17l-2.17 -2.17zM63.67 339.11l2.17 2.17l-2.17 2.17l-2.17 -2.17zM63.73 338.53l2.17 2.17l-2.17 2.17l-2.17 -2.17zM63.78 337.95l2.17 2.17l-2.17 2.17l-2.17 -2.17zM63.84 337.37l2.17 2.17l-2.17 2.17l-2.17 -2.17zM63.89 336.79l2.17 2.17l-2.17 2.17l-2.17 -2.17zM63.95 336.21l2.17 2.17l-2.17 2.17l-2.17 -2.17zM64.00 335.63l2.17 2.17l-2.17 2.17l-2.17 -2.17zM64.08 335.04l2.17 2.17l-2.17 2.17l-2.17 -2.17zM64.15 334.46l2.17 2.17l-2.17 2.17l-2.17 -2.17zM64.23 333.87l2.17 2.17l-2.17 2.17l-2.17 -2.17zM64.31 333.28l2.17 2.17l-2.17 2.17l-2.17 -2.17zM64.38 332.69l2.17 2.17l-2.17 2.17l-2.17 -2.17zM64.46 332.10l2.17 2.17l-2.17 2.17l-2.17 -2.17zM64.54 331.51l2.17 2.17l-2.17 2.17l-2.17 -2.17zM64.61 330.93l2.17 2.17l-2.17 2.17l-2.17 -2.17zM64.69 330.34l2.17 2.17l-2.17 2.17l-2.17 -2.17zM64.76 329.75l2.17 2.17l-2.17 2.17l-2.17 -2.17zM64.84 329.16l2.17 2.17l-2.17 2.17l-2.17 -2.17zM64.92 328.57l2.17 2.17l-2.17 2.17l-2.17 -2.17zM64.99 327.99l2.17 2.17l-2.17 2.17l-2.17 -2.17zM65.07 327.40l2.17 2.17l-2.17 2.17l-2.17 -2.17zM65.15 326.81l2.17 2.17l-2.17 2.17l-2.17 -2.17zM65.22 326.22l2.17 2.17l-2.17 2.17l-2.17 -2.17zM65.30 325.63l2.17 2.17l-2.17 2.17l-2.17 -2.17zM65.44 325.04l2.17 2.17l-2.17 2.17l-2.17 -2.17zM65.59 324.45l2.17 2.17l-2.17 2.17l-2.17 -2.17zM65.73 323.87l2.17 2.17l-2.17 2.17l-2.17 -2.17zM65.88 323.28l2.17 2.17l-2.17 2.17l-2.17 -2.17zM66.02 322.69l2.17 2.17l-2.17 2.17l-2.17 -2.17zM66.17 322.10l2.17 2.17l-2.17 2.17l-2.17 -2.17zM66.31 321.51l2.17 2.17l-2.17 2.17l-2.17 -2.17zM66.46 320.92l2.17 2.17l-2.17 2.17l-2.17 -2.17zM66.60 320.33l2.17 2.17l-2.17 2.17l-2.17 -2.17zM66.80 319.74l2.17 2.17l-2.17 2.17l-2.17 -2.17zM67.00 319.15l2.17 2.17l-2.17 2.17l-2.17 -2.17zM67.20 318.57l2.17 2.17l-2.17 2.17l-2.17 -2.17zM67.40 317.98l2.17 2.17l-2.17 2.17l-2.17 -2.17zM67.60 317.39l2.17 2.17l-2.17 2.17l-2.17 -2.17zM67.80 316.80l2.17 2.17l-2.17 2.17l-2.17 -2.17zM68.00 316.21l2.17 2.17l-2.17 2.17l-2.17 -2.17zM68.20 315.62l2.17 2.17l-2.17 2.17l-2.17 -2.17zM68.40 315.03l2.17 2.17l-2.17 2.17l-2.17 -2.17zM68.80 314.48l2.17 2.17l-2.17 2.17l-2.17 -2.17zM69.20 313.92l2.17 2.17l-2.17 2.17l-2.17 -2.17zM69.60 313.36l2.17 2.17l-2.17 2.17l-2.17 -2.17zM70.00 312.80l2.17 2.17l-2.17 2.17l-2.17 -2.17zM70.40 312.25l2.17 2.17l-2.17 2.17l-2.17 -2.17zM70.80 311.69l2.17 2.17l-2.17 2.17l-2.17 -2.17zM71.20 311.13l2.17 2.17l-2.17 2.17l-2.17 -2.17zM71.77 310.82l2.17 2.17l-2.17 2.17l-2.17 -2.17zM72.33 310.50l2.17 2.17l-2.17 2.17l-2.17 -2.17zM72.90 310.18l2.17 2.17l-2.17 2.17l-2.17 -2.17zM73.47 309.87l2.17 2.17l-2.17 2.17l-2.17 -2.17zM74.03 309.55l2.17 2.17l-2.17 2.17l-2.17 -2.17zM74.60 309.23l2.17 2.17l-2.17 2.17l-2.17 -2.17zM75.20 309.09l2.17 2.17l-2.17 2.17l-2.17 -2.17zM75.80 308.95l2.17 2.17l-2.17 2.17l-2.17 -2.17zM76.40 308.80l2.17 2.17l-2.17 2.17l-2.17 -2.17zM77.00 308.66l2.17 2.17l-2.17 2.17l-2.17 -2.17zM77.60 308.52l2.17 2.17l-2.17 2.17l-2.17 -2.17zM78.20 308.38l2.17 2.17l-2.17 2.17l-2.17 -2.17zM78.80 308.23l2.17 2.17l-2.17 2.17l-2.17 -2.17zM79.34 308.19l2.17 2.17l-2.17 2.17l-2.17 -2.17zM79.89 308.14l2.17 2.17l-2.17 2.17l-2.17 -2.17zM80.43 308.10l2.17 2.17l-2.17 2.17l-2.17 -2.17zM80.98 308.05l2.17 2.17l-2.17 2.17l-2.17 -2.17zM81.52 308.01l2.17 2.17l-2.17 2.17l-2.17 -2.17zM82.07 307.97l2.17 2.17l-2.17 2.17l-2.17 -2.17zM82.61 307.92l2.17 2.17l-2.17 2.17l-2.17 -2.17zM83.16 307.88l2.17 2.17l-2.17 2.17l-2.17 -2.17zM83.70 307.83l2.17 2.17l-2.17 2.17l-2.17 -2.17zM105.70 307.25l2.55 2.55l-2.55 2.55l-2.55 -2.55zM112.50 306.75l2.55 2.55l-2.55 2.55l-2.55 -2.55z" fill="none" stroke="#FF0000" stroke-width="1.4" stroke-linejoin="miter"/>
<path d="M59.25 476.05h3.91v3.91h-3.91zM59.25 475.45h3.91v3.91h-3.91zM59.26 474.86h3.91v3.91h-3.91zM59.27 474.26h3.91v3.91h-3.91zM59.28 473.67h3.91v3.91h-3.91zM59.29 473.08h3.91v3.91h-3.91zM59.30 472.48h3.91v3.91h-3.91zM59.31 471.89h3.91v3.91h-3.91zM59.32 471.30h3.91v3.91h-3.91zM59.33 470.70h3.91v3.91h-3.91zM59.34 470.11h3.91v3.91h-3.91zM59.35 469.51h3.91v3.91h-3.91zM59.36 468.92h3.91v3.91h-3.91zM59.37 468.33h3.91v3.91h-3.91zM59.38 467.73h3.91v3.91h-3.91zM59.39 467.14h3.91v3.91h-3.91zM59.40 466.55h3.91v3.91h-3.91zM59.40 465.95h3.91v3.91h-3.91zM59.41 465.36h3.91v3.91h-3.91zM59.42 464.76h3.91v3.91h-3.91zM59.43 464.17h3.91v3.91h-3.91zM59.44 463.58h3.91v3.91h-3.91zM59.45 462.98h3.91v3.91h-3.91zM59.46 462.39h3.91v3.91h-3.91zM59.47 461.80h3.91v3.91h-3.91zM59.48 461.20h3.91v3.91h-3.91zM59.49 460.61h3.91v3.91h-3.91zM59.50 460.01h3.91v3.91h-3.91zM59.51 459.42h3.91v3.91h-3.91zM59.52 458.83h3.91v3.91h-3.91zM59.53 458.23h3.91v3.91h-3.91zM59.54 457.64h3.91v3.91h-3.91zM59.55 457.05h3.91v3.91h-3.91zM59.55 456.45h3.91v3.91h-3.91zM59.56 455.86h3.91v3.91h-3.91zM59.57 455.26h3.91v3.91h-3.91zM59.58 454.67h3.91v3.91h-3.91zM59.59 454.08h3.91v3.91h-3.91zM59.60 453.48h3.91v3.91h-3.91zM59.61 452.89h3.91v3.91h-3.91zM59.62 452.30h3.91v3.91h-3.91zM59.63 451.70h3.91v3.91h-3.91zM59.64 451.11h3.91v3.91h-3.91zM59.65 450.51h3.91v3.91h-3.91zM59.66 449.92h3.91v3.91h-3.91zM59.67 449.33h3.91v3.91h-3.91zM59.68 448.73h3.91v3.91h-3.91zM59.69 448.14h3.91v3.91h-3.91zM59.70 447.55h3.91v3.91h-3.91zM59.70 446.95h3.91v3.91h-3.91zM59.71 446.36h3.91v3.91h-3.91zM59.72 445.76h3.91v3.91h-3.91zM59.73 445.17h3.91v3.91h-3.91zM59.74 444.58h3.91v3.91h-3.91zM59.75 443.98h3.91v3.91h-3.91zM59.76 443.39h3.91v3.91h-3.91zM59.77 442.80h3.91v3.91h-3.91zM59.78 442.20h3.91v3.91h-3.91zM59.79 441.61h3.91v3.91h-3.91zM59.80 441.01h3.91v3.91h-3.91zM59.81 440.42h3.91v3.91h-3.91zM59.82 439.83h3.91v3.91h-3.91zM59.83 439.23h3.91v3.91h-3.91zM59.84 438.64h3.91v3.91h-3.91zM59.84 438.05h3.91v3.91h-3.91zM59.85 437.45h3.91v3.91h-3.91zM59.86 436.85h3.91v3.91h-3.91zM59.86 436.25h3.91v3.91h-3.91zM59.87 435.66h3.91v3.91h-3.91zM59.87 435.06h3.91v3.91h-3.91zM59.88 434.46h3.91v3.91h-3.91zM59.89 433.87h3.91v3.91h-3.91zM59.89 433.27h3.91v3.91h-3.91zM59.90 432.67h3.91v3.91h-3.91zM59.90 432.07h3.91v3.91h-3.91zM59.91 431.48h3.91v3.91h-3.91zM59.92 430.88h3.91v3.91h-3.91zM59.92 430.28h3.91v3.91h-3.91zM59.93 429.69h3.91v3.91h-3.91zM59.93 429.09h3.91v3.91h-3.91zM59.94 428.49h3.91v3.91h-3.91zM59.95 427.90h3.91v3.91h-3.91zM59.95 427.30h3.91v3.91h-3.91zM59.96 426.70h3.91v3.91h-3.91zM59.96 426.10h3.91v3.91h-3.91zM59.97 425.51h3.91v3.91h-3.91zM59.98 424.91h3.91v3.91h-3.91zM59.98 424.31h3.91v3.91h-3.91zM59.99 423.72h3.91v3.91h-3.91zM59.99 423.12h3.91v3.91h-3.91zM60.00 422.52h3.91v3.91h-3.91zM60.01 421.93h3.91v3.91h-3.91zM60.01 421.33h3.91v3.91h-3.91zM60.02 420.73h3.91v3.91h-3.91zM60.02 420.13h3.91v3.91h-3.91zM60.03 419.54h3.91v3.91h-3.91zM60.04 418.94h3.91v3.91h-3.91zM60.04 418.34h3.91v3.91h-3.91zM60.05 417.75h3.91v3.91h-3.91zM60.05 417.15h3.91v3.91h-3.91zM60.06 416.55h3.91v3.91h-3.91zM60.07 415.96h3.91v3.91h-3.91zM60.07 415.36h3.91v3.91h-3.91zM60.08 414.76h3.91v3.91h-3.91zM60.08 414.16h3.91v3.91h-3.91zM60.09 413.57h3.91v3.91h-3.91zM60.10 412.97h3.91v3.91h-3.91zM60.10 412.37h3.91v3.91h-3.91zM60.11 411.78h3.91v3.91h-3.91zM60.11 411.18h3.91v3.91h-3.91zM60.12 410.58h3.91v3.91h-3.91zM60.13 409.99h3.91v3.91h-3.91zM60.13 409.39h3.91v3.91h-3.91zM60.14 408.79h3.91v3.91h-3.91zM60.14 408.19h3.91v3.91h-3.91zM60.15 407.60h3.91v3.91h-3.91zM60.16 407.00h3.91v3.91h-3.91zM60.16 406.40h3.91v3.91h-3.91zM60.17 405.81h3.91v3.91h-3.91zM60.17 405.21h3.91v3.91h-3.91zM60.18 404.61h3.91v3.91h-3.91zM60.19 404.02h3.91v3.91h-3.91zM60.19 403.42h3.91v3.91h-3.91zM60.20 402.82h3.91v3.91h-3.91zM60.20 402.22h3.91v3.91h-3.91zM60.21 401.63h3.91v3.91h-3.91zM60.22 401.03h3.91v3.91h-3.91zM60.22 400.43h3.91v3.91h-3.91zM60.23 399.84h3.91v3.91h-3.91zM60.23 399.24h3.91v3.91h-3.91zM60.24 398.64h3.91v3.91h-3.91zM60.25 398.05h3.91v3.91h-3.91zM60.26 397.45h3.91v3.91h-3.91zM60.27 396.86h3.91v3.91h-3.91zM60.29 396.26h3.91v3.91h-3.91zM60.30 395.67h3.91v3.91h-3.91zM60.31 395.07h3.91v3.91h-3.91zM60.33 394.48h3.91v3.91h-3.91zM60.34 393.88h3.91v3.91h-3.91zM60.35 393.29h3.91v3.91h-3.91zM60.37 392.69h3.91v3.91h-3.91zM60.38 392.10h3.91v3.91h-3.91zM60.39 391.50h3.91v3.91h-3.91zM60.41 390.91h3.91v3.91h-3.91zM60.42 390.32h3.91v3.91h-3.91zM60.43 389.72h3.91v3.91h-3.91zM60.45 389.13h3.91v3.91h-3.91zM60.46 388.53h3.91v3.91h-3.91zM60.47 387.94h3.91v3.91h-3.91zM60.49 387.34h3.91v3.91h-3.91zM60.50 386.75h3.91v3.91h-3.91zM60.52 386.15h3.91v3.91h-3.91zM60.53 385.56h3.91v3.91h-3.91zM60.54 384.96h3.91v3.91h-3.91zM60.56 384.37h3.91v3.91h-3.91zM60.57 383.77h3.91v3.91h-3.91zM60.58 383.18h3.91v3.91h-3.91zM60.60 382.59h3.91v3.91h-3.91zM60.61 381.99h3.91v3.91h-3.91zM60.62 381.40h3.91v3.91h-3.91zM60.64 380.80h3.91v3.91h-3.91zM60.65 380.21h3.91v3.91h-3.91zM60.66 379.61h3.91v3.91h-3.91zM60.68 379.02h3.91v3.91h-3.91zM60.69 378.42h3.91v3.91h-3.91zM60.70 377.83h3.91v3.91h-3.91zM60.72 377.23h3.91v3.91h-3.91zM60.73 376.64h3.91v3.91h-3.91zM60.75 376.05h3.91v3.91h-3.91zM60.77 375.44h3.91v3.91h-3.91zM60.79 374.85h3.91v3.91h-3.91zM60.81 374.25h3.91v3.91h-3.91zM60.83 373.65h3.91v3.91h-3.91zM60.85 373.05h3.91v3.91h-3.91zM60.87 372.44h3.91v3.91h-3.91zM60.89 371.85h3.91v3.91h-3.91zM60.91 371.25h3.91v3.91h-3.91zM60.93 370.65h3.91v3.91h-3.91zM60.95 370.05h3.91v3.91h-3.91zM60.97 369.45h3.91v3.91h-3.91zM61.00 368.85h3.91v3.91h-3.91zM61.02 368.25h3.91v3.91h-3.91zM61.04 367.65h3.91v3.91h-3.91zM61.06 367.05h3.91v3.91h-3.91zM61.08 366.45h3.91v3.91h-3.91zM61.10 365.85h3.91v3.91h-3.91zM61.12 365.25h3.91v3.91h-3.91zM61.14 364.65h3.91v3.91h-3.91zM61.16 364.05h3.91v3.91h-3.91zM61.18 363.45h3.91v3.91h-3.91zM61.20 362.85h3.91v3.91h-3.91zM61.22 362.25h3.91v3.91h-3.91zM61.25 361.65h3.91v3.91h-3.91zM61.28 361.06h3.91v3.91h-3.91zM61.31 360.48h3.91v3.91h-3.91zM61.34 359.89h3.91v3.91h-3.91zM61.37 359.31h3.91v3.91h-3.91zM61.41 358.73h3.91v3.91h-3.91zM61.44 358.14h3.91v3.91h-3.91zM61.47 357.56h3.91v3.91h-3.91zM61.50 356.97h3.91v3.91h-3.91zM61.53 356.39h3.91v3.91h-3.91zM61.57 355.81h3.91v3.91h-3.91zM61.60 355.22h3.91v3.91h-3.91zM61.63 354.64h3.91v3.91h-3.91zM61.66 354.05h3.91v3.91h-3.91zM61.69 353.47h3.91v3.91h-3.91zM61.73 352.89h3.91v3.91h-3.91zM61.76 352.30h3.91v3.91h-3.91zM61.79 351.72h3.91v3.91h-3.91zM61.82 351.13h3.91v3.91h-3.91zM61.85 350.55h3.91v3.91h-3.91zM61.89 349.97h3.91v3.91h-3.91zM61.92 349.38h3.91v3.91h-3.91zM61.95 348.80h3.91v3.91h-3.91zM61.98 348.21h3.91v3.91h-3.91zM62.01 347.63h3.91v3.91h-3.91zM62.05 347.05h3.91v3.91h-3.91zM62.11 346.46h3.91v3.91h-3.91zM62.18 345.88h3.91v3.91h-3.91zM62.25 345.30h3.91v3.91h-3.91zM62.31 344.71h3.91v3.91h-3.91zM62.38 344.13h3.91v3.91h-3.91zM62.45 343.55h3.91v3.91h-3.91zM62.51 342.96h3.91v3.91h-3.91zM62.58 342.38h3.91v3.91h-3.91zM62.64 341.80h3.91v3.91h-3.91zM62.71 341.21h3.91v3.91h-3.91zM62.78 340.63h3.91v3.91h-3.91zM62.84 340.05h3.91v3.91h-3.91zM62.96 339.47h3.91v3.91h-3.91zM63.08 338.89h3.91v3.91h-3.91zM63.19 338.31h3.91v3.91h-3.91zM63.31 337.74h3.91v3.91h-3.91zM63.42 337.16h3.91v3.91h-3.91zM63.54 336.58h3.91v3.91h-3.91zM63.65 336.01h3.91v3.91h-3.91zM63.77 335.43h3.91v3.91h-3.91zM63.88 334.85h3.91v3.91h-3.91zM64.00 334.28h3.91v3.91h-3.91zM64.11 333.70h3.91v3.91h-3.91zM64.23 333.12h3.91v3.91h-3.91zM64.34 332.55h3.91v3.91h-3.91zM64.53 331.94h3.91v3.91h-3.91zM64.71 331.35h3.91v3.91h-3.91zM64.89 330.75h3.91v3.91h-3.91zM65.08 330.15h3.91v3.91h-3.91zM65.26 329.55h3.91v3.91h-3.91zM65.45 328.94h3.91v3.91h-3.91zM65.63 328.35h3.91v3.91h-3.91zM65.81 327.75h3.91v3.91h-3.91zM66.00 327.15h3.91v3.91h-3.91zM66.18 326.55h3.91v3.91h-3.91zM66.36 325.95h3.91v3.91h-3.91zM66.55 325.35h3.91v3.91h-3.91zM66.83 324.80h3.91v3.91h-3.91zM67.12 324.26h3.91v3.91h-3.91zM67.40 323.72h3.91v3.91h-3.91zM67.69 323.17h3.91v3.91h-3.91zM67.97 322.63h3.91v3.91h-3.91zM68.26 322.09h3.91v3.91h-3.91zM68.55 321.55h3.91v3.91h-3.91zM69.00 321.05h3.91v3.91h-3.91zM69.47 320.55h3.91v3.91h-3.91zM69.92 320.05h3.91v3.91h-3.91zM70.39 319.55h3.91v3.91h-3.91zM70.84 319.05h3.91v3.91h-3.91zM71.25 318.55h3.91v3.91h-3.91zM71.64 318.05h3.91v3.91h-3.91zM72.05 317.55h3.91v3.91h-3.91zM72.44 317.05h3.91v3.91h-3.91zM72.84 316.55h3.91v3.91h-3.91zM73.20 316.05h3.91v3.91h-3.91zM73.56 315.55h3.91v3.91h-3.91zM73.92 315.05h3.91v3.91h-3.91zM74.28 314.55h3.91v3.91h-3.91zM74.64 314.05h3.91v3.91h-3.91zM75.12 313.61h3.91v3.91h-3.91zM75.61 313.17h3.91v3.91h-3.91zM76.08 312.73h3.91v3.91h-3.91zM76.56 312.29h3.91v3.91h-3.91zM77.05 311.85h3.91v3.91h-3.91zM77.64 311.55h3.91v3.91h-3.91zM78.25 311.25h3.91v3.91h-3.91zM78.84 310.95h3.91v3.91h-3.91zM79.45 310.65h3.91v3.91h-3.91zM80.05 310.35h3.91v3.91h-3.91zM80.64 310.19h3.91v3.91h-3.91zM81.25 310.03h3.91v3.91h-3.91zM81.84 309.87h3.91v3.91h-3.91zM82.45 309.71h3.91v3.91h-3.91zM83.05 309.55h3.91v3.91h-3.91zM87.80 308.20h4.60v4.60h-4.60zM92.00 307.70h4.60v4.60h-4.60zM116.90 307.00h4.60v4.60h-4.60z" fill="none" stroke="#7030A0" stroke-width="1.4" stroke-linejoin="miter"/>
<path d="M282.85 477.00a2.35 2.35 0 1 0 4.70 0a2.35 2.35 0 1 0 -4.70 0zM282.89 473.00a2.35 2.35 0 1 0 4.70 0a2.35 2.35 0 1 0 -4.70 0zM282.93 469.00a2.35 2.35 0 1 0 4.70 0a2.35 2.35 0 1 0 -4.70 0zM282.97 465.00a2.35 2.35 0 1 0 4.70 0a2.35 2.35 0 1 0 -4.70 0zM283.01 461.00a2.35 2.35 0 1 0 4.70 0a2.35 2.35 0 1 0 -4.70 0zM283.05 457.00a2.35 2.35 0 1 0 4.70 0a2.35 2.35 0 1 0 -4.70 0zM283.12 452.75a2.35 2.35 0 1 0 4.70 0a2.35 2.35 0 1 0 -4.70 0zM283.20 448.50a2.35 2.35 0 1 0 4.70 0a2.35 2.35 0 1 0 -4.70 0zM283.27 444.25a2.35 2.35 0 1 0 4.70 0a2.35 2.35 0 1 0 -4.70 0zM283.35 440.00a2.35 2.35 0 1 0 4.70 0a2.35 2.35 0 1 0 -4.70 0zM283.39 436.00a2.35 2.35 0 1 0 4.70 0a2.35 2.35 0 1 0 -4.70 0zM283.44 432.00a2.35 2.35 0 1 0 4.70 0a2.35 2.35 0 1 0 -4.70 0zM283.48 428.00a2.35 2.35 0 1 0 4.70 0a2.35 2.35 0 1 0 -4.70 0zM283.52 424.00a2.35 2.35 0 1 0 4.70 0a2.35 2.35 0 1 0 -4.70 0zM283.56 420.00a2.35 2.35 0 1 0 4.70 0a2.35 2.35 0 1 0 -4.70 0zM283.61 416.00a2.35 2.35 0 1 0 4.70 0a2.35 2.35 0 1 0 -4.70 0zM283.65 412.00a2.35 2.35 0 1 0 4.70 0a2.35 2.35 0 1 0 -4.70 0zM283.72 408.17a2.35 2.35 0 1 0 4.70 0a2.35 2.35 0 1 0 -4.70 0zM283.78 404.33a2.35 2.35 0 1 0 4.70 0a2.35 2.35 0 1 0 -4.70 0zM283.85 400.50a2.35 2.35 0 1 0 4.70 0a2.35 2.35 0 1 0 -4.70 0zM283.92 396.67a2.35 2.35 0 1 0 4.70 0a2.35 2.35 0 1 0 -4.70 0zM283.98 392.83a2.35 2.35 0 1 0 4.70 0a2.35 2.35 0 1 0 -4.70 0zM284.05 389.00a2.35 2.35 0 1 0 4.70 0a2.35 2.35 0 1 0 -4.70 0zM284.32 385.67a2.35 2.35 0 1 0 4.70 0a2.35 2.35 0 1 0 -4.70 0zM284.58 382.33a2.35 2.35 0 1 0 4.70 0a2.35 2.35 0 1 0 -4.70 0zM284.85 379.00a2.35 2.35 0 1 0 4.70 0a2.35 2.35 0 1 0 -4.70 0zM285.32 375.40a2.35 2.35 0 1 0 4.70 0a2.35 2.35 0 1 0 -4.70 0zM285.78 371.80a2.35 2.35 0 1 0 4.70 0a2.35 2.35 0 1 0 -4.70 0zM286.25 368.20a2.35 2.35 0 1 0 4.70 0a2.35 2.35 0 1 0 -4.70 0zM286.75 364.57a2.35 2.35 0 1 0 4.70 0a2.35 2.35 0 1 0 -4.70 0zM287.25 360.93a2.35 2.35 0 1 0 4.70 0a2.35 2.35 0 1 0 -4.70 0zM287.75 357.30a2.35 2.35 0 1 0 4.70 0a2.35 2.35 0 1 0 -4.70 0zM288.28 353.67a2.35 2.35 0 1 0 4.70 0a2.35 2.35 0 1 0 -4.70 0zM288.82 350.03a2.35 2.35 0 1 0 4.70 0a2.35 2.35 0 1 0 -4.70 0zM289.35 346.40a2.35 2.35 0 1 0 4.70 0a2.35 2.35 0 1 0 -4.70 0zM290.08 342.77a2.35 2.35 0 1 0 4.70 0a2.35 2.35 0 1 0 -4.70 0zM290.82 339.13a2.35 2.35 0 1 0 4.70 0a2.35 2.35 0 1 0 -4.70 0zM291.55 335.50a2.35 2.35 0 1 0 4.70 0a2.35 2.35 0 1 0 -4.70 0zM292.90 332.25a2.35 2.35 0 1 0 4.70 0a2.35 2.35 0 1 0 -4.70 0zM294.25 329.00a2.35 2.35 0 1 0 4.70 0a2.35 2.35 0 1 0 -4.70 0zM295.15 325.20a2.35 2.35 0 1 0 4.70 0a2.35 2.35 0 1 0 -4.70 0zM296.05 322.10a2.35 2.35 0 1 0 4.70 0a2.35 2.35 0 1 0 -4.70 0zM300.45 314.50a2.35 2.35 0 1 0 4.70 0a2.35 2.35 0 1 0 -4.70 0zM303.65 312.60a2.35 2.35 0 1 0 4.70 0a2.35 2.35 0 1 0 -4.70 0zM306.15 310.10a2.35 2.35 0 1 0 4.70 0a2.35 2.35 0 1 0 -4.70 0z" fill="none" stroke="#4472C4" stroke-width="1.4" stroke-linejoin="miter"/>
<path d="M284.80 475.52l2.30 4.14h-4.60zM284.82 475.02l2.30 4.14h-4.60zM284.83 474.53l2.30 4.14h-4.60zM284.85 474.03l2.30 4.14h-4.60zM284.87 473.54l2.30 4.14h-4.60zM284.89 473.04l2.30 4.14h-4.60zM284.90 472.55l2.30 4.14h-4.60zM284.92 472.05l2.30 4.14h-4.60zM284.94 471.56l2.30 4.14h-4.60zM284.95 471.06l2.30 4.14h-4.60zM284.97 470.56l2.30 4.14h-4.60zM284.99 470.07l2.30 4.14h-4.60zM285.00 469.57l2.30 4.14h-4.60zM285.02 469.08l2.30 4.14h-4.60zM285.04 468.58l2.30 4.14h-4.60zM285.06 468.09l2.30 4.14h-4.60zM285.07 467.59l2.30 4.14h-4.60zM285.09 467.10l2.30 4.14h-4.60zM285.11 466.60l2.30 4.14h-4.60zM285.12 466.11l2.30 4.14h-4.60zM285.14 465.61l2.30 4.14h-4.60zM285.16 465.12l2.30 4.14h-4.60zM285.18 464.62l2.30 4.14h-4.60zM285.19 464.13l2.30 4.14h-4.60zM285.21 463.63l2.30 4.14h-4.60zM285.23 463.14l2.30 4.14h-4.60zM285.24 462.64l2.30 4.14h-4.60zM285.26 462.15l2.30 4.14h-4.60zM285.28 461.65l2.30 4.14h-4.60zM285.30 461.16l2.30 4.14h-4.60zM285.31 460.66l2.30 4.14h-4.60zM285.33 460.17l2.30 4.14h-4.60zM285.35 459.67l2.30 4.14h-4.60zM285.36 459.18l2.30 4.14h-4.60zM285.38 458.68l2.30 4.14h-4.60zM285.40 458.19l2.30 4.14h-4.60zM285.41 457.69l2.30 4.14h-4.60zM285.43 457.20l2.30 4.14h-4.60zM285.45 456.70l2.30 4.14h-4.60zM285.47 456.21l2.30 4.14h-4.60zM285.48 455.71l2.30 4.14h-4.60zM285.50 455.22l2.30 4.14h-4.60zM285.51 454.72l2.30 4.14h-4.60zM285.53 454.23l2.30 4.14h-4.60zM285.54 453.74l2.30 4.14h-4.60zM285.55 453.25l2.30 4.14h-4.60zM285.57 452.76l2.30 4.14h-4.60zM285.58 452.26l2.30 4.14h-4.60zM285.59 451.77l2.30 4.14h-4.60zM285.61 451.28l2.30 4.14h-4.60zM285.62 450.79l2.30 4.14h-4.60zM285.64 450.30l2.30 4.14h-4.60zM285.65 449.81l2.30 4.14h-4.60zM285.66 449.31l2.30 4.14h-4.60zM285.68 448.82l2.30 4.14h-4.60zM285.69 448.33l2.30 4.14h-4.60zM285.70 447.84l2.30 4.14h-4.60zM285.72 447.35l2.30 4.14h-4.60zM285.73 446.85l2.30 4.14h-4.60zM285.74 446.36l2.30 4.14h-4.60zM285.76 445.87l2.30 4.14h-4.60zM285.77 445.38l2.30 4.14h-4.60zM285.78 444.89l2.30 4.14h-4.60zM285.80 444.39l2.30 4.14h-4.60zM285.81 443.90l2.30 4.14h-4.60zM285.82 443.41l2.30 4.14h-4.60zM285.84 442.92l2.30 4.14h-4.60zM285.85 442.43l2.30 4.14h-4.60zM285.86 441.93l2.30 4.14h-4.60zM285.88 441.44l2.30 4.14h-4.60zM285.89 440.95l2.30 4.14h-4.60zM285.91 440.46l2.30 4.14h-4.60zM285.92 439.97l2.30 4.14h-4.60zM285.93 439.48l2.30 4.14h-4.60zM285.95 438.98l2.30 4.14h-4.60zM285.96 438.49l2.30 4.14h-4.60zM285.97 438.00l2.30 4.14h-4.60zM285.99 437.51l2.30 4.14h-4.60zM286.00 437.02l2.30 4.14h-4.60zM286.02 436.52l2.30 4.14h-4.60zM286.03 436.03l2.30 4.14h-4.60zM286.05 435.53l2.30 4.14h-4.60zM286.07 435.04l2.30 4.14h-4.60zM286.08 434.54l2.30 4.14h-4.60zM286.10 434.05l2.30 4.14h-4.60zM286.11 433.55l2.30 4.14h-4.60zM286.13 433.06l2.30 4.14h-4.60zM286.15 432.57l2.30 4.14h-4.60zM286.16 432.07l2.30 4.14h-4.60zM286.18 431.58l2.30 4.14h-4.60zM286.20 431.08l2.30 4.14h-4.60zM286.21 430.59l2.30 4.14h-4.60zM286.23 430.09l2.30 4.14h-4.60zM286.25 429.60l2.30 4.14h-4.60zM286.26 429.10l2.30 4.14h-4.60zM286.28 428.61l2.30 4.14h-4.60zM286.29 428.11l2.30 4.14h-4.60zM286.31 427.62l2.30 4.14h-4.60zM286.33 427.13l2.30 4.14h-4.60zM286.34 426.63l2.30 4.14h-4.60zM286.36 426.14l2.30 4.14h-4.60zM286.38 425.64l2.30 4.14h-4.60zM286.39 425.15l2.30 4.14h-4.60zM286.41 424.65l2.30 4.14h-4.60zM286.43 424.16l2.30 4.14h-4.60zM286.44 423.66l2.30 4.14h-4.60zM286.46 423.17l2.30 4.14h-4.60zM286.47 422.67l2.30 4.14h-4.60zM286.49 422.18l2.30 4.14h-4.60zM286.51 421.69l2.30 4.14h-4.60zM286.52 421.19l2.30 4.14h-4.60zM286.54 420.70l2.30 4.14h-4.60zM286.56 420.20l2.30 4.14h-4.60zM286.57 419.71l2.30 4.14h-4.60zM286.59 419.21l2.30 4.14h-4.60zM286.61 418.72l2.30 4.14h-4.60zM286.62 418.22l2.30 4.14h-4.60zM286.64 417.73l2.30 4.14h-4.60zM286.65 417.23l2.30 4.14h-4.60zM286.67 416.74l2.30 4.14h-4.60zM286.69 416.25l2.30 4.14h-4.60zM286.70 415.75l2.30 4.14h-4.60zM286.72 415.26l2.30 4.14h-4.60zM286.74 414.76l2.30 4.14h-4.60zM286.75 414.27l2.30 4.14h-4.60zM286.77 413.77l2.30 4.14h-4.60zM286.79 413.28l2.30 4.14h-4.60zM286.80 412.78l2.30 4.14h-4.60zM286.82 412.29l2.30 4.14h-4.60zM286.83 411.79l2.30 4.14h-4.60zM286.85 411.30l2.30 4.14h-4.60zM286.87 410.81l2.30 4.14h-4.60zM286.88 410.31l2.30 4.14h-4.60zM286.90 409.82l2.30 4.14h-4.60zM286.93 409.32l2.30 4.14h-4.60zM286.97 408.82l2.30 4.14h-4.60zM287.00 408.33l2.30 4.14h-4.60zM287.03 407.83l2.30 4.14h-4.60zM287.06 407.33l2.30 4.14h-4.60zM287.10 406.84l2.30 4.14h-4.60zM287.13 406.34l2.30 4.14h-4.60zM287.16 405.85l2.30 4.14h-4.60zM287.19 405.35l2.30 4.14h-4.60zM287.23 404.85l2.30 4.14h-4.60zM287.26 404.36l2.30 4.14h-4.60zM287.29 403.86l2.30 4.14h-4.60zM287.33 403.36l2.30 4.14h-4.60zM287.36 402.87l2.30 4.14h-4.60zM287.39 402.37l2.30 4.14h-4.60zM287.42 401.87l2.30 4.14h-4.60zM287.46 401.38l2.30 4.14h-4.60zM287.49 400.88l2.30 4.14h-4.60zM287.52 400.39l2.30 4.14h-4.60zM287.55 399.89l2.30 4.14h-4.60zM287.59 399.39l2.30 4.14h-4.60zM287.62 398.90l2.30 4.14h-4.60zM287.65 398.40l2.30 4.14h-4.60zM287.69 397.90l2.30 4.14h-4.60zM287.72 397.41l2.30 4.14h-4.60zM287.75 396.91l2.30 4.14h-4.60zM287.78 396.41l2.30 4.14h-4.60zM287.82 395.92l2.30 4.14h-4.60zM287.85 395.42l2.30 4.14h-4.60zM287.88 394.93l2.30 4.14h-4.60zM287.91 394.43l2.30 4.14h-4.60zM287.95 393.93l2.30 4.14h-4.60zM287.98 393.44l2.30 4.14h-4.60zM288.01 392.94l2.30 4.14h-4.60zM288.05 392.44l2.30 4.14h-4.60zM288.08 391.95l2.30 4.14h-4.60zM288.11 391.45l2.30 4.14h-4.60zM288.14 390.95l2.30 4.14h-4.60zM288.18 390.46l2.30 4.14h-4.60zM288.21 389.96l2.30 4.14h-4.60zM288.24 389.47l2.30 4.14h-4.60zM288.27 388.97l2.30 4.14h-4.60zM288.31 388.47l2.30 4.14h-4.60zM288.34 387.98l2.30 4.14h-4.60zM288.37 387.48l2.30 4.14h-4.60zM288.41 386.98l2.30 4.14h-4.60zM288.44 386.49l2.30 4.14h-4.60zM288.47 385.99l2.30 4.14h-4.60zM288.50 385.49l2.30 4.14h-4.60zM288.54 385.00l2.30 4.14h-4.60zM288.57 384.50l2.30 4.14h-4.60zM288.60 384.01l2.30 4.14h-4.60zM288.63 383.51l2.30 4.14h-4.60zM288.67 383.01l2.30 4.14h-4.60zM288.70 382.52l2.30 4.14h-4.60zM288.82 382.02l2.30 4.14h-4.60zM288.93 381.53l2.30 4.14h-4.60zM289.05 381.04l2.30 4.14h-4.60zM289.17 380.55l2.30 4.14h-4.60zM289.28 380.06l2.30 4.14h-4.60zM289.40 379.57l2.30 4.14h-4.60zM289.52 379.07l2.30 4.14h-4.60zM289.63 378.58l2.30 4.14h-4.60zM289.75 378.09l2.30 4.14h-4.60zM289.87 377.60l2.30 4.14h-4.60zM289.98 377.11l2.30 4.14h-4.60zM290.10 376.62l2.30 4.14h-4.60zM290.19 376.12l2.30 4.14h-4.60zM290.27 375.63l2.30 4.14h-4.60zM290.36 375.13l2.30 4.14h-4.60zM290.45 374.63l2.30 4.14h-4.60zM290.53 374.14l2.30 4.14h-4.60zM290.62 373.64l2.30 4.14h-4.60zM290.70 373.15l2.30 4.14h-4.60zM290.79 372.65l2.30 4.14h-4.60zM290.88 372.16l2.30 4.14h-4.60zM290.96 371.66l2.30 4.14h-4.60zM291.05 371.17l2.30 4.14h-4.60zM291.14 370.67l2.30 4.14h-4.60zM291.22 370.18l2.30 4.14h-4.60zM291.31 369.68l2.30 4.14h-4.60zM291.40 369.18l2.30 4.14h-4.60zM291.48 368.69l2.30 4.14h-4.60zM291.57 368.19l2.30 4.14h-4.60zM291.65 367.70l2.30 4.14h-4.60zM291.74 367.20l2.30 4.14h-4.60zM291.83 366.71l2.30 4.14h-4.60zM291.91 366.21l2.30 4.14h-4.60zM292.00 365.72l2.30 4.14h-4.60zM292.11 365.22l2.30 4.14h-4.60zM292.23 364.73l2.30 4.14h-4.60zM292.34 364.23l2.30 4.14h-4.60zM292.45 363.73l2.30 4.14h-4.60zM292.57 363.24l2.30 4.14h-4.60zM292.68 362.74l2.30 4.14h-4.60zM292.80 362.25l2.30 4.14h-4.60zM292.91 361.75l2.30 4.14h-4.60zM293.02 361.26l2.30 4.14h-4.60zM293.14 360.76l2.30 4.14h-4.60zM293.25 360.27l2.30 4.14h-4.60zM293.36 359.77l2.30 4.14h-4.60zM293.48 359.28l2.30 4.14h-4.60zM293.59 358.78l2.30 4.14h-4.60zM293.70 358.28l2.30 4.14h-4.60zM293.82 357.79l2.30 4.14h-4.60zM293.93 357.29l2.30 4.14h-4.60zM294.05 356.80l2.30 4.14h-4.60zM294.16 356.30l2.30 4.14h-4.60zM294.27 355.81l2.30 4.14h-4.60zM294.39 355.31l2.30 4.14h-4.60zM294.50 354.82l2.30 4.14h-4.60zM294.61 354.32l2.30 4.14h-4.60zM294.73 353.83l2.30 4.14h-4.60zM294.84 353.33l2.30 4.14h-4.60zM294.95 352.83l2.30 4.14h-4.60zM295.07 352.34l2.30 4.14h-4.60zM295.18 351.84l2.30 4.14h-4.60zM295.30 351.35l2.30 4.14h-4.60zM295.41 350.85l2.30 4.14h-4.60zM295.52 350.36l2.30 4.14h-4.60zM295.64 349.86l2.30 4.14h-4.60zM295.75 349.37l2.30 4.14h-4.60zM295.86 348.87l2.30 4.14h-4.60zM295.98 348.38l2.30 4.14h-4.60zM296.09 347.88l2.30 4.14h-4.60zM296.20 347.38l2.30 4.14h-4.60zM296.32 346.89l2.30 4.14h-4.60zM296.43 346.39l2.30 4.14h-4.60zM296.55 345.90l2.30 4.14h-4.60zM296.66 345.40l2.30 4.14h-4.60zM296.77 344.91l2.30 4.14h-4.60zM296.89 344.41l2.30 4.14h-4.60zM297.00 343.92l2.30 4.14h-4.60zM297.14 343.42l2.30 4.14h-4.60zM297.27 342.93l2.30 4.14h-4.60zM297.41 342.43l2.30 4.14h-4.60zM297.55 341.93l2.30 4.14h-4.60zM297.68 341.44l2.30 4.14h-4.60zM297.82 340.94l2.30 4.14h-4.60zM297.95 340.45l2.30 4.14h-4.60zM298.09 339.95l2.30 4.14h-4.60zM298.23 339.46l2.30 4.14h-4.60zM298.36 338.96l2.30 4.14h-4.60zM298.50 338.47l2.30 4.14h-4.60zM298.64 337.97l2.30 4.14h-4.60zM298.77 337.48l2.30 4.14h-4.60zM298.91 336.98l2.30 4.14h-4.60zM299.05 336.48l2.30 4.14h-4.60zM299.18 335.99l2.30 4.14h-4.60zM299.32 335.49l2.30 4.14h-4.60zM299.45 335.00l2.30 4.14h-4.60zM299.59 334.50l2.30 4.14h-4.60zM299.73 334.01l2.30 4.14h-4.60zM299.86 333.51l2.30 4.14h-4.60zM300.00 333.02l2.30 4.14h-4.60zM300.14 332.52l2.30 4.14h-4.60zM300.27 332.02l2.30 4.14h-4.60zM300.41 331.52l2.30 4.14h-4.60zM300.55 331.02l2.30 4.14h-4.60zM300.68 330.52l2.30 4.14h-4.60zM300.82 330.02l2.30 4.14h-4.60zM300.95 329.52l2.30 4.14h-4.60zM301.09 329.02l2.30 4.14h-4.60zM301.23 328.52l2.30 4.14h-4.60zM301.36 328.02l2.30 4.14h-4.60zM301.50 327.52l2.30 4.14h-4.60zM301.68 327.03l2.30 4.14h-4.60zM301.86 326.54l2.30 4.14h-4.60zM302.04 326.06l2.30 4.14h-4.60zM302.22 325.57l2.30 4.14h-4.60zM302.40 325.08l2.30 4.14h-4.60zM302.58 324.60l2.30 4.14h-4.60zM302.76 324.11l2.30 4.14h-4.60zM302.94 323.62l2.30 4.14h-4.60zM303.12 323.14l2.30 4.14h-4.60zM303.30 322.65l2.30 4.14h-4.60zM303.48 322.16l2.30 4.14h-4.60zM303.66 321.68l2.30 4.14h-4.60zM303.84 321.19l2.30 4.14h-4.60zM304.02 320.70l2.30 4.14h-4.60zM304.20 320.22l2.30 4.14h-4.60zM304.61 319.72l2.30 4.14h-4.60zM305.02 319.22l2.30 4.14h-4.60zM305.43 318.72l2.30 4.14h-4.60zM305.84 318.22l2.30 4.14h-4.60zM306.25 317.72l2.30 4.14h-4.60zM306.66 317.22l2.30 4.14h-4.60zM307.07 316.72l2.30 4.14h-4.60zM307.48 316.22l2.30 4.14h-4.60zM307.89 315.72l2.30 4.14h-4.60zM308.30 315.22l2.30 4.14h-4.60zM308.77 314.98l2.30 4.14h-4.60zM309.24 314.74l2.30 4.14h-4.60zM309.71 314.50l2.30 4.14h-4.60zM310.18 314.26l2.30 4.14h-4.60zM310.65 314.02l2.30 4.14h-4.60zM311.12 313.78l2.30 4.14h-4.60zM311.59 313.54l2.30 4.14h-4.60zM312.06 313.30l2.30 4.14h-4.60zM312.53 313.06l2.30 4.14h-4.60zM313.00 312.82l2.30 4.14h-4.60zM313.50 312.67l2.30 4.14h-4.60zM314.00 312.52l2.30 4.14h-4.60zM314.50 312.37l2.30 4.14h-4.60zM315.00 312.22l2.30 4.14h-4.60zM315.50 312.07l2.30 4.14h-4.60zM316.00 311.92l2.30 4.14h-4.60zM316.50 311.77l2.30 4.14h-4.60zM317.00 311.62l2.30 4.14h-4.60zM317.50 311.47l2.30 4.14h-4.60zM318.00 311.32l2.30 4.14h-4.60zM318.50 311.17l2.30 4.14h-4.60zM319.00 311.02l2.30 4.14h-4.60zM319.49 310.92l2.30 4.14h-4.60zM319.98 310.82l2.30 4.14h-4.60zM320.47 310.72l2.30 4.14h-4.60zM320.96 310.62l2.30 4.14h-4.60zM321.44 310.52l2.30 4.14h-4.60zM321.93 310.42l2.30 4.14h-4.60zM322.42 310.32l2.30 4.14h-4.60zM322.91 310.22l2.30 4.14h-4.60zM323.40 310.12l2.30 4.14h-4.60zM329.30 309.62l2.30 4.14h-4.60zM332.60 308.42l2.30 4.14h-4.60zM335.20 307.62l2.30 4.14h-4.60zM338.50 307.22l2.30 4.14h-4.60zM341.00 306.72l2.30 4.14h-4.60zM344.40 306.22l2.30 4.14h-4.60zM350.00 306.22l2.30 4.14h-4.60zM355.00 305.92l2.30 4.14h-4.60zM382.20 305.92l2.30 4.14h-4.60z" fill="none" stroke="#ED7D31" stroke-width="1.5" stroke-linejoin="miter"/>
<rect x="50.00" y="12.65" width="179.10" height="202.85" fill="none" stroke="#000" stroke-width="1.6"/>
<line x1="49.20" y1="215.50" x2="229.10" y2="215.50" stroke="#595959" stroke-width="1.3"/>
<rect x="277.95" y="12.50" width="178.40" height="202.80" fill="none" stroke="#000" stroke-width="1.6"/>
<line x1="277.15" y1="215.30" x2="456.35" y2="215.30" stroke="#595959" stroke-width="1.3"/>
<rect x="57.05" y="274.15" width="179.02" height="204.75" fill="none" stroke="#000" stroke-width="1.6"/>
<line x1="56.25" y1="478.90" x2="236.07" y2="478.90" stroke="#595959" stroke-width="1.3"/>
<rect x="280.90" y="273.90" width="176.40" height="204.50" fill="none" stroke="#000" stroke-width="1.6"/>
<line x1="280.10" y1="478.40" x2="457.30" y2="478.40" stroke="#595959" stroke-width="1.3"/>
<line x1="50.00" y1="11.85" x2="50.00" y2="216.30" stroke="#595959" stroke-width="1.8"/>
<line x1="57.05" y1="273.35" x2="57.05" y2="479.70" stroke="#595959" stroke-width="1.8"/>
<g transform="translate(68.50,32.60) scale(1.0486,1)"><text x="-0.00" y="0" font-family="Liberation Sans" font-weight="bold" font-size="12" fill="#000" stroke="#000" stroke-width="0.25">Small Specimens (3D)</text></g>
<g transform="translate(299.20,29.80) scale(1.0416,1)"><text x="-0.00" y="0" font-family="Liberation Sans" font-weight="bold" font-size="12" fill="#000" stroke="#000" stroke-width="0.25">Large Specimens (3D)</text></g>
<g transform="translate(80.40,294.30) scale(1.0494,1)"><text x="-0.00" y="0" font-family="Liberation Sans" font-weight="bold" font-size="12" fill="#000" stroke="#000" stroke-width="0.25">Small Specimens (2D)</text></g>
<g transform="translate(308.40,292.80) scale(1.0352,1)"><text x="-0.00" y="0" font-family="Liberation Sans" font-weight="bold" font-size="12" fill="#000" stroke="#000" stroke-width="0.25">Large Specimens (2D)</text></g>
<path d="M116.15 160.30a2.35 2.35 0 1 0 4.70 0a2.35 2.35 0 1 0 -4.70 0z" fill="none" stroke="#4472C4" stroke-width="1.4"/>
<g transform="translate(125.00,164.80) scale(1.0633,1)"><text x="-0.00" y="0" font-family="Liberation Sans" font-weight="bold" font-size="12" fill="#000" stroke="#000" stroke-width="0.25">Porosity Level 1</text><rect x="85.48" y="-1.32" width="2.64" height="2.72" fill="#fff"/><rect x="89.87" y="-1.32" width="2.30" height="2.72" fill="#fff"/></g>
<path d="M118.50 172.82l2.30 4.14h-4.60z" fill="none" stroke="#ED7D31" stroke-width="1.5"/>
<g transform="translate(125.00,179.80) scale(1.0633,1)"><text x="-0.00" y="0" font-family="Liberation Sans" font-weight="bold" font-size="12" fill="#000" stroke="#000" stroke-width="0.25">Porosity Level 2</text></g>
<path d="M118.50 188.05l2.55 2.55l-2.55 2.55l-2.55 -2.55z" fill="none" stroke="#FF0000" stroke-width="1.4"/>
<g transform="translate(125.00,195.10) scale(1.0633,1)"><text x="-0.00" y="0" font-family="Liberation Sans" font-weight="bold" font-size="12" fill="#000" stroke="#000" stroke-width="0.25">Porosity Level 3</text></g>
<path d="M116.20 203.40h4.60v4.60h-4.60z" fill="none" stroke="#7030A0" stroke-width="1.4"/>
<g transform="translate(125.00,210.20) scale(1.0633,1)"><text x="-0.00" y="0" font-family="Liberation Sans" font-weight="bold" font-size="12" fill="#000" stroke="#000" stroke-width="0.25">Porosity Level 4</text></g>
<path d="M341.45 188.00a2.35 2.35 0 1 0 4.70 0a2.35 2.35 0 1 0 -4.70 0z" fill="none" stroke="#4472C4" stroke-width="1.4"/>
<g transform="translate(350.80,192.50) scale(1.0533,1)"><text x="-0.00" y="0" font-family="Liberation Sans" font-weight="bold" font-size="12" fill="#000" stroke="#000" stroke-width="0.25">Porosity Level 1</text><rect x="85.48" y="-1.32" width="2.64" height="2.72" fill="#fff"/><rect x="89.87" y="-1.32" width="2.30" height="2.72" fill="#fff"/></g>
<path d="M343.80 203.22l2.30 4.14h-4.60z" fill="none" stroke="#ED7D31" stroke-width="1.5"/>
<g transform="translate(350.80,210.20) scale(1.0533,1)"><text x="-0.00" y="0" font-family="Liberation Sans" font-weight="bold" font-size="12" fill="#000" stroke="#000" stroke-width="0.25">Porosity Level 3</text></g>
<path d="M122.65 425.00a2.35 2.35 0 1 0 4.70 0a2.35 2.35 0 1 0 -4.70 0z" fill="none" stroke="#4472C4" stroke-width="1.4"/>
<g transform="translate(132.40,429.50) scale(1.0533,1)"><text x="-0.00" y="0" font-family="Liberation Sans" font-weight="bold" font-size="12" fill="#000" stroke="#000" stroke-width="0.25">Porosity Level 1</text><rect x="85.48" y="-1.32" width="2.64" height="2.72" fill="#fff"/><rect x="89.87" y="-1.32" width="2.30" height="2.72" fill="#fff"/></g>
<path d="M125.00 437.22l2.30 4.14h-4.60z" fill="none" stroke="#ED7D31" stroke-width="1.5"/>
<g transform="translate(132.40,444.20) scale(1.0533,1)"><text x="-0.00" y="0" font-family="Liberation Sans" font-weight="bold" font-size="12" fill="#000" stroke="#000" stroke-width="0.25">Porosity Level 2</text></g>
<path d="M125.00 452.45l2.55 2.55l-2.55 2.55l-2.55 -2.55z" fill="none" stroke="#FF0000" stroke-width="1.4"/>
<g transform="translate(132.40,459.50) scale(1.0533,1)"><text x="-0.00" y="0" font-family="Liberation Sans" font-weight="bold" font-size="12" fill="#000" stroke="#000" stroke-width="0.25">Porosity Level 3</text></g>
<path d="M122.70 467.40h4.60v4.60h-4.60z" fill="none" stroke="#7030A0" stroke-width="1.4"/>
<g transform="translate(132.40,474.20) scale(1.0533,1)"><text x="-0.00" y="0" font-family="Liberation Sans" font-weight="bold" font-size="12" fill="#000" stroke="#000" stroke-width="0.25">Porosity Level 4</text></g>
<path d="M346.95 448.10a2.35 2.35 0 1 0 4.70 0a2.35 2.35 0 1 0 -4.70 0z" fill="none" stroke="#4472C4" stroke-width="1.4"/>
<g transform="translate(356.40,452.60) scale(1.0522,1)"><text x="-0.00" y="0" font-family="Liberation Sans" font-weight="bold" font-size="12" fill="#000" stroke="#000" stroke-width="0.25">Porosity Level 1</text><rect x="85.48" y="-1.32" width="2.64" height="2.72" fill="#fff"/><rect x="89.87" y="-1.32" width="2.30" height="2.72" fill="#fff"/></g>
<path d="M349.30 464.52l2.30 4.14h-4.60z" fill="none" stroke="#ED7D31" stroke-width="1.5"/>
<g transform="translate(356.40,471.50) scale(1.0522,1)"><text x="-0.00" y="0" font-family="Liberation Sans" font-weight="bold" font-size="12" fill="#000" stroke="#000" stroke-width="0.25">Porosity Level 3</text></g>
<g transform="translate(32.41,219.80) scale(1.0200,1)"><text x="-0.00" y="0" font-family="Liberation Sans" font-weight="bold" font-size="12" fill="#000" stroke="#000" stroke-width="0.25">0</text></g>
<g transform="translate(22.19,185.99) scale(1.0200,1)"><text x="-0.00" y="0" font-family="Liberation Sans" font-weight="bold" font-size="12" fill="#000" stroke="#000" stroke-width="0.25">0.2</text></g>
<g transform="translate(22.19,152.18) scale(1.0200,1)"><text x="-0.00" y="0" font-family="Liberation Sans" font-weight="bold" font-size="12" fill="#000" stroke="#000" stroke-width="0.25">0.4</text></g>
<g transform="translate(22.19,118.38) scale(1.0200,1)"><text x="-0.00" y="0" font-family="Liberation Sans" font-weight="bold" font-size="12" fill="#000" stroke="#000" stroke-width="0.25">0.6</text></g>
<g transform="translate(22.19,84.57) scale(1.0200,1)"><text x="-0.00" y="0" font-family="Liberation Sans" font-weight="bold" font-size="12" fill="#000" stroke="#000" stroke-width="0.25">0.8</text></g>
<g transform="translate(35.50,50.76) scale(1.0200,1)"><text x="-0.82" y="0" font-family="Liberation Sans" font-weight="bold" font-size="12" fill="#000" stroke="#000" stroke-width="0.25">1</text><rect x="-0.70" y="-1.32" width="2.64" height="2.72" fill="#fff"/><rect x="3.68" y="-1.32" width="2.30" height="2.72" fill="#fff"/></g>
<g transform="translate(23.02,16.95) scale(1.0200,1)"><text x="-0.82" y="0" font-family="Liberation Sans" font-weight="bold" font-size="12" fill="#000" stroke="#000" stroke-width="0.25">1.2</text><rect x="-0.70" y="-1.32" width="2.64" height="2.72" fill="#fff"/><rect x="3.68" y="-1.32" width="2.30" height="2.72" fill="#fff"/></g>
<g transform="translate(39.41,483.20) scale(1.0200,1)"><text x="-0.00" y="0" font-family="Liberation Sans" font-weight="bold" font-size="12" fill="#000" stroke="#000" stroke-width="0.25">0</text></g>
<g transform="translate(29.19,449.07) scale(1.0200,1)"><text x="-0.00" y="0" font-family="Liberation Sans" font-weight="bold" font-size="12" fill="#000" stroke="#000" stroke-width="0.25">0.2</text></g>
<g transform="translate(29.19,414.95) scale(1.0200,1)"><text x="-0.00" y="0" font-family="Liberation Sans" font-weight="bold" font-size="12" fill="#000" stroke="#000" stroke-width="0.25">0.4</text></g>
<g transform="translate(29.19,380.82) scale(1.0200,1)"><text x="-0.00" y="0" font-family="Liberation Sans" font-weight="bold" font-size="12" fill="#000" stroke="#000" stroke-width="0.25">0.6</text></g>
<g transform="translate(29.19,346.70) scale(1.0200,1)"><text x="-0.00" y="0" font-family="Liberation Sans" font-weight="bold" font-size="12" fill="#000" stroke="#000" stroke-width="0.25">0.8</text></g>
<g transform="translate(42.50,312.57) scale(1.0200,1)"><text x="-0.82" y="0" font-family="Liberation Sans" font-weight="bold" font-size="12" fill="#000" stroke="#000" stroke-width="0.25">1</text><rect x="-0.70" y="-1.32" width="2.64" height="2.72" fill="#fff"/><rect x="3.68" y="-1.32" width="2.30" height="2.72" fill="#fff"/></g>
<g transform="translate(30.02,278.45) scale(1.0200,1)"><text x="-0.82" y="0" font-family="Liberation Sans" font-weight="bold" font-size="12" fill="#000" stroke="#000" stroke-width="0.25">1.2</text><rect x="-0.70" y="-1.32" width="2.64" height="2.72" fill="#fff"/><rect x="3.68" y="-1.32" width="2.30" height="2.72" fill="#fff"/></g>
<g transform="translate(46.52,235.60) scale(1.0450,1)"><text x="-0.00" y="0" font-family="Liberation Sans" font-weight="bold" font-size="12" fill="#000" stroke="#000" stroke-width="0.25">0</text></g>
<g transform="translate(84.73,235.60) scale(1.0450,1)"><text x="-0.82" y="0" font-family="Liberation Sans" font-weight="bold" font-size="12" fill="#000" stroke="#000" stroke-width="0.25">150</text><rect x="-0.70" y="-1.32" width="2.64" height="2.72" fill="#fff"/><rect x="3.68" y="-1.32" width="2.30" height="2.72" fill="#fff"/></g>
<g transform="translate(129.08,235.60) scale(1.0450,1)"><text x="-0.00" y="0" font-family="Liberation Sans" font-weight="bold" font-size="12" fill="#000" stroke="#000" stroke-width="0.25">300</text></g>
<g transform="translate(173.85,235.60) scale(1.0450,1)"><text x="-0.00" y="0" font-family="Liberation Sans" font-weight="bold" font-size="12" fill="#000" stroke="#000" stroke-width="0.25">450</text></g>
<g transform="translate(218.63,235.60) scale(1.0450,1)"><text x="-0.00" y="0" font-family="Liberation Sans" font-weight="bold" font-size="12" fill="#000" stroke="#000" stroke-width="0.25">600</text></g>
<g transform="translate(274.47,235.60) scale(1.0450,1)"><text x="-0.00" y="0" font-family="Liberation Sans" font-weight="bold" font-size="12" fill="#000" stroke="#000" stroke-width="0.25">0</text></g>
<g transform="translate(303.16,235.60) scale(1.0450,1)"><text x="-0.00" y="0" font-family="Liberation Sans" font-weight="bold" font-size="12" fill="#000" stroke="#000" stroke-width="0.25">300</text></g>
<g transform="translate(338.84,235.60) scale(1.0450,1)"><text x="-0.00" y="0" font-family="Liberation Sans" font-weight="bold" font-size="12" fill="#000" stroke="#000" stroke-width="0.25">600</text></g>
<g transform="translate(374.52,235.60) scale(1.0450,1)"><text x="-0.00" y="0" font-family="Liberation Sans" font-weight="bold" font-size="12" fill="#000" stroke="#000" stroke-width="0.25">900</text></g>
<g transform="translate(407.15,235.60) scale(1.0450,1)"><text x="-0.82" y="0" font-family="Liberation Sans" font-weight="bold" font-size="12" fill="#000" stroke="#000" stroke-width="0.25">1200</text><rect x="-0.70" y="-1.32" width="2.64" height="2.72" fill="#fff"/><rect x="3.68" y="-1.32" width="2.30" height="2.72" fill="#fff"/></g>
<g transform="translate(442.83,235.60) scale(1.0450,1)"><text x="-0.82" y="0" font-family="Liberation Sans" font-weight="bold" font-size="12" fill="#000" stroke="#000" stroke-width="0.25">1500</text><rect x="-0.70" y="-1.32" width="2.64" height="2.72" fill="#fff"/><rect x="3.68" y="-1.32" width="2.30" height="2.72" fill="#fff"/></g>
<g transform="translate(53.57,498.80) scale(1.0450,1)"><text x="-0.00" y="0" font-family="Liberation Sans" font-weight="bold" font-size="12" fill="#000" stroke="#000" stroke-width="0.25">0</text></g>
<g transform="translate(91.76,498.80) scale(1.0450,1)"><text x="-0.82" y="0" font-family="Liberation Sans" font-weight="bold" font-size="12" fill="#000" stroke="#000" stroke-width="0.25">150</text><rect x="-0.70" y="-1.32" width="2.64" height="2.72" fill="#fff"/><rect x="3.68" y="-1.32" width="2.30" height="2.72" fill="#fff"/></g>
<g transform="translate(136.09,498.80) scale(1.0450,1)"><text x="-0.00" y="0" font-family="Liberation Sans" font-weight="bold" font-size="12" fill="#000" stroke="#000" stroke-width="0.25">300</text></g>
<g transform="translate(180.84,498.80) scale(1.0450,1)"><text x="-0.00" y="0" font-family="Liberation Sans" font-weight="bold" font-size="12" fill="#000" stroke="#000" stroke-width="0.25">450</text></g>
<g transform="translate(225.60,498.80) scale(1.0450,1)"><text x="-0.00" y="0" font-family="Liberation Sans" font-weight="bold" font-size="12" fill="#000" stroke="#000" stroke-width="0.25">600</text></g>
<g transform="translate(277.42,498.60) scale(1.0450,1)"><text x="-0.00" y="0" font-family="Liberation Sans" font-weight="bold" font-size="12" fill="#000" stroke="#000" stroke-width="0.25">0</text></g>
<g transform="translate(329.23,498.60) scale(1.0450,1)"><text x="-0.00" y="0" font-family="Liberation Sans" font-weight="bold" font-size="12" fill="#000" stroke="#000" stroke-width="0.25">500</text></g>
<g transform="translate(384.98,498.60) scale(1.0450,1)"><text x="-0.82" y="0" font-family="Liberation Sans" font-weight="bold" font-size="12" fill="#000" stroke="#000" stroke-width="0.25">1000</text><rect x="-0.70" y="-1.32" width="2.64" height="2.72" fill="#fff"/><rect x="3.68" y="-1.32" width="2.30" height="2.72" fill="#fff"/></g>
<g transform="translate(443.78,498.60) scale(1.0450,1)"><text x="-0.82" y="0" font-family="Liberation Sans" font-weight="bold" font-size="12" fill="#000" stroke="#000" stroke-width="0.25">1500</text><rect x="-0.70" y="-1.32" width="2.64" height="2.72" fill="#fff"/><rect x="3.68" y="-1.32" width="2.30" height="2.72" fill="#fff"/></g>
<text transform="translate(17.00,182.00) rotate(-90) scale(1.0360,1)" x="-0.00" y="0" font-family="Liberation Sans" font-weight="bold" font-size="12" fill="#000" stroke="#000" stroke-width="0.25">Cumulative Probability</text>
<text transform="translate(22.70,444.80) rotate(-90) scale(1.0429,1)" x="-0.00" y="0" font-family="Liberation Sans" font-weight="bold" font-size="12" fill="#000" stroke="#000" stroke-width="0.25">Cumulative Probability</text>
<g transform="translate(101.20,517.90) scale(1.0455,1)"><text x="-0.00" y="0" font-family="Liberation Sans" font-weight="bold" font-size="12" fill="#000" stroke="#000" stroke-width="0.25">Defect size, µm</text></g>
<g transform="translate(322.60,517.90) scale(1.0455,1)"><text x="-0.00" y="0" font-family="Liberation Sans" font-weight="bold" font-size="12" fill="#000" stroke="#000" stroke-width="0.25">Defect size, µm</text></g>
<text transform="translate(116.80,256.22) scale(0.9310,0.9821)" x="-0.00" y="0" font-family="Liberation Serif" font-size="16" fill="#000">(<tspan font-weight="bold">a</tspan>)</text>
<text transform="translate(365.00,256.22) scale(0.9190,0.9821)" x="-0.00" y="0" font-family="Liberation Serif" font-size="16" fill="#000">(<tspan font-weight="bold">b</tspan>)</text>
<text transform="translate(117.30,543.52) scale(0.9556,0.9821)" x="-0.00" y="0" font-family="Liberation Serif" font-size="16" fill="#000">(<tspan font-weight="bold">c</tspan>)</text>
<text transform="translate(364.90,543.55) scale(0.9496,1.0027)" x="-0.00" y="0" font-family="Liberation Serif" font-size="16" fill="#000">(<tspan font-weight="bold">d</tspan>)</text>
</svg></body></html>
